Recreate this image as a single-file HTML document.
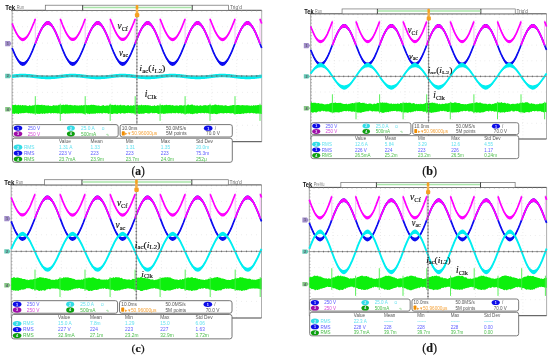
<!DOCTYPE html>
<html><head><meta charset="utf-8"><title>Oscilloscope waveforms</title><style>html,body{margin:0;padding:0;background:#fff;width:550px;height:356px;overflow:hidden}svg{display:block}</style></head><body>
<svg width="550" height="356" viewBox="0 0 550 356">
<defs><filter id="soft" x="0" y="0" width="1" height="1"><feGaussianBlur stdDeviation="0.35"/></filter></defs>
<rect width="550" height="356" fill="#fff"/>
<g filter="url(#soft)">
<rect width="550" height="356" fill="#fff"/>
<line x1="37.1" y1="10.3" x2="37.1" y2="141.7" stroke="#cfcfcf" stroke-width="0.6" stroke-dasharray="0.6 2.7"/>
<line x1="62" y1="10.3" x2="62" y2="141.7" stroke="#cfcfcf" stroke-width="0.6" stroke-dasharray="0.6 2.7"/>
<line x1="87" y1="10.3" x2="87" y2="141.7" stroke="#cfcfcf" stroke-width="0.6" stroke-dasharray="0.6 2.7"/>
<line x1="111.9" y1="10.3" x2="111.9" y2="141.7" stroke="#cfcfcf" stroke-width="0.6" stroke-dasharray="0.6 2.7"/>
<line x1="161.9" y1="10.3" x2="161.9" y2="141.7" stroke="#cfcfcf" stroke-width="0.6" stroke-dasharray="0.6 2.7"/>
<line x1="186.8" y1="10.3" x2="186.8" y2="141.7" stroke="#cfcfcf" stroke-width="0.6" stroke-dasharray="0.6 2.7"/>
<line x1="211.8" y1="10.3" x2="211.8" y2="141.7" stroke="#cfcfcf" stroke-width="0.6" stroke-dasharray="0.6 2.7"/>
<line x1="236.7" y1="10.3" x2="236.7" y2="141.7" stroke="#cfcfcf" stroke-width="0.6" stroke-dasharray="0.6 2.7"/>
<line x1="12.1" y1="26.7" x2="261.7" y2="26.7" stroke="#cfcfcf" stroke-width="0.6" stroke-dasharray="0.6 4.4"/>
<line x1="12.1" y1="43.1" x2="261.7" y2="43.1" stroke="#cfcfcf" stroke-width="0.6" stroke-dasharray="0.6 4.4"/>
<line x1="12.1" y1="59.6" x2="261.7" y2="59.6" stroke="#cfcfcf" stroke-width="0.6" stroke-dasharray="0.6 4.4"/>
<line x1="12.1" y1="92.4" x2="261.7" y2="92.4" stroke="#cfcfcf" stroke-width="0.6" stroke-dasharray="0.6 4.4"/>
<line x1="12.1" y1="108.8" x2="261.7" y2="108.8" stroke="#cfcfcf" stroke-width="0.6" stroke-dasharray="0.6 4.4"/>
<line x1="12.1" y1="125.3" x2="261.7" y2="125.3" stroke="#cfcfcf" stroke-width="0.6" stroke-dasharray="0.6 4.4"/>
<line x1="12.1" y1="10.3" x2="12.1" y2="141.7" stroke="#9a9a9a" stroke-width="0.9"/>
<path d="M12.1 13.6h1.3 M12.1 16.9h1.3 M12.1 20.2h1.3 M12.1 23.4h1.3 M12.1 26.7h1.3 M12.1 30h1.3 M12.1 33.3h1.3 M12.1 36.6h1.3 M12.1 39.9h1.3 M12.1 43.1h1.3 M12.1 46.4h1.3 M12.1 49.7h1.3 M12.1 53h1.3 M12.1 56.3h1.3 M12.1 59.6h1.3 M12.1 62.9h1.3 M12.1 66.1h1.3 M12.1 69.4h1.3 M12.1 72.7h1.3 M12.1 76h1.3 M12.1 79.3h1.3 M12.1 82.6h1.3 M12.1 85.9h1.3 M12.1 89.1h1.3 M12.1 92.4h1.3 M12.1 95.7h1.3 M12.1 99h1.3 M12.1 102.3h1.3 M12.1 105.6h1.3 M12.1 108.8h1.3 M12.1 112.1h1.3 M12.1 115.4h1.3 M12.1 118.7h1.3 M12.1 122h1.3 M12.1 125.3h1.3 M12.1 128.6h1.3 M12.1 131.8h1.3 M12.1 135.1h1.3 M12.1 138.4h1.3" stroke="#8a8a8a" stroke-width="0.6"/>
<line x1="261.7" y1="10.3" x2="261.7" y2="141.7" stroke="#999" stroke-width="0.8"/>
<line x1="12.1" y1="141.7" x2="261.7" y2="141.7" stroke="#444" stroke-width="1"/>
<line x1="11.1" y1="10.3" x2="261.7" y2="10.3" stroke="#333" stroke-width="0.9"/>
<path d="M12.1 10.3v1.3 M17.1 10.3v1.3 M22.1 10.3v1.3 M27.1 10.3v1.3 M32.1 10.3v1.3 M37.1 10.3v1.3 M42.1 10.3v1.3 M47 10.3v1.3 M52 10.3v1.3 M57 10.3v1.3 M62 10.3v1.3 M67 10.3v1.3 M72 10.3v1.3 M77 10.3v1.3 M82 10.3v1.3 M87 10.3v1.3 M92 10.3v1.3 M97 10.3v1.3 M102 10.3v1.3 M106.9 10.3v1.3 M111.9 10.3v1.3 M116.9 10.3v1.3 M121.9 10.3v1.3 M126.9 10.3v1.3 M131.9 10.3v1.3 M136.9 10.3v1.3 M141.9 10.3v1.3 M146.9 10.3v1.3 M151.9 10.3v1.3 M156.9 10.3v1.3 M161.9 10.3v1.3 M166.9 10.3v1.3 M171.8 10.3v1.3 M176.8 10.3v1.3 M181.8 10.3v1.3 M186.8 10.3v1.3 M191.8 10.3v1.3 M196.8 10.3v1.3 M201.8 10.3v1.3 M206.8 10.3v1.3 M211.8 10.3v1.3 M216.8 10.3v1.3 M221.8 10.3v1.3 M226.8 10.3v1.3 M231.7 10.3v1.3 M236.7 10.3v1.3 M241.7 10.3v1.3 M246.7 10.3v1.3 M251.7 10.3v1.3 M256.7 10.3v1.3 M261.7 10.3v1.3" stroke="#9a9a9a" stroke-width="0.6"/>
<path d="M12.1 47.3 13.1 49.8 14.2 52.1 15.2 54.3 16.3 56.2 17.3 57.9 18.3 59.3 19.4 60.4 20.4 61.3 21.5 61.8 22.5 62.1 23.5 62 24.6 61.7 25.6 61 26.7 60.1 27.7 58.8 28.7 57.3 29.8 55.5 30.8 53.5 31.9 51.3 32.9 48.9 33.9 46.4 35 43.7 36 41 37.1 38.3 38.1 35.7 39.1 33.1 40.2 30.6 41.2 28.4 42.3 26.4 43.3 24.6 44.3 23.2 45.4 22.1 46.4 21.4 47.5 21.1 48.5 21.1 49.5 21.6 50.6 22.5 51.6 23.7 52.7 25.2 53.7 27.1 54.7 29.2 55.8 31.5 56.8 34 57.9 36.6 58.9 39.3 59.9 42 61 44.7 62 47.3 63.1 49.8 64.1 52.1 65.1 54.3 66.2 56.2 67.2 57.9 68.3 59.3 69.3 60.4 70.3 61.3 71.4 61.8 72.4 62.1 73.5 62 74.5 61.7 75.5 61 76.6 60.1 77.6 58.8 78.7 57.3 79.7 55.5 80.7 53.5 81.8 51.3 82.8 48.9 83.9 46.4 84.9 43.7 85.9 41 87 38.3 88 35.7 89.1 33.1 90.1 30.6 91.1 28.4 92.2 26.4 93.2 24.6 94.3 23.2 95.3 22.1 96.3 21.4 97.4 21.1 98.4 21.1 99.5 21.6 100.5 22.5 101.5 23.7 102.6 25.2 103.6 27.1 104.7 29.2 105.7 31.5 106.7 34 107.8 36.6 108.8 39.3 109.9 42 110.9 44.7 111.9 47.3 113 49.8 114 52.1 115.1 54.3 116.1 56.2 117.1 57.9 118.2 59.3 119.2 60.4 120.3 61.3 121.3 61.8 122.3 62.1 123.4 62 124.4 61.7 125.5 61 126.5 60.1 127.5 58.8 128.6 57.3 129.6 55.5 130.7 53.5 131.7 51.3 132.7 48.9 133.8 46.4 134.8 43.7 135.9 41 136.9 38.3 137.9 35.7 139 33.1 140 30.6 141.1 28.4 142.1 26.4 143.1 24.6 144.2 23.2 145.2 22.1 146.3 21.4 147.3 21.1 148.3 21.1 149.4 21.6 150.4 22.5 151.5 23.7 152.5 25.2 153.5 27.1 154.6 29.2 155.6 31.5 156.7 34 157.7 36.6 158.7 39.3 159.8 42 160.8 44.7 161.9 47.3 162.9 49.8 163.9 52.1 165 54.3 166 56.2 167.1 57.9 168.1 59.3 169.1 60.4 170.2 61.3 171.2 61.8 172.3 62.1 173.3 62 174.3 61.7 175.4 61 176.4 60.1 177.5 58.8 178.5 57.3 179.5 55.5 180.6 53.5 181.6 51.3 182.7 48.9 183.7 46.4 184.7 43.7 185.8 41 186.8 38.3 187.9 35.7 188.9 33.1 189.9 30.6 191 28.4 192 26.4 193.1 24.6 194.1 23.2 195.1 22.1 196.2 21.4 197.2 21.1 198.3 21.1 199.3 21.6 200.3 22.5 201.4 23.7 202.4 25.2 203.5 27.1 204.5 29.2 205.5 31.5 206.6 34 207.6 36.6 208.7 39.3 209.7 42 210.7 44.7 211.8 47.3 212.8 49.8 213.9 52.1 214.9 54.3 215.9 56.2 217 57.9 218 59.3 219.1 60.4 220.1 61.3 221.1 61.8 222.2 62.1 223.2 62 224.3 61.7 225.3 61 226.3 60.1 227.4 58.8 228.4 57.3 229.5 55.5 230.5 53.5 231.5 51.3 232.6 48.9 233.6 46.4 234.7 43.7 235.7 41 236.7 38.3 237.8 35.7 238.8 33.1 239.9 30.6 240.9 28.4 241.9 26.4 243 24.6 244 23.2 245.1 22.1 246.1 21.4 247.1 21.1 248.2 21.1 249.2 21.6 250.3 22.5 251.3 23.7 252.3 25.2 253.4 27.1 254.4 29.2 255.5 31.5 256.5 34 257.5 36.6 258.6 39.3 259.6 42 260.7 44.7 261.7 47.3 261.7 48.6 260.7 45.9 259.6 43.2 258.6 40.6 257.5 38.1 256.5 35.7 255.5 33.5 254.4 31.4 253.4 29.7 252.3 28.2 251.3 26.9 250.3 25.9 249.2 25.3 248.2 24.9 247.1 24.9 246.1 25.1 245.1 25.7 244 26.5 243 27.7 241.9 29.1 240.9 30.8 239.9 32.7 238.8 34.8 237.8 37.2 236.7 39.7 235.7 42.3 234.7 44.9 233.6 47.6 232.6 50.3 231.5 53 230.5 55.5 229.5 57.8 228.4 59.9 227.4 61.7 226.3 63.3 225.3 64.5 224.3 65.4 223.2 65.8 222.2 65.9 221.1 65.6 220.1 64.9 219.1 63.8 218 62.3 217 60.6 215.9 58.6 214.9 56.3 213.9 53.9 212.8 51.3 211.8 48.6 210.7 45.9 209.7 43.2 208.7 40.6 207.6 38.1 206.6 35.7 205.5 33.5 204.5 31.4 203.5 29.7 202.4 28.2 201.4 26.9 200.3 25.9 199.3 25.3 198.3 24.9 197.2 24.9 196.2 25.1 195.1 25.7 194.1 26.5 193.1 27.7 192 29.1 191 30.8 189.9 32.7 188.9 34.8 187.9 37.2 186.8 39.7 185.8 42.3 184.7 44.9 183.7 47.6 182.7 50.3 181.6 53 180.6 55.5 179.5 57.8 178.5 59.9 177.5 61.7 176.4 63.3 175.4 64.5 174.3 65.4 173.3 65.8 172.3 65.9 171.2 65.6 170.2 64.9 169.1 63.8 168.1 62.3 167.1 60.6 166 58.6 165 56.3 163.9 53.9 162.9 51.3 161.9 48.6 160.8 45.9 159.8 43.2 158.7 40.6 157.7 38.1 156.7 35.7 155.6 33.5 154.6 31.4 153.5 29.7 152.5 28.2 151.5 26.9 150.4 25.9 149.4 25.3 148.3 24.9 147.3 24.9 146.3 25.1 145.2 25.7 144.2 26.5 143.1 27.7 142.1 29.1 141.1 30.8 140 32.7 139 34.8 137.9 37.2 136.9 39.7 135.9 42.3 134.8 44.9 133.8 47.6 132.7 50.3 131.7 53 130.7 55.5 129.6 57.8 128.6 59.9 127.5 61.7 126.5 63.3 125.5 64.5 124.4 65.4 123.4 65.8 122.3 65.9 121.3 65.6 120.3 64.9 119.2 63.8 118.2 62.3 117.1 60.6 116.1 58.6 115.1 56.3 114 53.9 113 51.3 111.9 48.6 110.9 45.9 109.9 43.2 108.8 40.6 107.8 38.1 106.7 35.7 105.7 33.5 104.7 31.4 103.6 29.7 102.6 28.2 101.5 26.9 100.5 25.9 99.5 25.3 98.4 24.9 97.4 24.9 96.3 25.1 95.3 25.7 94.3 26.5 93.2 27.7 92.2 29.1 91.1 30.8 90.1 32.7 89.1 34.8 88 37.2 87 39.7 85.9 42.3 84.9 44.9 83.9 47.6 82.8 50.3 81.8 53 80.7 55.5 79.7 57.8 78.7 59.9 77.6 61.7 76.6 63.3 75.5 64.5 74.5 65.4 73.5 65.8 72.4 65.9 71.4 65.6 70.3 64.9 69.3 63.8 68.3 62.3 67.2 60.6 66.2 58.6 65.1 56.3 64.1 53.9 63.1 51.3 62 48.6 61 45.9 59.9 43.2 58.9 40.6 57.9 38.1 56.8 35.7 55.8 33.5 54.7 31.4 53.7 29.7 52.7 28.2 51.6 26.9 50.6 25.9 49.5 25.3 48.5 24.9 47.5 24.9 46.4 25.1 45.4 25.7 44.3 26.5 43.3 27.7 42.3 29.1 41.2 30.8 40.2 32.7 39.1 34.8 38.1 37.2 37.1 39.7 36 42.3 35 44.9 33.9 47.6 32.9 50.3 31.9 53 30.8 55.5 29.8 57.8 28.7 59.9 27.7 61.7 26.7 63.3 25.6 64.5 24.6 65.4 23.5 65.8 22.5 65.9 21.5 65.6 20.4 64.9 19.4 63.8 18.3 62.3 17.3 60.6 16.3 58.6 15.2 56.3 14.2 53.9 13.1 51.3 12.1 48.6Z" fill="#0a0af0"/>
<path d="M12.1 48 13.7 51.8 15.2 55.3 16.8 58.3 18.3 60.8 19.9 62.6 21.5 63.7 23 64 24.6 63.5 26.1 62.3 27.7 60.3 29.3 57.7 30.8 54.5 32.4 50.9 33.9 47 35.5 43 37.1 39 38.6 35.2 40.2 31.7 41.7 28.6 43.3 26.1 44.9 24.3 46.4 23.3 48 23 49.5 23.4 51.1 24.7 52.7 26.7 54.2 29.3 55.8 32.5 57.3 36.1 58.9 39.9 60.5 44 62 48 63.6 51.8 65.1 55.3 66.7 58.3 68.3 60.8 69.8 62.6 71.4 63.7 72.9 64 74.5 63.5 76.1 62.3 77.6 60.3 79.2 57.7 80.7 54.5 82.3 50.9 83.9 47 85.4 43 87 39 88.5 35.2 90.1 31.7 91.7 28.6 93.2 26.1 94.8 24.3 96.3 23.3 97.9 23 99.5 23.4 101 24.7 102.6 26.7 104.1 29.3 105.7 32.5 107.3 36.1 108.8 39.9 110.4 44 111.9 48 113.5 51.8 115.1 55.3 116.6 58.3 118.2 60.8 119.7 62.6 121.3 63.7 122.9 64 124.4 63.5 126 62.3 127.5 60.3 129.1 57.7 130.7 54.5 132.2 50.9 133.8 47 135.3 43 136.9 39 138.5 35.2 140 31.7 141.6 28.6 143.1 26.1 144.7 24.3 146.3 23.3 147.8 23 149.4 23.4 150.9 24.7 152.5 26.7 154.1 29.3 155.6 32.5 157.2 36.1 158.7 39.9 160.3 44 161.9 48 163.4 51.8 165 55.3 166.5 58.3 168.1 60.8 169.7 62.6 171.2 63.7 172.8 64 174.3 63.5 175.9 62.3 177.5 60.3 179 57.7 180.6 54.5 182.1 50.9 183.7 47 185.3 43 186.8 39 188.4 35.2 189.9 31.7 191.5 28.6 193.1 26.1 194.6 24.3 196.2 23.3 197.7 23 199.3 23.4 200.9 24.7 202.4 26.7 204 29.3 205.5 32.5 207.1 36.1 208.7 39.9 210.2 44 211.8 48 213.3 51.8 214.9 55.3 216.5 58.3 218 60.8 219.6 62.6 221.1 63.7 222.7 64 224.3 63.5 225.8 62.3 227.4 60.3 228.9 57.7 230.5 54.5 232.1 50.9 233.6 47 235.2 43 236.7 39 238.3 35.2 239.9 31.7 241.4 28.6 243 26.1 244.5 24.3 246.1 23.3 247.7 23 249.2 23.4 250.8 24.7 252.3 26.7 253.9 29.3 255.5 32.5 257 36.1 258.6 39.9 260.1 44 261.7 48" fill="none" stroke="#0a0af0" stroke-width="1.7"/>
<path d="M35.3 17.8V44 M60.3 17.8V44 M85.2 17.8V44 M110.2 17.8V44 M135.2 17.8V44 M160.1 17.8V44 M185.1 17.8V44 M210 17.8V44 M235 17.8V44 M260 17.8V44" stroke="#f8a8f8" stroke-width="0.8"/>
<path d="M12.1 22.8 13.2 25.4 14.2 27.8 15.3 30 16.3 31.9 17.4 33.7 18.4 35.1 19.5 36.3 20.5 37.1 21.6 37.7 22.7 37.9 23.7 37.8 24.8 37.3 25.8 36.6 26.9 35.5 27.9 34.2 29 32.6 30 30.7 31.1 28.5 32.1 26.2 33.2 23.7 34.3 21.1 35.3 18.4 35.3 19.6 34.3 22.3 33.2 25.1 32.1 27.7 31.1 30.3 30 32.7 29 34.8 27.9 36.7 26.9 38.3 25.8 39.6 24.8 40.5 23.7 41 22.7 41.2 21.6 40.9 20.5 40.3 19.5 39.2 18.4 37.8 17.4 36.1 16.3 34.1 15.3 31.9 14.2 29.4 13.2 26.8 12.1 24.1Z M35.3 42.9 36.4 40.2 37.4 37.5 38.4 34.8 39.5 32.3 40.5 29.9 41.6 27.8 42.6 25.8 43.6 24.2 44.7 22.9 45.7 21.9 46.8 21.3 47.8 21.1 48.8 21.3 49.9 21.9 50.9 22.9 52 24.2 53 25.8 54 27.8 55.1 29.9 56.1 32.3 57.2 34.8 58.2 37.5 59.2 40.2 60.3 42.9 60.3 44.1 59.2 41.4 58.2 38.8 57.2 36.4 56.1 34.1 55.1 32 54 30.2 53 28.5 52 27.2 50.9 26.1 49.9 25.4 48.8 24.9 47.8 24.7 46.8 24.9 45.7 25.4 44.7 26.1 43.6 27.2 42.6 28.5 41.6 30.2 40.5 32 39.5 34.1 38.4 36.4 37.4 38.8 36.4 41.4 35.3 44.1Z M60.3 18.4 61.4 21.2 62.4 23.9 63.5 26.4 64.6 28.8 65.7 30.9 66.8 32.8 67.9 34.5 69 35.8 70 36.8 71.1 37.5 72.2 37.8 73.3 37.8 74.4 37.5 75.5 36.8 76.6 35.8 77.6 34.5 78.7 32.8 79.8 30.9 80.9 28.8 82 26.4 83.1 23.9 84.1 21.2 85.2 18.4 85.2 19.6 84.1 22.4 83.1 25.2 82 28 80.9 30.6 79.8 33 78.7 35.2 77.6 37.1 76.6 38.7 75.5 39.9 74.4 40.7 73.3 41.1 72.2 41.1 71.1 40.7 70 39.9 69 38.7 67.9 37.1 66.8 35.2 65.7 33 64.6 30.6 63.5 28 62.4 25.2 61.4 22.4 60.3 19.6Z M85.2 42.9 86.3 40.2 87.3 37.5 88.4 34.8 89.4 32.3 90.4 29.9 91.5 27.8 92.5 25.8 93.6 24.2 94.6 22.9 95.6 21.9 96.7 21.3 97.7 21.1 98.8 21.3 99.8 21.9 100.8 22.9 101.9 24.2 102.9 25.8 104 27.8 105 29.9 106 32.3 107.1 34.8 108.1 37.5 109.2 40.2 110.2 42.9 110.2 44.1 109.2 41.4 108.1 38.8 107.1 36.4 106 34.1 105 32 104 30.2 102.9 28.5 101.9 27.2 100.8 26.1 99.8 25.4 98.8 24.9 97.7 24.7 96.7 24.9 95.6 25.4 94.6 26.1 93.6 27.2 92.5 28.5 91.5 30.2 90.4 32 89.4 34.1 88.4 36.4 87.3 38.8 86.3 41.4 85.2 44.1Z M110.2 18.4 111.3 21.2 112.4 23.9 113.4 26.4 114.5 28.8 115.6 30.9 116.7 32.8 117.8 34.5 118.9 35.8 120 36.8 121 37.5 122.1 37.8 123.2 37.8 124.3 37.5 125.4 36.8 126.5 35.8 127.6 34.5 128.6 32.8 129.7 30.9 130.8 28.8 131.9 26.4 133 23.9 134.1 21.2 135.2 18.4 135.2 19.6 134.1 22.4 133 25.2 131.9 28 130.8 30.6 129.7 33 128.6 35.2 127.6 37.1 126.5 38.7 125.4 39.9 124.3 40.7 123.2 41.1 122.1 41.1 121 40.7 120 39.9 118.9 38.7 117.8 37.1 116.7 35.2 115.6 33 114.5 30.6 113.4 28 112.4 25.2 111.3 22.4 110.2 19.6Z M135.2 42.9 136.2 40.2 137.2 37.5 138.3 34.8 139.3 32.3 140.4 29.9 141.4 27.8 142.4 25.8 143.5 24.2 144.5 22.9 145.6 21.9 146.6 21.3 147.6 21.1 148.7 21.3 149.7 21.9 150.8 22.9 151.8 24.2 152.8 25.8 153.9 27.8 154.9 29.9 156 32.3 157 34.8 158 37.5 159.1 40.2 160.1 42.9 160.1 44.1 159.1 41.4 158 38.8 157 36.4 156 34.1 154.9 32 153.9 30.2 152.8 28.5 151.8 27.2 150.8 26.1 149.7 25.4 148.7 24.9 147.6 24.7 146.6 24.9 145.6 25.4 144.5 26.1 143.5 27.2 142.4 28.5 141.4 30.2 140.4 32 139.3 34.1 138.3 36.4 137.2 38.8 136.2 41.4 135.2 44.1Z M160.1 18.4 161.2 21.1 162.2 23.6 163.2 26.1 164.3 28.4 165.3 30.5 166.4 32.4 167.4 34 168.4 35.4 169.5 36.5 170.5 37.3 171.6 37.7 172.6 37.9 173.6 37.7 174.7 37.3 175.7 36.5 176.8 35.4 177.8 34 178.8 32.4 179.9 30.5 180.9 28.4 182 26.1 183 23.6 184 21.1 185.1 18.4 185.1 19.6 184 22.3 183 25 182 27.6 180.9 30.1 179.9 32.5 178.8 34.6 177.8 36.6 176.8 38.2 175.7 39.5 174.7 40.4 173.6 41 172.6 41.2 171.6 41 170.5 40.4 169.5 39.5 168.4 38.2 167.4 36.6 166.4 34.6 165.3 32.5 164.3 30.1 163.2 27.6 162.2 25 161.2 22.3 160.1 19.6Z M185.1 42.9 186.1 40.2 187.2 37.5 188.2 34.8 189.2 32.3 190.3 29.9 191.3 27.8 192.4 25.8 193.4 24.2 194.4 22.9 195.5 21.9 196.5 21.3 197.6 21.1 198.6 21.3 199.6 21.9 200.7 22.9 201.7 24.2 202.8 25.8 203.8 27.8 204.8 29.9 205.9 32.3 206.9 34.8 208 37.5 209 40.2 210 42.9 210 44.1 209 41.4 208 38.8 206.9 36.4 205.9 34.1 204.8 32 203.8 30.2 202.8 28.5 201.7 27.2 200.7 26.1 199.6 25.4 198.6 24.9 197.6 24.7 196.5 24.9 195.5 25.4 194.4 26.1 193.4 27.2 192.4 28.5 191.3 30.2 190.3 32 189.2 34.1 188.2 36.4 187.2 38.8 186.1 41.4 185.1 44.1Z M210 18.4 211.1 21.1 212.1 23.6 213.2 26.1 214.2 28.4 215.2 30.5 216.3 32.4 217.3 34 218.4 35.4 219.4 36.5 220.4 37.3 221.5 37.7 222.5 37.9 223.6 37.7 224.6 37.3 225.6 36.5 226.7 35.4 227.7 34 228.8 32.4 229.8 30.5 230.8 28.4 231.9 26.1 232.9 23.6 234 21.1 235 18.4 235 19.6 234 22.3 232.9 25 231.9 27.6 230.8 30.1 229.8 32.5 228.8 34.6 227.7 36.6 226.7 38.2 225.6 39.5 224.6 40.4 223.6 41 222.5 41.2 221.5 41 220.4 40.4 219.4 39.5 218.4 38.2 217.3 36.6 216.3 34.6 215.2 32.5 214.2 30.1 213.2 27.6 212.1 25 211.1 22.3 210 19.6Z M235 42.9 236 40.2 237.1 37.5 238.1 34.8 239.2 32.3 240.2 29.9 241.2 27.8 242.3 25.8 243.3 24.2 244.4 22.9 245.4 21.9 246.4 21.3 247.5 21.1 248.5 21.3 249.6 21.9 250.6 22.9 251.6 24.2 252.7 25.8 253.7 27.8 254.8 29.9 255.8 32.3 256.8 34.8 257.9 37.5 258.9 40.2 260 42.9 260 44.1 258.9 41.4 257.9 38.8 256.8 36.4 255.8 34.1 254.8 32 253.7 30.2 252.7 28.5 251.6 27.2 250.6 26.1 249.6 25.4 248.5 24.9 247.5 24.7 246.4 24.9 245.4 25.4 244.4 26.1 243.3 27.2 242.3 28.5 241.2 30.2 240.2 32 239.2 34.1 238.1 36.4 237.1 38.8 236 41.4 235 44.1Z M260 18.4 260.8 20.6 261.7 22.8 261.7 24.1 260.8 21.9 260 19.6Z" fill="#ff00ff"/>
<path d="M12.1 23.5 13.2 26.1 14.2 28.6 15.3 30.9 16.3 33 17.4 34.9 18.4 36.5 19.5 37.7 20.5 38.7 21.6 39.3 22.7 39.5 23.7 39.4 24.8 38.9 25.8 38.1 26.9 36.9 27.9 35.5 29 33.7 30 31.7 31.1 29.4 32.1 27 33.2 24.4 34.3 21.7 35.3 19 M35.3 43.5 36.4 40.8 37.4 38.2 38.4 35.6 39.5 33.2 40.5 31 41.6 29 42.6 27.2 43.6 25.7 44.7 24.5 45.7 23.6 46.8 23.1 47.8 22.9 48.8 23.1 49.9 23.6 50.9 24.5 52 25.7 53 27.2 54 29 55.1 31 56.1 33.2 57.2 35.6 58.2 38.2 59.2 40.8 60.3 43.5 M60.3 19 61.4 21.8 62.4 24.5 63.5 27.2 64.6 29.7 65.7 32 66.8 34 67.9 35.8 69 37.2 70 38.4 71.1 39.1 72.2 39.5 73.3 39.5 74.4 39.1 75.5 38.4 76.6 37.2 77.6 35.8 78.7 34 79.8 32 80.9 29.7 82 27.2 83.1 24.5 84.1 21.8 85.2 19 M85.2 43.5 86.3 40.8 87.3 38.2 88.4 35.6 89.4 33.2 90.4 31 91.5 29 92.5 27.2 93.6 25.7 94.6 24.5 95.6 23.6 96.7 23.1 97.7 22.9 98.8 23.1 99.8 23.6 100.8 24.5 101.9 25.7 102.9 27.2 104 29 105 31 106 33.2 107.1 35.6 108.1 38.2 109.2 40.8 110.2 43.5 M110.2 19 111.3 21.8 112.4 24.5 113.4 27.2 114.5 29.7 115.6 32 116.7 34 117.8 35.8 118.9 37.2 120 38.4 121 39.1 122.1 39.5 123.2 39.5 124.3 39.1 125.4 38.4 126.5 37.2 127.6 35.8 128.6 34 129.7 32 130.8 29.7 131.9 27.2 133 24.5 134.1 21.8 135.2 19 M135.2 43.5 136.2 40.8 137.2 38.2 138.3 35.6 139.3 33.2 140.4 31 141.4 29 142.4 27.2 143.5 25.7 144.5 24.5 145.6 23.6 146.6 23.1 147.6 22.9 148.7 23.1 149.7 23.6 150.8 24.5 151.8 25.7 152.8 27.2 153.9 29 154.9 31 156 33.2 157 35.6 158 38.2 159.1 40.8 160.1 43.5 M160.1 19 161.2 21.7 162.2 24.3 163.2 26.9 164.3 29.3 165.3 31.5 166.4 33.5 167.4 35.3 168.4 36.8 169.5 38 170.5 38.8 171.6 39.4 172.6 39.5 173.6 39.4 174.7 38.8 175.7 38 176.8 36.8 177.8 35.3 178.8 33.5 179.9 31.5 180.9 29.3 182 26.9 183 24.3 184 21.7 185.1 19 M185.1 43.5 186.1 40.8 187.2 38.2 188.2 35.6 189.2 33.2 190.3 31 191.3 29 192.4 27.2 193.4 25.7 194.4 24.5 195.5 23.6 196.5 23.1 197.6 22.9 198.6 23.1 199.6 23.6 200.7 24.5 201.7 25.7 202.8 27.2 203.8 29 204.8 31 205.9 33.2 206.9 35.6 208 38.2 209 40.8 210 43.5 M210 19 211.1 21.7 212.1 24.3 213.2 26.9 214.2 29.3 215.2 31.5 216.3 33.5 217.3 35.3 218.4 36.8 219.4 38 220.4 38.8 221.5 39.4 222.5 39.5 223.6 39.4 224.6 38.8 225.6 38 226.7 36.8 227.7 35.3 228.8 33.5 229.8 31.5 230.8 29.3 231.9 26.9 232.9 24.3 234 21.7 235 19 M235 43.5 236 40.8 237.1 38.2 238.1 35.6 239.2 33.2 240.2 31 241.2 29 242.3 27.2 243.3 25.7 244.4 24.5 245.4 23.6 246.4 23.1 247.5 22.9 248.5 23.1 249.6 23.6 250.6 24.5 251.6 25.7 252.7 27.2 253.7 29 254.8 31 255.8 33.2 256.8 35.6 257.9 38.2 258.9 40.8 260 43.5 M260 19 260.8 21.3 261.7 23.5" fill="none" stroke="#ff00ff" stroke-width="1.7"/>
<path d="M12.1 74.5 13.1 74.4 14.2 74.3 15.2 74.2 16.3 74.1 17.3 74 18.3 73.9 19.4 73.8 20.4 73.8 21.5 73.8 22.5 73.8 23.5 73.8 24.6 73.8 25.6 73.8 26.7 73.9 27.7 73.9 28.7 74 29.8 74.1 30.8 74.2 31.9 74.3 32.9 74.4 33.9 74.6 35 74.7 36 74.8 37.1 75 38.1 75.1 39.1 75.2 40.2 75.3 41.2 75.4 42.3 75.5 43.3 75.6 44.3 75.6 45.4 75.7 46.4 75.7 47.5 75.7 48.5 75.7 49.5 75.7 50.6 75.7 51.6 75.6 52.7 75.5 53.7 75.5 54.7 75.4 55.8 75.3 56.8 75.2 57.9 75 58.9 74.9 59.9 74.8 61 74.7 62 74.5 63.1 74.4 64.1 74.3 65.1 74.2 66.2 74.1 67.2 74 68.3 73.9 69.3 73.8 70.3 73.8 71.4 73.8 72.4 73.8 73.5 73.8 74.5 73.8 75.5 73.8 76.6 73.9 77.6 73.9 78.7 74 79.7 74.1 80.7 74.2 81.8 74.3 82.8 74.4 83.9 74.6 84.9 74.7 85.9 74.8 87 75 88 75.1 89.1 75.2 90.1 75.3 91.1 75.4 92.2 75.5 93.2 75.6 94.3 75.6 95.3 75.7 96.3 75.7 97.4 75.7 98.4 75.7 99.5 75.7 100.5 75.7 101.5 75.6 102.6 75.5 103.6 75.5 104.7 75.4 105.7 75.3 106.7 75.2 107.8 75 108.8 74.9 109.9 74.8 110.9 74.7 111.9 74.5 113 74.4 114 74.3 115.1 74.2 116.1 74.1 117.1 74 118.2 73.9 119.2 73.8 120.3 73.8 121.3 73.8 122.3 73.8 123.4 73.8 124.4 73.8 125.5 73.8 126.5 73.9 127.5 73.9 128.6 74 129.6 74.1 130.7 74.2 131.7 74.3 132.7 74.4 133.8 74.6 134.8 74.7 135.9 74.8 136.9 75 137.9 75.1 139 75.2 140 75.3 141.1 75.4 142.1 75.5 143.1 75.6 144.2 75.6 145.2 75.7 146.3 75.7 147.3 75.7 148.3 75.7 149.4 75.7 150.4 75.7 151.5 75.6 152.5 75.5 153.5 75.5 154.6 75.4 155.6 75.3 156.7 75.2 157.7 75 158.7 74.9 159.8 74.8 160.8 74.7 161.9 74.5 162.9 74.4 163.9 74.3 165 74.2 166 74.1 167.1 74 168.1 73.9 169.1 73.8 170.2 73.8 171.2 73.8 172.3 73.8 173.3 73.8 174.3 73.8 175.4 73.8 176.4 73.9 177.5 73.9 178.5 74 179.5 74.1 180.6 74.2 181.6 74.3 182.7 74.4 183.7 74.6 184.7 74.7 185.8 74.8 186.8 75 187.9 75.1 188.9 75.2 189.9 75.3 191 75.4 192 75.5 193.1 75.6 194.1 75.6 195.1 75.7 196.2 75.7 197.2 75.7 198.3 75.7 199.3 75.7 200.3 75.7 201.4 75.6 202.4 75.5 203.5 75.5 204.5 75.4 205.5 75.3 206.6 75.2 207.6 75 208.7 74.9 209.7 74.8 210.7 74.7 211.8 74.5 212.8 74.4 213.9 74.3 214.9 74.2 215.9 74.1 217 74 218 73.9 219.1 73.8 220.1 73.8 221.1 73.8 222.2 73.8 223.2 73.8 224.3 73.8 225.3 73.8 226.3 73.9 227.4 73.9 228.4 74 229.5 74.1 230.5 74.2 231.5 74.3 232.6 74.4 233.6 74.6 234.7 74.7 235.7 74.8 236.7 75 237.8 75.1 238.8 75.2 239.9 75.3 240.9 75.4 241.9 75.5 243 75.6 244 75.6 245.1 75.7 246.1 75.7 247.1 75.7 248.2 75.7 249.2 75.7 250.3 75.7 251.3 75.6 252.3 75.5 253.4 75.5 254.4 75.4 255.5 75.3 256.5 75.2 257.5 75 258.6 74.9 259.6 74.8 260.7 74.7 261.7 74.5 261.7 78 260.7 78.2 259.6 78.3 258.6 78.4 257.5 78.5 256.5 78.7 255.5 78.8 254.4 78.9 253.4 79 252.3 79 251.3 79.1 250.3 79.2 249.2 79.2 248.2 79.2 247.1 79.2 246.1 79.2 245.1 79.2 244 79.1 243 79.1 241.9 79 240.9 78.9 239.9 78.8 238.8 78.7 237.8 78.6 236.7 78.5 235.7 78.3 234.7 78.2 233.6 78.1 232.6 77.9 231.5 77.8 230.5 77.7 229.5 77.6 228.4 77.5 227.4 77.4 226.3 77.4 225.3 77.3 224.3 77.3 223.2 77.3 222.2 77.3 221.1 77.3 220.1 77.3 219.1 77.3 218 77.4 217 77.5 215.9 77.6 214.9 77.7 213.9 77.8 212.8 77.9 211.8 78 210.7 78.2 209.7 78.3 208.7 78.4 207.6 78.5 206.6 78.7 205.5 78.8 204.5 78.9 203.5 79 202.4 79 201.4 79.1 200.3 79.2 199.3 79.2 198.3 79.2 197.2 79.2 196.2 79.2 195.1 79.2 194.1 79.1 193.1 79.1 192 79 191 78.9 189.9 78.8 188.9 78.7 187.9 78.6 186.8 78.5 185.8 78.3 184.7 78.2 183.7 78.1 182.7 77.9 181.6 77.8 180.6 77.7 179.5 77.6 178.5 77.5 177.5 77.4 176.4 77.4 175.4 77.3 174.3 77.3 173.3 77.3 172.3 77.3 171.2 77.3 170.2 77.3 169.1 77.3 168.1 77.4 167.1 77.5 166 77.6 165 77.7 163.9 77.8 162.9 77.9 161.9 78 160.8 78.2 159.8 78.3 158.7 78.4 157.7 78.5 156.7 78.7 155.6 78.8 154.6 78.9 153.5 79 152.5 79 151.5 79.1 150.4 79.2 149.4 79.2 148.3 79.2 147.3 79.2 146.3 79.2 145.2 79.2 144.2 79.1 143.1 79.1 142.1 79 141.1 78.9 140 78.8 139 78.7 137.9 78.6 136.9 78.5 135.9 78.3 134.8 78.2 133.8 78.1 132.7 77.9 131.7 77.8 130.7 77.7 129.6 77.6 128.6 77.5 127.5 77.4 126.5 77.4 125.5 77.3 124.4 77.3 123.4 77.3 122.3 77.3 121.3 77.3 120.3 77.3 119.2 77.3 118.2 77.4 117.1 77.5 116.1 77.6 115.1 77.7 114 77.8 113 77.9 111.9 78 110.9 78.2 109.9 78.3 108.8 78.4 107.8 78.5 106.7 78.7 105.7 78.8 104.7 78.9 103.6 79 102.6 79 101.5 79.1 100.5 79.2 99.5 79.2 98.4 79.2 97.4 79.2 96.3 79.2 95.3 79.2 94.3 79.1 93.2 79.1 92.2 79 91.1 78.9 90.1 78.8 89.1 78.7 88 78.6 87 78.5 85.9 78.3 84.9 78.2 83.9 78.1 82.8 77.9 81.8 77.8 80.7 77.7 79.7 77.6 78.7 77.5 77.6 77.4 76.6 77.4 75.5 77.3 74.5 77.3 73.5 77.3 72.4 77.3 71.4 77.3 70.3 77.3 69.3 77.3 68.3 77.4 67.2 77.5 66.2 77.6 65.1 77.7 64.1 77.8 63.1 77.9 62 78 61 78.2 59.9 78.3 58.9 78.4 57.9 78.5 56.8 78.7 55.8 78.8 54.7 78.9 53.7 79 52.7 79 51.6 79.1 50.6 79.2 49.5 79.2 48.5 79.2 47.5 79.2 46.4 79.2 45.4 79.2 44.3 79.1 43.3 79.1 42.3 79 41.2 78.9 40.2 78.8 39.1 78.7 38.1 78.6 37.1 78.5 36 78.3 35 78.2 33.9 78.1 32.9 77.9 31.9 77.8 30.8 77.7 29.8 77.6 28.7 77.5 27.7 77.4 26.7 77.4 25.6 77.3 24.6 77.3 23.5 77.3 22.5 77.3 21.5 77.3 20.4 77.3 19.4 77.3 18.3 77.4 17.3 77.5 16.3 77.6 15.2 77.7 14.2 77.8 13.1 77.9 12.1 78Z" fill="#00eef0"/>
<path d="M12.1 76.3 13.7 76.1 15.2 75.9 16.8 75.8 18.3 75.7 19.9 75.6 21.5 75.5 23 75.5 24.6 75.5 26.1 75.6 27.7 75.7 29.3 75.8 30.8 76 32.4 76.1 33.9 76.3 35.5 76.5 37.1 76.7 38.6 76.9 40.2 77.1 41.7 77.2 43.3 77.3 44.9 77.4 46.4 77.5 48 77.5 49.5 77.5 51.1 77.4 52.7 77.3 54.2 77.2 55.8 77 57.3 76.8 58.9 76.7 60.5 76.5 62 76.3 63.6 76.1 65.1 75.9 66.7 75.8 68.3 75.7 69.8 75.6 71.4 75.5 72.9 75.5 74.5 75.5 76.1 75.6 77.6 75.7 79.2 75.8 80.7 76 82.3 76.1 83.9 76.3 85.4 76.5 87 76.7 88.5 76.9 90.1 77.1 91.7 77.2 93.2 77.3 94.8 77.4 96.3 77.5 97.9 77.5 99.5 77.5 101 77.4 102.6 77.3 104.1 77.2 105.7 77 107.3 76.8 108.8 76.7 110.4 76.5 111.9 76.3 113.5 76.1 115.1 75.9 116.6 75.8 118.2 75.7 119.7 75.6 121.3 75.5 122.9 75.5 124.4 75.5 126 75.6 127.5 75.7 129.1 75.8 130.7 76 132.2 76.1 133.8 76.3 135.3 76.5 136.9 76.7 138.5 76.9 140 77.1 141.6 77.2 143.1 77.3 144.7 77.4 146.3 77.5 147.8 77.5 149.4 77.5 150.9 77.4 152.5 77.3 154.1 77.2 155.6 77 157.2 76.8 158.7 76.7 160.3 76.5 161.9 76.3 163.4 76.1 165 75.9 166.5 75.8 168.1 75.7 169.7 75.6 171.2 75.5 172.8 75.5 174.3 75.5 175.9 75.6 177.5 75.7 179 75.8 180.6 76 182.1 76.1 183.7 76.3 185.3 76.5 186.8 76.7 188.4 76.9 189.9 77.1 191.5 77.2 193.1 77.3 194.6 77.4 196.2 77.5 197.7 77.5 199.3 77.5 200.9 77.4 202.4 77.3 204 77.2 205.5 77 207.1 76.8 208.7 76.7 210.2 76.5 211.8 76.3 213.3 76.1 214.9 75.9 216.5 75.8 218 75.7 219.6 75.6 221.1 75.5 222.7 75.5 224.3 75.5 225.8 75.6 227.4 75.7 228.9 75.8 230.5 76 232.1 76.1 233.6 76.3 235.2 76.5 236.7 76.7 238.3 76.9 239.9 77.1 241.4 77.2 243 77.3 244.5 77.4 246.1 77.5 247.7 77.5 249.2 77.5 250.8 77.4 252.3 77.3 253.9 77.2 255.5 77 257 76.8 258.6 76.7 260.1 76.5 261.7 76.3" fill="none" stroke="#00eef0" stroke-width="1.9"/>
<path d="M12.1 104.6 12.9 105.2 13.8 104.9 14.6 105.1 15.4 104.5 16.3 105.3 17.1 105.2 17.9 105 18.8 104.8 19.6 105.5 20.4 104.7 21.3 105.7 22.1 105.1 22.9 104.9 23.7 105.4 24.6 105.2 25.4 105.3 26.2 105.3 27.1 105.9 27.9 105.7 28.7 106 29.6 105.1 30.4 105.7 31.2 105.8 32.1 105.7 32.9 105.1 33.7 105.6 34.6 105.1 35.4 104.6 36.2 105.3 37.1 104.6 37.9 105.1 38.7 104.8 39.6 104.9 40.4 104.9 41.2 104.9 42.1 104.5 42.9 105.5 43.7 105 44.5 105.1 45.4 105.5 46.2 105.6 47 105.4 47.9 105.5 48.7 105.2 49.5 106 50.4 105.8 51.2 105.9 52 105.9 52.9 105.6 53.7 105.1 54.5 105.6 55.4 105.5 56.2 105.3 57 105.4 57.9 105.4 58.7 104.7 59.5 104.8 60.4 105.4 61.2 105.3 62 104.7 62.9 105.1 63.7 104.4 64.5 105.2 65.3 104.5 66.2 104.8 67 104.6 67.8 104.7 68.7 105.3 69.5 105 70.3 104.7 71.2 105.2 72 104.9 72.8 105.4 73.7 105.6 74.5 105 75.3 105.2 76.2 105.2 77 105.7 77.8 105.3 78.7 105.8 79.5 105.2 80.3 105.4 81.2 105.2 82 104.9 82.8 105.7 83.7 105 84.5 104.9 85.3 105.3 86.1 104.8 87 105.3 87.8 105.3 88.6 105 89.5 105.3 90.3 105.1 91.1 104.8 92 104.7 92.8 104.9 93.6 104.7 94.5 104.9 95.3 105 96.1 105.7 97 105 97.8 105.9 98.6 105.3 99.5 105.7 100.3 106 101.1 105.9 102 105.5 102.8 105.3 103.6 105.1 104.5 105.9 105.3 105.7 106.1 105.7 106.9 105.2 107.8 105.6 108.6 105.7 109.4 104.8 110.3 104.7 111.1 104.6 111.9 105.3 112.8 104.8 113.6 105.2 114.4 105 115.3 104.5 116.1 105.3 116.9 105.4 117.8 104.8 118.6 105.4 119.4 105.3 120.3 104.8 121.1 104.8 121.9 105.8 122.8 105 123.6 105.2 124.4 105.1 125.3 105.4 126.1 106 126.9 105.3 127.7 105.2 128.6 105.1 129.4 106 130.2 105.6 131.1 105.2 131.9 105.8 132.7 105.7 133.6 104.9 134.4 105.6 135.2 105.3 136.1 104.8 136.9 104.8 137.7 104.5 138.6 105.4 139.4 105.1 140.2 105.4 141.1 104.7 141.9 104.8 142.7 105.4 143.6 104.9 144.4 105.2 145.2 104.9 146.1 105 146.9 105.4 147.7 105 148.5 105.2 149.4 105.5 150.2 105.2 151 105.9 151.9 106 152.7 105.8 153.5 105.9 154.4 105.1 155.2 105.9 156 105.8 156.9 105.7 157.7 105.1 158.5 105.5 159.4 105.5 160.2 105.3 161 104.9 161.9 105.2 162.7 104.7 163.5 105.4 164.4 105 165.2 105.3 166 104.8 166.9 104.7 167.7 105.2 168.5 105.1 169.3 105 170.2 104.8 171 105.6 171.8 105.2 172.7 105.1 173.5 105.5 174.3 105.7 175.2 105.7 176 105.3 176.8 105.5 177.7 105.5 178.5 105.9 179.3 105.3 180.2 105 181 105.4 181.8 105 182.7 105.7 183.5 105.4 184.3 105 185.2 105.3 186 105.4 186.8 105.4 187.7 104.6 188.5 104.6 189.3 105.2 190.1 105.1 191 104.8 191.8 104.6 192.6 104.6 193.5 105.4 194.3 104.9 195.1 105.7 196 105.5 196.8 105.5 197.6 105.3 198.5 105.9 199.3 105.8 200.1 105.2 201 105.2 201.8 106 202.6 105.7 203.5 105.2 204.3 105.3 205.1 105 206 105.3 206.8 105.5 207.6 105.6 208.5 105 209.3 104.9 210.1 104.8 210.9 105.3 211.8 105.4 212.6 104.9 213.4 105.2 214.3 104.8 215.1 104.5 215.9 104.6 216.8 105 217.6 105.3 218.4 104.7 219.3 105.2 220.1 105.2 220.9 105.3 221.8 105.3 222.6 105.2 223.4 105.7 224.3 105.5 225.1 105.4 225.9 105.1 226.8 105.7 227.6 105.9 228.4 106 229.3 105.8 230.1 105.7 230.9 105.2 231.7 105.5 232.6 105.1 233.4 105.1 234.2 105 235.1 105.2 235.9 105.4 236.7 105 237.6 105.1 238.4 105 239.2 105 240.1 105.4 240.9 105.3 241.7 105.3 242.6 104.9 243.4 105.3 244.2 105.2 245.1 105.5 245.9 105.2 246.7 105.3 247.6 105.3 248.4 105.6 249.2 105.5 250.1 105.7 250.9 105.7 251.7 105.3 252.5 105.9 253.4 105.1 254.2 105.5 255 105.5 255.9 105.1 256.7 105.6 257.5 105 258.4 104.9 259.2 104.8 260 105.4 260.9 104.7 261.7 105.2 261.7 114.1 260.9 114.1 260 113.4 259.2 113.8 258.4 113.5 257.5 113.5 256.7 113.7 255.9 113.4 255 113.5 254.2 113.1 253.4 113.5 252.5 112.9 251.7 112.8 250.9 113.2 250.1 113.1 249.2 113.6 248.4 112.7 247.6 113.1 246.7 113.6 245.9 113 245.1 113.5 244.2 113.2 243.4 114 242.6 113.4 241.7 113.8 240.9 114 240.1 114.1 239.2 113.9 238.4 113.7 237.6 113.9 236.7 114 235.9 113.9 235.1 113.8 234.2 113.9 233.4 113.4 232.6 112.9 231.7 113.4 230.9 113 230.1 113.7 229.3 113.1 228.4 113.1 227.6 113.1 226.8 113.5 225.9 112.9 225.1 112.9 224.3 113.3 223.4 113.4 222.6 113.2 221.8 113.3 220.9 112.9 220.1 113.3 219.3 113.4 218.4 113.6 217.6 114.1 216.8 114.2 215.9 114 215.1 114.1 214.3 113.6 213.4 113.8 212.6 114.1 211.8 113.8 210.9 114 210.1 113.8 209.3 113.6 208.5 113.5 207.6 113.1 206.8 113.5 206 112.8 205.1 112.9 204.3 113.4 203.5 112.9 202.6 113 201.8 112.7 201 113.5 200.1 113 199.3 113.1 198.5 113.1 197.6 113.7 196.8 113.5 196 113.8 195.1 113.1 194.3 114 193.5 113.7 192.6 114.2 191.8 113.9 191 113.8 190.1 114 189.3 113.3 188.5 113.8 187.7 113.5 186.8 113.8 186 114.1 185.2 113.7 184.3 113.8 183.5 113.8 182.7 113.2 181.8 113.6 181 113.7 180.2 112.8 179.3 113.3 178.5 113.6 177.7 113.2 176.8 112.8 176 113.1 175.2 113.4 174.3 113.1 173.5 113.2 172.7 112.8 171.8 113.5 171 113.3 170.2 113.2 169.3 113.2 168.5 113.2 167.7 113.6 166.9 113.2 166 113.6 165.2 113.7 164.4 113.8 163.5 114.1 162.7 113.3 161.9 113.9 161 113.3 160.2 113.3 159.4 113.8 158.5 113.9 157.7 113.8 156.9 112.9 156 112.9 155.2 113 154.4 113.2 153.5 113 152.7 113.6 151.9 112.8 151 112.7 150.2 113.2 149.4 113.5 148.5 113.5 147.7 113.4 146.9 112.9 146.1 113 145.2 113 144.4 113.6 143.6 113.7 142.7 113.5 141.9 114.1 141.1 113.6 140.2 113.7 139.4 113.9 138.6 113.7 137.7 113.5 136.9 113.5 136.1 113.7 135.2 113.8 134.4 113.6 133.6 113.6 132.7 113 131.9 113.8 131.1 112.8 130.2 113.2 129.4 113 128.6 112.7 127.7 113.3 126.9 113.1 126.1 112.9 125.3 113.6 124.4 113.6 123.6 113.5 122.8 113 121.9 113.3 121.1 113.2 120.3 113.9 119.4 113.1 118.6 113.1 117.8 114 116.9 113.7 116.1 113.8 115.3 113.5 114.4 113.5 113.6 113.6 112.8 113.9 111.9 114 111.1 114 110.3 113.2 109.4 113.6 108.6 113.9 107.8 113.5 106.9 113.1 106.1 113.2 105.3 113.3 104.5 112.9 103.6 112.8 102.8 113.4 102 113.6 101.1 113.3 100.3 113 99.5 113.5 98.6 112.9 97.8 113.6 97 113.2 96.1 112.9 95.3 113.9 94.5 113.6 93.6 113.8 92.8 113.4 92 113.9 91.1 113.6 90.3 113.8 89.5 114.3 88.6 113.4 87.8 114.2 87 113.3 86.1 113.2 85.3 113.5 84.5 114 83.7 113.8 82.8 113.8 82 113.1 81.2 113.4 80.3 113.3 79.5 113.3 78.7 113.2 77.8 113.6 77 113.2 76.2 113.3 75.3 113.4 74.5 112.7 73.7 113.5 72.8 113 72 113.7 71.2 113.1 70.3 113.4 69.5 113.5 68.7 113.6 67.8 113.4 67 113.7 66.2 113.3 65.3 113.9 64.5 113.5 63.7 113.3 62.9 113.3 62 114.1 61.2 114 60.4 113.9 59.5 113.6 58.7 113.2 57.9 113.4 57 113.5 56.2 113.1 55.4 113.2 54.5 112.9 53.7 113.5 52.9 113.1 52 113.1 51.2 113.4 50.4 113.5 49.5 112.7 48.7 113.3 47.9 113.2 47 113.8 46.2 113.1 45.4 113.5 44.5 114 43.7 113.3 42.9 113.8 42.1 113.9 41.2 113.3 40.4 113.7 39.6 114.1 38.7 113.7 37.9 113.9 37.1 113.8 36.2 113.6 35.4 113.4 34.6 113.6 33.7 113.8 32.9 113.5 32.1 113.5 31.2 113.2 30.4 113.4 29.6 113 28.7 113.5 27.9 112.8 27.1 113.2 26.2 112.6 25.4 113.1 24.6 112.9 23.7 113.2 22.9 113 22.1 113.3 21.3 113.3 20.4 113.5 19.6 113.1 18.8 114.1 17.9 113.9 17.1 113.2 16.3 113.7 15.4 113.3 14.6 114.1 13.8 113.7 12.9 113.5 12.1 114.1Z" fill="#10f010"/>
<path d="M35.3 96.2V114.9 M60.3 103.7V120.9 M85.2 96.2V114.9 M110.2 103.7V120.9 M135.2 96.2V114.9 M160.1 103.7V120.9 M185.1 96.2V114.9 M210 103.7V120.9 M235 96.2V114.9 M260 103.7V120.9" stroke="#48ee48" stroke-width="0.9"/>
<line x1="136.9" y1="10.3" x2="136.9" y2="141.7" stroke="#8a8a8a" stroke-width="0.85"/>
<line x1="12.1" y1="76" x2="261.7" y2="76" stroke="#8a8a8a" stroke-width="0.85"/>
<path d="M17.1 75.2v1.6 M22.1 75.2v1.6 M27.1 75.2v1.6 M32.1 75.2v1.6 M37.1 75.2v1.6 M42.1 75.2v1.6 M47 75.2v1.6 M52 75.2v1.6 M57 75.2v1.6 M62 75.2v1.6 M67 75.2v1.6 M72 75.2v1.6 M77 75.2v1.6 M82 75.2v1.6 M87 75.2v1.6 M92 75.2v1.6 M97 75.2v1.6 M102 75.2v1.6 M106.9 75.2v1.6 M111.9 75.2v1.6 M116.9 75.2v1.6 M121.9 75.2v1.6 M126.9 75.2v1.6 M131.9 75.2v1.6 M136.9 75.2v1.6 M141.9 75.2v1.6 M146.9 75.2v1.6 M151.9 75.2v1.6 M156.9 75.2v1.6 M161.9 75.2v1.6 M166.9 75.2v1.6 M171.8 75.2v1.6 M176.8 75.2v1.6 M181.8 75.2v1.6 M186.8 75.2v1.6 M191.8 75.2v1.6 M196.8 75.2v1.6 M201.8 75.2v1.6 M206.8 75.2v1.6 M211.8 75.2v1.6 M216.8 75.2v1.6 M221.8 75.2v1.6 M226.8 75.2v1.6 M231.7 75.2v1.6 M236.7 75.2v1.6 M241.7 75.2v1.6 M246.7 75.2v1.6 M251.7 75.2v1.6 M256.7 75.2v1.6 M136.1 13.6h1.6 M136.1 16.9h1.6 M136.1 20.2h1.6 M136.1 23.4h1.6 M136.1 26.7h1.6 M136.1 30h1.6 M136.1 33.3h1.6 M136.1 36.6h1.6 M136.1 39.9h1.6 M136.1 43.1h1.6 M136.1 46.4h1.6 M136.1 49.7h1.6 M136.1 53h1.6 M136.1 56.3h1.6 M136.1 59.6h1.6 M136.1 62.9h1.6 M136.1 66.1h1.6 M136.1 69.4h1.6 M136.1 72.7h1.6 M136.1 76h1.6 M136.1 79.3h1.6 M136.1 82.6h1.6 M136.1 85.9h1.6 M136.1 89.1h1.6 M136.1 92.4h1.6 M136.1 95.7h1.6 M136.1 99h1.6 M136.1 102.3h1.6 M136.1 105.6h1.6 M136.1 108.8h1.6 M136.1 112.1h1.6 M136.1 115.4h1.6 M136.1 118.7h1.6 M136.1 122h1.6 M136.1 125.3h1.6 M136.1 128.6h1.6 M136.1 131.8h1.6 M136.1 135.1h1.6 M136.1 138.4h1.6" stroke="#555" stroke-width="0.7"/>
<path d="M5.2 41H9.8L11.5 43.6L9.8 46.2H5.2Z" fill="#a08cc8"/><text x="7.9" y="45" font-family="Liberation Sans, sans-serif" font-size="3.8" font-weight="bold" fill="#5a5a6a" text-anchor="middle">1</text>
<path d="M5.2 73.8H9.8L11.5 76L9.8 78.2H5.2Z" fill="#62c8b4"/><text x="7.9" y="77.4" font-family="Liberation Sans, sans-serif" font-size="3.8" font-weight="bold" fill="#5a5a6a" text-anchor="middle">2</text>
<path d="M5.2 107.1H9.8L11.5 109.3L9.8 111.5H5.2Z" fill="#84c484"/><text x="7.9" y="110.7" font-family="Liberation Sans, sans-serif" font-size="3.8" font-weight="bold" fill="#5a5a6a" text-anchor="middle">4</text>
<g transform="translate(12.1,10.3) scale(1.0000,1.0000)" font-family="Liberation Sans, sans-serif"><text x="-6.9" y="-0.2" font-size="6.6" font-weight="bold" fill="#111" textLength="10" lengthAdjust="spacingAndGlyphs">Tek</text>
<text x="4.6" y="-1.1" font-size="5.2" fill="#777" textLength="7.2" lengthAdjust="spacingAndGlyphs">Run</text>
<rect x="33.2" y="-5.1" width="183.3" height="5.1" fill="#fff" stroke="#6a6a6a" stroke-width="0.7"/>
<line x1="70.6" y1="-5.1" x2="70.6" y2="0" stroke="#222" stroke-width="0.9"/>
<line x1="180.1" y1="-5.1" x2="180.1" y2="0" stroke="#222" stroke-width="0.9"/>
<line x1="71" y1="-2.9" x2="179.7" y2="-2.9" stroke="#a8e4a8" stroke-width="1.5"/>
<text x="217.8" y="-1.0" font-size="5.6" fill="#666" textLength="12" lengthAdjust="spacingAndGlyphs">Trig'd</text>
<rect x="123.6" y="-5.4" width="2.6" height="4.8" rx="1" fill="#f5a020"/>
<rect x="122.8" y="2.6" width="4.4" height="4.4" rx="1.3" fill="#f5a020"/>
<rect x="123.6" y="-0.8" width="2.6" height="3.6" fill="#f7b24a"/>
<rect x="0.4" y="114.3" width="105.7" height="12.4" rx="2.2" fill="#fff" stroke="#707070" stroke-width="0.95"/>
<rect x="108.0" y="114.3" width="112.2" height="12.4" rx="2.2" fill="#fff" stroke="#707070" stroke-width="0.95"/>
<rect x="0.4" y="127.9" width="219.8" height="24.1" rx="2.2" fill="#fff" stroke="#707070" stroke-width="0.95"/>
<ellipse cx="5.9" cy="117.8" rx="4.3" ry="2.6" fill="#1010e8"/><text x="5.9" y="119.3" font-size="3.8" font-weight="bold" fill="#e8e8ff" text-anchor="middle">1</text>
<ellipse cx="5.9" cy="123.5" rx="4.3" ry="2.6" fill="#a010a8"/><text x="5.9" y="125" font-size="3.8" font-weight="bold" fill="#e8e8ff" text-anchor="middle">3</text>
<ellipse cx="58.8" cy="117.8" rx="4" ry="2.6" fill="#33dde6"/><text x="58.8" y="119.3" font-size="3.8" font-weight="bold" fill="#e8e8ff" text-anchor="middle">2</text>
<ellipse cx="58.8" cy="123.5" rx="4" ry="2.6" fill="#10a010"/><text x="58.8" y="125" font-size="3.8" font-weight="bold" fill="#e8e8ff" text-anchor="middle">4</text>
<text x="15.6" y="119.9" fill="#5c5cff" font-size="4.8" >250 V</text>
<text x="15.6" y="125.6" fill="#d84cd8" font-size="4.8" >250 V</text>
<text x="68.9" y="119.9" fill="#66e2f0" font-size="4.8" >25.0 A</text>
<text x="89.6" y="119.9" fill="#66e2f0" font-size="3.6" >Ω</text>
<text x="68.9" y="125.6" fill="#48bc48" font-size="4.8" >500mA</text>
<text x="94.2" y="125.6" fill="#48bc48" font-size="4.2" >∿</text>
<text x="109.7" y="119.6" fill="#555" font-size="4.8" >10.0ms</text>
<text x="153.8" y="119.6" fill="#555" font-size="4.8" >50.0MS/s</text>
<ellipse cx="196.1" cy="117.9" rx="4.3" ry="2.6" fill="#1010e8"/><text x="196.1" y="119.4" font-size="3.8" font-weight="bold" fill="#e8e8ff" text-anchor="middle">1</text>
<text x="202.6" y="119.6" fill="#555" font-size="4.8" >/</text>
<rect x="109.7" y="121.0" width="3.0" height="4.2" rx="0.6" fill="#f08c00"/>
<text x="113.4" y="125.2" fill="#f5a33a" font-size="4.9" >▸▾50.96000μs</text>
<text x="153.8" y="125.2" fill="#555" font-size="4.8" >5M points</text>
<text x="193.9" y="125.2" fill="#555" font-size="4.8" >70.0 V</text>
<text x="46.8" y="132.6" fill="#555" font-size="4.8" >Value</text>
<text x="78.5" y="132.6" fill="#555" font-size="4.8" >Mean</text>
<text x="113.6" y="132.6" fill="#555" font-size="4.8" >Min</text>
<text x="148.7" y="132.6" fill="#555" font-size="4.8" >Max</text>
<text x="183.8" y="132.6" fill="#555" font-size="4.8" >Std Dev</text>
<ellipse cx="5.9" cy="136.9" rx="4.3" ry="2.6" fill="#33dde6"/><text x="5.9" y="138.4" font-size="3.8" font-weight="bold" fill="#e8e8ff" text-anchor="middle">2</text>
<text x="11.8" y="138.8" fill="#66e2f0" font-size="4.8" >RMS</text>
<text x="46.8" y="138.8" fill="#66e2f0" font-size="4.8" >1.31 A</text>
<text x="78.5" y="138.8" fill="#66e2f0" font-size="4.8" >1.33</text>
<text x="113.6" y="138.8" fill="#66e2f0" font-size="4.8" >1.31</text>
<text x="148.7" y="138.8" fill="#66e2f0" font-size="4.8" >1.35</text>
<text x="183.8" y="138.8" fill="#66e2f0" font-size="4.8" >20.0m</text>
<ellipse cx="5.9" cy="142.8" rx="4.3" ry="2.6" fill="#1010e8"/><text x="5.9" y="144.3" font-size="3.8" font-weight="bold" fill="#e8e8ff" text-anchor="middle">1</text>
<text x="11.8" y="144.6" fill="#5c5cff" font-size="4.8" >RMS</text>
<text x="46.8" y="144.6" fill="#5c5cff" font-size="4.8" >223 V</text>
<text x="78.5" y="144.6" fill="#5c5cff" font-size="4.8" >223</text>
<text x="113.6" y="144.6" fill="#5c5cff" font-size="4.8" >223</text>
<text x="148.7" y="144.6" fill="#5c5cff" font-size="4.8" >223</text>
<text x="183.8" y="144.6" fill="#5c5cff" font-size="4.8" >75.3m</text>
<ellipse cx="5.9" cy="148.8" rx="4.3" ry="2.6" fill="#10a010"/><text x="5.9" y="150.3" font-size="3.8" font-weight="bold" fill="#e8e8ff" text-anchor="middle">4</text>
<text x="11.8" y="150.4" fill="#48bc48" font-size="4.8" >RMS</text>
<text x="46.8" y="150.4" fill="#48bc48" font-size="4.8" >23.7mA</text>
<text x="78.5" y="150.4" fill="#48bc48" font-size="4.8" >23.9m</text>
<text x="113.6" y="150.4" fill="#48bc48" font-size="4.8" >23.7m</text>
<text x="148.7" y="150.4" fill="#48bc48" font-size="4.8" >24.0m</text>
<text x="183.8" y="150.4" fill="#48bc48" font-size="4.8" >252μ</text></g>
<g font-family="Liberation Serif, serif" fill="#151515" stroke="#151515" stroke-width="0.18"><g transform="translate(117.48,29.41) scale(0.935,1.040)"><text font-size="10" font-style="italic">v<tspan font-size="6.8" font-style="normal" dy="1.6">Cf</tspan></text></g><g transform="translate(118.89,55.97) scale(0.889,0.944)"><text font-size="10" font-style="italic">v<tspan font-size="6.8" font-style="normal" dy="1.6">ac</tspan></text></g><g transform="translate(139.37,71.28) scale(1.010,0.811)"><text font-size="10" font-style="italic">i<tspan font-size="6.8" font-style="normal" dy="1.6">ac</tspan><tspan dy="-1.6" font-style="normal">(</tspan>i<tspan font-size="6.8" font-style="normal" dy="1.6">L2</tspan><tspan dy="-1.6" font-style="normal">)</tspan></text></g><g transform="translate(144.70,97.28) scale(0.958,0.994)"><text font-size="10" font-style="italic">i<tspan font-size="6.8" font-style="normal" dy="1.6">Clk</tspan></text></g><g transform="translate(131.52,175.36) scale(0.954,0.977)"><text font-size="12">(<tspan font-weight="bold">a</tspan>)</text></g></g>
<line x1="334.3" y1="13.8" x2="334.3" y2="139" stroke="#cfcfcf" stroke-width="0.6" stroke-dasharray="0.6 2.5"/>
<line x1="357.9" y1="13.8" x2="357.9" y2="139" stroke="#cfcfcf" stroke-width="0.6" stroke-dasharray="0.6 2.5"/>
<line x1="381.4" y1="13.8" x2="381.4" y2="139" stroke="#cfcfcf" stroke-width="0.6" stroke-dasharray="0.6 2.5"/>
<line x1="405" y1="13.8" x2="405" y2="139" stroke="#cfcfcf" stroke-width="0.6" stroke-dasharray="0.6 2.5"/>
<line x1="452.2" y1="13.8" x2="452.2" y2="139" stroke="#cfcfcf" stroke-width="0.6" stroke-dasharray="0.6 2.5"/>
<line x1="475.8" y1="13.8" x2="475.8" y2="139" stroke="#cfcfcf" stroke-width="0.6" stroke-dasharray="0.6 2.5"/>
<line x1="499.3" y1="13.8" x2="499.3" y2="139" stroke="#cfcfcf" stroke-width="0.6" stroke-dasharray="0.6 2.5"/>
<line x1="522.9" y1="13.8" x2="522.9" y2="139" stroke="#cfcfcf" stroke-width="0.6" stroke-dasharray="0.6 2.5"/>
<line x1="310.7" y1="29.5" x2="546.5" y2="29.5" stroke="#cfcfcf" stroke-width="0.6" stroke-dasharray="0.6 4.1"/>
<line x1="310.7" y1="45.1" x2="546.5" y2="45.1" stroke="#cfcfcf" stroke-width="0.6" stroke-dasharray="0.6 4.1"/>
<line x1="310.7" y1="60.8" x2="546.5" y2="60.8" stroke="#cfcfcf" stroke-width="0.6" stroke-dasharray="0.6 4.1"/>
<line x1="310.7" y1="92" x2="546.5" y2="92" stroke="#cfcfcf" stroke-width="0.6" stroke-dasharray="0.6 4.1"/>
<line x1="310.7" y1="107.7" x2="546.5" y2="107.7" stroke="#cfcfcf" stroke-width="0.6" stroke-dasharray="0.6 4.1"/>
<line x1="310.7" y1="123.3" x2="546.5" y2="123.3" stroke="#cfcfcf" stroke-width="0.6" stroke-dasharray="0.6 4.1"/>
<line x1="310.7" y1="13.8" x2="310.7" y2="139" stroke="#9a9a9a" stroke-width="0.9"/>
<path d="M310.7 16.9h1.3 M310.7 20.1h1.3 M310.7 23.2h1.3 M310.7 26.3h1.3 M310.7 29.5h1.3 M310.7 32.6h1.3 M310.7 35.7h1.3 M310.7 38.8h1.3 M310.7 42h1.3 M310.7 45.1h1.3 M310.7 48.2h1.3 M310.7 51.4h1.3 M310.7 54.5h1.3 M310.7 57.6h1.3 M310.7 60.8h1.3 M310.7 63.9h1.3 M310.7 67h1.3 M310.7 70.1h1.3 M310.7 73.3h1.3 M310.7 76.4h1.3 M310.7 79.5h1.3 M310.7 82.7h1.3 M310.7 85.8h1.3 M310.7 88.9h1.3 M310.7 92h1.3 M310.7 95.2h1.3 M310.7 98.3h1.3 M310.7 101.4h1.3 M310.7 104.6h1.3 M310.7 107.7h1.3 M310.7 110.8h1.3 M310.7 114h1.3 M310.7 117.1h1.3 M310.7 120.2h1.3 M310.7 123.3h1.3 M310.7 126.5h1.3 M310.7 129.6h1.3 M310.7 132.7h1.3 M310.7 135.9h1.3" stroke="#8a8a8a" stroke-width="0.6"/>
<line x1="546.5" y1="13.8" x2="546.5" y2="139" stroke="#999" stroke-width="0.8"/>
<line x1="310.7" y1="139" x2="546.5" y2="139" stroke="#444" stroke-width="1"/>
<line x1="309.7" y1="13.8" x2="546.5" y2="13.8" stroke="#333" stroke-width="0.9"/>
<path d="M310.7 13.8v1.3 M315.4 13.8v1.3 M320.1 13.8v1.3 M324.8 13.8v1.3 M329.6 13.8v1.3 M334.3 13.8v1.3 M339 13.8v1.3 M343.7 13.8v1.3 M348.4 13.8v1.3 M353.1 13.8v1.3 M357.9 13.8v1.3 M362.6 13.8v1.3 M367.3 13.8v1.3 M372 13.8v1.3 M376.7 13.8v1.3 M381.4 13.8v1.3 M386.2 13.8v1.3 M390.9 13.8v1.3 M395.6 13.8v1.3 M400.3 13.8v1.3 M405 13.8v1.3 M409.7 13.8v1.3 M414.5 13.8v1.3 M419.2 13.8v1.3 M423.9 13.8v1.3 M428.6 13.8v1.3 M433.3 13.8v1.3 M438 13.8v1.3 M442.7 13.8v1.3 M447.5 13.8v1.3 M452.2 13.8v1.3 M456.9 13.8v1.3 M461.6 13.8v1.3 M466.3 13.8v1.3 M471 13.8v1.3 M475.8 13.8v1.3 M480.5 13.8v1.3 M485.2 13.8v1.3 M489.9 13.8v1.3 M494.6 13.8v1.3 M499.3 13.8v1.3 M504.1 13.8v1.3 M508.8 13.8v1.3 M513.5 13.8v1.3 M518.2 13.8v1.3 M522.9 13.8v1.3 M527.6 13.8v1.3 M532.4 13.8v1.3 M537.1 13.8v1.3 M541.8 13.8v1.3 M546.5 13.8v1.3" stroke="#9a9a9a" stroke-width="0.6"/>
<path d="M310.7 49.2 311.7 51.5 312.7 53.7 313.6 55.6 314.6 57.4 315.6 58.9 316.6 60.2 317.6 61.2 318.6 61.9 319.5 62.4 320.5 62.5 321.5 62.4 322.5 62 323.5 61.3 324.5 60.4 325.4 59.1 326.4 57.6 327.4 55.9 328.4 54 329.4 51.9 330.3 49.6 331.3 47.2 332.3 44.7 333.3 42.2 334.3 39.6 335.3 37.1 336.2 34.7 337.2 32.4 338.2 30.3 339.2 28.5 340.2 26.9 341.2 25.6 342.1 24.7 343.1 24.1 344.1 23.9 345.1 24 346.1 24.6 347.1 25.4 348 26.7 349 28.2 350 30 351 32.1 352 34.3 352.9 36.7 353.9 39.2 354.9 41.8 355.9 44.3 356.9 46.8 357.9 49.2 358.8 51.5 359.8 53.7 360.8 55.6 361.8 57.4 362.8 58.9 363.8 60.2 364.7 61.2 365.7 61.9 366.7 62.4 367.7 62.5 368.7 62.4 369.6 62 370.6 61.3 371.6 60.4 372.6 59.1 373.6 57.6 374.6 55.9 375.5 54 376.5 51.9 377.5 49.6 378.5 47.2 379.5 44.7 380.5 42.2 381.4 39.6 382.4 37.1 383.4 34.7 384.4 32.4 385.4 30.3 386.4 28.5 387.3 26.9 388.3 25.6 389.3 24.7 390.3 24.1 391.3 23.9 392.2 24 393.2 24.6 394.2 25.4 395.2 26.7 396.2 28.2 397.2 30 398.1 32.1 399.1 34.3 400.1 36.7 401.1 39.2 402.1 41.8 403.1 44.3 404 46.8 405 49.2 406 51.5 407 53.7 408 55.6 408.9 57.4 409.9 58.9 410.9 60.2 411.9 61.2 412.9 61.9 413.9 62.4 414.8 62.5 415.8 62.4 416.8 62 417.8 61.3 418.8 60.4 419.8 59.1 420.7 57.6 421.7 55.9 422.7 54 423.7 51.9 424.7 49.6 425.7 47.2 426.6 44.7 427.6 42.2 428.6 39.6 429.6 37.1 430.6 34.7 431.5 32.4 432.5 30.3 433.5 28.5 434.5 26.9 435.5 25.6 436.5 24.7 437.4 24.1 438.4 23.9 439.4 24 440.4 24.6 441.4 25.4 442.4 26.7 443.3 28.2 444.3 30 445.3 32.1 446.3 34.3 447.3 36.7 448.2 39.2 449.2 41.8 450.2 44.3 451.2 46.8 452.2 49.2 453.2 51.5 454.1 53.7 455.1 55.6 456.1 57.4 457.1 58.9 458.1 60.2 459.1 61.2 460 61.9 461 62.4 462 62.5 463 62.4 464 62 465 61.3 465.9 60.4 466.9 59.1 467.9 57.6 468.9 55.9 469.9 54 470.8 51.9 471.8 49.6 472.8 47.2 473.8 44.7 474.8 42.2 475.8 39.6 476.7 37.1 477.7 34.7 478.7 32.4 479.7 30.3 480.7 28.5 481.7 26.9 482.6 25.6 483.6 24.7 484.6 24.1 485.6 23.9 486.6 24 487.6 24.6 488.5 25.4 489.5 26.7 490.5 28.2 491.5 30 492.5 32.1 493.4 34.3 494.4 36.7 495.4 39.2 496.4 41.8 497.4 44.3 498.4 46.8 499.3 49.2 500.3 51.5 501.3 53.7 502.3 55.6 503.3 57.4 504.3 58.9 505.2 60.2 506.2 61.2 507.2 61.9 508.2 62.4 509.2 62.5 510.1 62.4 511.1 62 512.1 61.3 513.1 60.4 514.1 59.1 515.1 57.6 516 55.9 517 54 518 51.9 519 49.6 520 47.2 521 44.7 521.9 42.2 522.9 39.6 523.9 37.1 524.9 34.7 525.9 32.4 526.9 30.3 527.8 28.5 528.8 26.9 529.8 25.6 530.8 24.7 531.8 24.1 532.7 23.9 533.7 24 534.7 24.6 535.7 25.4 536.7 26.7 537.7 28.2 538.6 30 539.6 32.1 540.6 34.3 541.6 36.7 542.6 39.2 543.6 41.8 544.5 44.3 545.5 46.8 546.5 49.2 546.5 50.6 545.5 48 544.5 45.5 543.6 43 542.6 40.6 541.6 38.3 540.6 36.2 539.6 34.3 538.6 32.6 537.7 31.1 536.7 29.8 535.7 28.9 534.7 28.2 533.7 27.8 532.7 27.7 531.8 27.8 530.8 28.3 529.8 29 528.8 30 527.8 31.3 526.9 32.8 525.9 34.6 524.9 36.5 523.9 38.7 522.9 41 521.9 43.4 521 45.9 520 48.4 519 51 518 53.5 517 55.9 516 58.1 515.1 60.2 514.1 62 513.1 63.5 512.1 64.8 511.1 65.6 510.1 66.2 509.2 66.3 508.2 66.1 507.2 65.5 506.2 64.6 505.2 63.3 504.3 61.7 503.3 59.9 502.3 57.8 501.3 55.5 500.3 53.1 499.3 50.6 498.4 48 497.4 45.5 496.4 43 495.4 40.6 494.4 38.3 493.4 36.2 492.5 34.3 491.5 32.6 490.5 31.1 489.5 29.8 488.5 28.9 487.6 28.2 486.6 27.8 485.6 27.7 484.6 27.8 483.6 28.3 482.6 29 481.7 30 480.7 31.3 479.7 32.8 478.7 34.6 477.7 36.5 476.7 38.7 475.8 41 474.8 43.4 473.8 45.9 472.8 48.4 471.8 51 470.8 53.5 469.9 55.9 468.9 58.1 467.9 60.2 466.9 62 465.9 63.5 465 64.8 464 65.6 463 66.2 462 66.3 461 66.1 460 65.5 459.1 64.6 458.1 63.3 457.1 61.7 456.1 59.9 455.1 57.8 454.1 55.5 453.2 53.1 452.2 50.6 451.2 48 450.2 45.5 449.2 43 448.2 40.6 447.3 38.3 446.3 36.2 445.3 34.3 444.3 32.6 443.3 31.1 442.4 29.8 441.4 28.9 440.4 28.2 439.4 27.8 438.4 27.7 437.4 27.8 436.5 28.3 435.5 29 434.5 30 433.5 31.3 432.5 32.8 431.5 34.6 430.6 36.5 429.6 38.7 428.6 41 427.6 43.4 426.6 45.9 425.7 48.4 424.7 51 423.7 53.5 422.7 55.9 421.7 58.1 420.7 60.2 419.8 62 418.8 63.5 417.8 64.8 416.8 65.6 415.8 66.2 414.8 66.3 413.9 66.1 412.9 65.5 411.9 64.6 410.9 63.3 409.9 61.7 408.9 59.9 408 57.8 407 55.5 406 53.1 405 50.6 404 48 403.1 45.5 402.1 43 401.1 40.6 400.1 38.3 399.1 36.2 398.1 34.3 397.2 32.6 396.2 31.1 395.2 29.8 394.2 28.9 393.2 28.2 392.2 27.8 391.3 27.7 390.3 27.8 389.3 28.3 388.3 29 387.3 30 386.4 31.3 385.4 32.8 384.4 34.6 383.4 36.5 382.4 38.7 381.4 41 380.5 43.4 379.5 45.9 378.5 48.4 377.5 51 376.5 53.5 375.5 55.9 374.6 58.1 373.6 60.2 372.6 62 371.6 63.5 370.6 64.8 369.6 65.6 368.7 66.2 367.7 66.3 366.7 66.1 365.7 65.5 364.7 64.6 363.8 63.3 362.8 61.7 361.8 59.9 360.8 57.8 359.8 55.5 358.8 53.1 357.9 50.6 356.9 48 355.9 45.5 354.9 43 353.9 40.6 352.9 38.3 352 36.2 351 34.3 350 32.6 349 31.1 348 29.8 347.1 28.9 346.1 28.2 345.1 27.8 344.1 27.7 343.1 27.8 342.1 28.3 341.2 29 340.2 30 339.2 31.3 338.2 32.8 337.2 34.6 336.2 36.5 335.3 38.7 334.3 41 333.3 43.4 332.3 45.9 331.3 48.4 330.3 51 329.4 53.5 328.4 55.9 327.4 58.1 326.4 60.2 325.4 62 324.5 63.5 323.5 64.8 322.5 65.6 321.5 66.2 320.5 66.3 319.5 66.1 318.6 65.5 317.6 64.6 316.6 63.3 315.6 61.7 314.6 59.9 313.6 57.8 312.7 55.5 311.7 53.1 310.7 50.6Z" fill="#0a0af0"/>
<path d="M310.7 49.9 312.2 53.5 313.6 56.7 315.1 59.5 316.6 61.7 318.1 63.3 319.5 64.2 321 64.4 322.5 63.8 324 62.5 325.4 60.6 326.9 58 328.4 54.9 329.9 51.5 331.3 47.8 332.8 44 334.3 40.3 335.8 36.7 337.2 33.5 338.7 30.7 340.2 28.5 341.6 26.9 343.1 26 344.6 25.8 346.1 26.4 347.5 27.7 349 29.6 350.5 32.2 352 35.3 353.4 38.7 354.9 42.4 356.4 46.2 357.9 49.9 359.3 53.5 360.8 56.7 362.3 59.5 363.8 61.7 365.2 63.3 366.7 64.2 368.2 64.4 369.6 63.8 371.1 62.5 372.6 60.6 374.1 58 375.5 54.9 377 51.5 378.5 47.8 380 44 381.4 40.3 382.9 36.7 384.4 33.5 385.9 30.7 387.3 28.5 388.8 26.9 390.3 26 391.8 25.8 393.2 26.4 394.7 27.7 396.2 29.6 397.7 32.2 399.1 35.3 400.6 38.7 402.1 42.4 403.5 46.2 405 49.9 406.5 53.5 408 56.7 409.4 59.5 410.9 61.7 412.4 63.3 413.9 64.2 415.3 64.4 416.8 63.8 418.3 62.5 419.8 60.6 421.2 58 422.7 54.9 424.2 51.5 425.7 47.8 427.1 44 428.6 40.3 430.1 36.7 431.5 33.5 433 30.7 434.5 28.5 436 26.9 437.4 26 438.9 25.8 440.4 26.4 441.9 27.7 443.3 29.6 444.8 32.2 446.3 35.3 447.8 38.7 449.2 42.4 450.7 46.2 452.2 49.9 453.7 53.5 455.1 56.7 456.6 59.5 458.1 61.7 459.5 63.3 461 64.2 462.5 64.4 464 63.8 465.4 62.5 466.9 60.6 468.4 58 469.9 54.9 471.3 51.5 472.8 47.8 474.3 44 475.8 40.3 477.2 36.7 478.7 33.5 480.2 30.7 481.7 28.5 483.1 26.9 484.6 26 486.1 25.8 487.6 26.4 489 27.7 490.5 29.6 492 32.2 493.4 35.3 494.9 38.7 496.4 42.4 497.9 46.2 499.3 49.9 500.8 53.5 502.3 56.7 503.8 59.5 505.2 61.7 506.7 63.3 508.2 64.2 509.7 64.4 511.1 63.8 512.6 62.5 514.1 60.6 515.6 58 517 54.9 518.5 51.5 520 47.8 521.4 44 522.9 40.3 524.4 36.7 525.9 33.5 527.3 30.7 528.8 28.5 530.3 26.9 531.8 26 533.2 25.8 534.7 26.4 536.2 27.7 537.7 29.6 539.1 32.2 540.6 35.3 542.1 38.7 543.6 42.4 545 46.2 546.5 49.9" fill="none" stroke="#0a0af0" stroke-width="1.7"/>
<path d="M332.4 20.3V45.6 M356 20.3V45.6 M379.6 20.3V45.6 M403.1 20.3V45.6 M426.7 20.3V45.6 M450.3 20.3V45.6 M473.9 20.3V45.6 M497.5 20.3V45.6 M521 20.3V45.6 M544.6 20.3V45.6" stroke="#f8a8f8" stroke-width="0.8"/>
<path d="M310.7 25.8 311.7 28.3 312.7 30.5 313.7 32.6 314.6 34.5 315.6 36.1 316.6 37.5 317.6 38.6 318.6 39.4 319.6 39.8 320.6 40 321.5 39.9 322.5 39.4 323.5 38.7 324.5 37.6 325.5 36.3 326.5 34.7 327.5 32.8 328.4 30.7 329.4 28.5 330.4 26 331.4 23.5 332.4 20.9 332.4 22.1 331.4 24.7 330.4 27.4 329.4 30 328.4 32.5 327.5 34.8 326.5 36.9 325.5 38.8 324.5 40.4 323.5 41.7 322.5 42.6 321.5 43.1 320.6 43.3 319.6 43.1 318.6 42.5 317.6 41.6 316.6 40.3 315.6 38.6 314.6 36.7 313.7 34.6 312.7 32.2 311.7 29.8 310.7 27.2Z M332.4 44.5 333.4 42 334.4 39.4 335.3 36.9 336.3 34.5 337.3 32.3 338.3 30.2 339.3 28.4 340.3 26.9 341.2 25.6 342.2 24.7 343.2 24.2 344.2 24 345.2 24.2 346.1 24.7 347.1 25.6 348.1 26.9 349.1 28.4 350.1 30.2 351.1 32.3 352 34.5 353 36.9 354 39.4 355 42 356 44.5 356 45.7 355 43.2 354 40.8 353 38.5 352 36.3 351.1 34.4 350.1 32.6 349.1 31.1 348.1 29.9 347.1 28.9 346.1 28.2 345.2 27.7 344.2 27.6 343.2 27.7 342.2 28.2 341.2 28.9 340.3 29.9 339.3 31.1 338.3 32.6 337.3 34.4 336.3 36.3 335.3 38.5 334.4 40.8 333.4 43.2 332.4 45.7Z M356 20.9 357 23.5 357.9 26 358.9 28.4 359.9 30.7 360.9 32.8 361.9 34.6 362.9 36.2 363.8 37.6 364.8 38.6 365.8 39.4 366.8 39.9 367.8 40 368.7 39.9 369.7 39.4 370.7 38.6 371.7 37.6 372.7 36.2 373.7 34.6 374.6 32.8 375.6 30.7 376.6 28.4 377.6 26 378.6 23.5 379.6 20.9 379.6 22.1 378.6 24.7 377.6 27.4 376.6 29.9 375.6 32.4 374.6 34.7 373.7 36.9 372.7 38.7 371.7 40.3 370.7 41.6 369.7 42.5 368.7 43.1 367.8 43.3 366.8 43.1 365.8 42.5 364.8 41.6 363.8 40.3 362.9 38.7 361.9 36.9 360.9 34.7 359.9 32.4 358.9 29.9 357.9 27.4 357 24.7 356 22.1Z M379.6 44.5 380.5 42 381.5 39.4 382.5 36.9 383.5 34.5 384.5 32.3 385.4 30.2 386.4 28.4 387.4 26.9 388.4 25.6 389.4 24.7 390.4 24.2 391.3 24 392.3 24.2 393.3 24.7 394.3 25.6 395.3 26.9 396.3 28.4 397.2 30.2 398.2 32.3 399.2 34.5 400.2 36.9 401.2 39.4 402.2 42 403.1 44.5 403.1 45.7 402.2 43.2 401.2 40.8 400.2 38.5 399.2 36.3 398.2 34.4 397.2 32.6 396.3 31.1 395.3 29.9 394.3 28.9 393.3 28.2 392.3 27.7 391.3 27.6 390.4 27.7 389.4 28.2 388.4 28.9 387.4 29.9 386.4 31.1 385.4 32.6 384.5 34.4 383.5 36.3 382.5 38.5 381.5 40.8 380.5 43.2 379.6 45.7Z M403.1 20.9 404.1 23.5 405.1 26 406.1 28.4 407.1 30.7 408 32.8 409 34.6 410 36.2 411 37.6 412 38.6 413 39.4 413.9 39.9 414.9 40 415.9 39.9 416.9 39.4 417.9 38.6 418.9 37.6 419.8 36.2 420.8 34.6 421.8 32.8 422.8 30.7 423.8 28.4 424.7 26 425.7 23.5 426.7 20.9 426.7 22.1 425.7 24.7 424.7 27.4 423.8 29.9 422.8 32.4 421.8 34.7 420.8 36.9 419.8 38.7 418.9 40.3 417.9 41.6 416.9 42.5 415.9 43.1 414.9 43.3 413.9 43.1 413 42.5 412 41.6 411 40.3 410 38.7 409 36.9 408 34.7 407.1 32.4 406.1 29.9 405.1 27.4 404.1 24.7 403.1 22.1Z M426.7 44.5 427.7 42 428.7 39.4 429.7 36.9 430.6 34.5 431.6 32.3 432.6 30.2 433.6 28.4 434.6 26.9 435.6 25.6 436.5 24.7 437.5 24.2 438.5 24 439.5 24.2 440.5 24.7 441.5 25.6 442.4 26.9 443.4 28.4 444.4 30.2 445.4 32.3 446.4 34.5 447.3 36.9 448.3 39.4 449.3 42 450.3 44.5 450.3 45.7 449.3 43.2 448.3 40.8 447.3 38.5 446.4 36.3 445.4 34.4 444.4 32.6 443.4 31.1 442.4 29.9 441.5 28.9 440.5 28.2 439.5 27.7 438.5 27.6 437.5 27.7 436.5 28.2 435.6 28.9 434.6 29.9 433.6 31.1 432.6 32.6 431.6 34.4 430.6 36.3 429.7 38.5 428.7 40.8 427.7 43.2 426.7 45.7Z M450.3 20.9 451.3 23.5 452.3 26 453.2 28.4 454.2 30.7 455.2 32.8 456.2 34.6 457.2 36.2 458.2 37.6 459.1 38.6 460.1 39.4 461.1 39.9 462.1 40 463.1 39.9 464 39.4 465 38.6 466 37.6 467 36.2 468 34.6 469 32.8 469.9 30.7 470.9 28.4 471.9 26 472.9 23.5 473.9 20.9 473.9 22.1 472.9 24.7 471.9 27.4 470.9 29.9 469.9 32.4 469 34.7 468 36.9 467 38.7 466 40.3 465 41.6 464 42.5 463.1 43.1 462.1 43.3 461.1 43.1 460.1 42.5 459.1 41.6 458.2 40.3 457.2 38.7 456.2 36.9 455.2 34.7 454.2 32.4 453.2 29.9 452.3 27.4 451.3 24.7 450.3 22.1Z M473.9 44.5 474.9 42 475.8 39.4 476.8 36.9 477.8 34.5 478.8 32.3 479.8 30.2 480.8 28.4 481.7 26.9 482.7 25.6 483.7 24.7 484.7 24.2 485.7 24 486.6 24.2 487.6 24.7 488.6 25.6 489.6 26.9 490.6 28.4 491.6 30.2 492.5 32.3 493.5 34.5 494.5 36.9 495.5 39.4 496.5 42 497.5 44.5 497.5 45.7 496.5 43.2 495.5 40.8 494.5 38.5 493.5 36.3 492.5 34.4 491.6 32.6 490.6 31.1 489.6 29.9 488.6 28.9 487.6 28.2 486.6 27.7 485.7 27.6 484.7 27.7 483.7 28.2 482.7 28.9 481.7 29.9 480.8 31.1 479.8 32.6 478.8 34.4 477.8 36.3 476.8 38.5 475.8 40.8 474.9 43.2 473.9 45.7Z M497.5 20.9 498.4 23.5 499.4 26 500.4 28.4 501.4 30.7 502.4 32.8 503.3 34.6 504.3 36.2 505.3 37.6 506.3 38.6 507.3 39.4 508.3 39.9 509.2 40 510.2 39.9 511.2 39.4 512.2 38.6 513.2 37.6 514.2 36.2 515.1 34.6 516.1 32.8 517.1 30.7 518.1 28.4 519.1 26 520.1 23.5 521 20.9 521 22.1 520.1 24.7 519.1 27.4 518.1 29.9 517.1 32.4 516.1 34.7 515.1 36.9 514.2 38.7 513.2 40.3 512.2 41.6 511.2 42.5 510.2 43.1 509.2 43.3 508.3 43.1 507.3 42.5 506.3 41.6 505.3 40.3 504.3 38.7 503.3 36.9 502.4 34.7 501.4 32.4 500.4 29.9 499.4 27.4 498.4 24.7 497.5 22.1Z M521 44.5 522 42 523 39.4 524 36.9 525 34.5 525.9 32.3 526.9 30.2 527.9 28.4 528.9 26.9 529.9 25.6 530.9 24.7 531.8 24.2 532.8 24 533.8 24.2 534.8 24.7 535.8 25.6 536.8 26.9 537.7 28.4 538.7 30.2 539.7 32.3 540.7 34.5 541.7 36.9 542.6 39.4 543.6 42 544.6 44.5 544.6 45.7 543.6 43.2 542.6 40.8 541.7 38.5 540.7 36.3 539.7 34.4 538.7 32.6 537.7 31.1 536.8 29.9 535.8 28.9 534.8 28.2 533.8 27.7 532.8 27.6 531.8 27.7 530.9 28.2 529.9 28.9 528.9 29.9 527.9 31.1 526.9 32.6 525.9 34.4 525 36.3 524 38.5 523 40.8 522 43.2 521 45.7Z M544.6 20.9 545.6 23.4 546.5 25.8 546.5 27.2 545.6 24.6 544.6 22.1Z" fill="#ff00ff"/>
<path d="M310.7 26.5 311.7 29 312.7 31.4 313.7 33.6 314.6 35.6 315.6 37.4 316.6 38.9 317.6 40.1 318.6 40.9 319.6 41.5 320.6 41.7 321.5 41.5 322.5 41 323.5 40.2 324.5 39 325.5 37.5 326.5 35.8 327.5 33.8 328.4 31.6 329.4 29.2 330.4 26.7 331.4 24.1 332.4 21.5 M332.4 45.1 333.4 42.6 334.4 40.1 335.3 37.7 336.3 35.4 337.3 33.3 338.3 31.4 339.3 29.8 340.3 28.4 341.2 27.2 342.2 26.4 343.2 25.9 344.2 25.8 345.2 25.9 346.1 26.4 347.1 27.2 348.1 28.4 349.1 29.8 350.1 31.4 351.1 33.3 352 35.4 353 37.7 354 40.1 355 42.6 356 45.1 M356 21.5 357 24.1 357.9 26.7 358.9 29.2 359.9 31.6 360.9 33.8 361.9 35.7 362.9 37.5 363.8 39 364.8 40.1 365.8 41 366.8 41.5 367.8 41.7 368.7 41.5 369.7 41 370.7 40.1 371.7 39 372.7 37.5 373.7 35.7 374.6 33.8 375.6 31.6 376.6 29.2 377.6 26.7 378.6 24.1 379.6 21.5 M379.6 45.1 380.5 42.6 381.5 40.1 382.5 37.7 383.5 35.4 384.5 33.3 385.4 31.4 386.4 29.8 387.4 28.4 388.4 27.2 389.4 26.4 390.4 25.9 391.3 25.8 392.3 25.9 393.3 26.4 394.3 27.2 395.3 28.4 396.3 29.8 397.2 31.4 398.2 33.3 399.2 35.4 400.2 37.7 401.2 40.1 402.2 42.6 403.1 45.1 M403.1 21.5 404.1 24.1 405.1 26.7 406.1 29.2 407.1 31.6 408 33.8 409 35.7 410 37.5 411 39 412 40.1 413 41 413.9 41.5 414.9 41.7 415.9 41.5 416.9 41 417.9 40.1 418.9 39 419.8 37.5 420.8 35.7 421.8 33.8 422.8 31.6 423.8 29.2 424.7 26.7 425.7 24.1 426.7 21.5 M426.7 45.1 427.7 42.6 428.7 40.1 429.7 37.7 430.6 35.4 431.6 33.3 432.6 31.4 433.6 29.8 434.6 28.4 435.6 27.2 436.5 26.4 437.5 25.9 438.5 25.8 439.5 25.9 440.5 26.4 441.5 27.2 442.4 28.4 443.4 29.8 444.4 31.4 445.4 33.3 446.4 35.4 447.3 37.7 448.3 40.1 449.3 42.6 450.3 45.1 M450.3 21.5 451.3 24.1 452.3 26.7 453.2 29.2 454.2 31.6 455.2 33.8 456.2 35.7 457.2 37.5 458.2 39 459.1 40.1 460.1 41 461.1 41.5 462.1 41.7 463.1 41.5 464 41 465 40.1 466 39 467 37.5 468 35.7 469 33.8 469.9 31.6 470.9 29.2 471.9 26.7 472.9 24.1 473.9 21.5 M473.9 45.1 474.9 42.6 475.8 40.1 476.8 37.7 477.8 35.4 478.8 33.3 479.8 31.4 480.8 29.8 481.7 28.4 482.7 27.2 483.7 26.4 484.7 25.9 485.7 25.8 486.6 25.9 487.6 26.4 488.6 27.2 489.6 28.4 490.6 29.8 491.6 31.4 492.5 33.3 493.5 35.4 494.5 37.7 495.5 40.1 496.5 42.6 497.5 45.1 M497.5 21.5 498.4 24.1 499.4 26.7 500.4 29.2 501.4 31.6 502.4 33.8 503.3 35.7 504.3 37.5 505.3 39 506.3 40.1 507.3 41 508.3 41.5 509.2 41.7 510.2 41.5 511.2 41 512.2 40.1 513.2 39 514.2 37.5 515.1 35.7 516.1 33.8 517.1 31.6 518.1 29.2 519.1 26.7 520.1 24.1 521 21.5 M521 45.1 522 42.6 523 40.1 524 37.7 525 35.4 525.9 33.3 526.9 31.4 527.9 29.8 528.9 28.4 529.9 27.2 530.9 26.4 531.8 25.9 532.8 25.8 533.8 25.9 534.8 26.4 535.8 27.2 536.8 28.4 537.7 29.8 538.7 31.4 539.7 33.3 540.7 35.4 541.7 37.7 542.6 40.1 543.6 42.6 544.6 45.1 M544.6 21.5 545.6 24 546.5 26.5" fill="none" stroke="#ff00ff" stroke-width="1.7"/>
<path d="M310.7 72.8 311.7 71.3 312.7 69.9 313.6 68.4 314.6 67.1 315.6 66 316.6 64.9 317.6 64.1 318.6 63.5 319.5 63.1 320.5 63 321.5 63.1 322.5 63.4 323.5 64 324.5 64.8 325.4 65.8 326.4 66.9 327.4 68.2 328.4 69.6 329.4 71.1 330.3 72.6 331.3 74.1 332.3 75.6 333.3 77 334.3 78.4 335.3 79.7 336.2 80.8 337.2 81.9 338.2 82.8 339.2 83.6 340.2 84.2 341.2 84.7 342.1 85.1 343.1 85.3 344.1 85.4 345.1 85.3 346.1 85.1 347.1 84.8 348 84.3 349 83.7 350 82.9 351 82 352 81 352.9 79.9 353.9 78.6 354.9 77.3 355.9 75.8 356.9 74.4 357.9 72.8 358.8 71.3 359.8 69.9 360.8 68.4 361.8 67.1 362.8 66 363.8 64.9 364.7 64.1 365.7 63.5 366.7 63.1 367.7 63 368.7 63.1 369.6 63.4 370.6 64 371.6 64.8 372.6 65.8 373.6 66.9 374.6 68.2 375.5 69.6 376.5 71.1 377.5 72.6 378.5 74.1 379.5 75.6 380.5 77 381.4 78.4 382.4 79.7 383.4 80.8 384.4 81.9 385.4 82.8 386.4 83.6 387.3 84.2 388.3 84.7 389.3 85.1 390.3 85.3 391.3 85.4 392.2 85.3 393.2 85.1 394.2 84.8 395.2 84.3 396.2 83.7 397.2 82.9 398.1 82 399.1 81 400.1 79.9 401.1 78.6 402.1 77.3 403.1 75.8 404 74.4 405 72.8 406 71.3 407 69.9 408 68.4 408.9 67.1 409.9 66 410.9 64.9 411.9 64.1 412.9 63.5 413.9 63.1 414.8 63 415.8 63.1 416.8 63.4 417.8 64 418.8 64.8 419.8 65.8 420.7 66.9 421.7 68.2 422.7 69.6 423.7 71.1 424.7 72.6 425.7 74.1 426.6 75.6 427.6 77 428.6 78.4 429.6 79.7 430.6 80.8 431.5 81.9 432.5 82.8 433.5 83.6 434.5 84.2 435.5 84.7 436.5 85.1 437.4 85.3 438.4 85.4 439.4 85.3 440.4 85.1 441.4 84.8 442.4 84.3 443.3 83.7 444.3 82.9 445.3 82 446.3 81 447.3 79.9 448.2 78.6 449.2 77.3 450.2 75.8 451.2 74.4 452.2 72.8 453.2 71.3 454.1 69.9 455.1 68.4 456.1 67.1 457.1 66 458.1 64.9 459.1 64.1 460 63.5 461 63.1 462 63 463 63.1 464 63.4 465 64 465.9 64.8 466.9 65.8 467.9 66.9 468.9 68.2 469.9 69.6 470.8 71.1 471.8 72.6 472.8 74.1 473.8 75.6 474.8 77 475.8 78.4 476.7 79.7 477.7 80.8 478.7 81.9 479.7 82.8 480.7 83.6 481.7 84.2 482.6 84.7 483.6 85.1 484.6 85.3 485.6 85.4 486.6 85.3 487.6 85.1 488.5 84.8 489.5 84.3 490.5 83.7 491.5 82.9 492.5 82 493.4 81 494.4 79.9 495.4 78.6 496.4 77.3 497.4 75.8 498.4 74.4 499.3 72.8 500.3 71.3 501.3 69.9 502.3 68.4 503.3 67.1 504.3 66 505.2 64.9 506.2 64.1 507.2 63.5 508.2 63.1 509.2 63 510.1 63.1 511.1 63.4 512.1 64 513.1 64.8 514.1 65.8 515.1 66.9 516 68.2 517 69.6 518 71.1 519 72.6 520 74.1 521 75.6 521.9 77 522.9 78.4 523.9 79.7 524.9 80.8 525.9 81.9 526.9 82.8 527.8 83.6 528.8 84.2 529.8 84.7 530.8 85.1 531.8 85.3 532.7 85.4 533.7 85.3 534.7 85.1 535.7 84.8 536.7 84.3 537.7 83.7 538.6 82.9 539.6 82 540.6 81 541.6 79.9 542.6 78.6 543.6 77.3 544.5 75.8 545.5 74.4 546.5 72.8 546.5 74.2 545.5 75.6 544.5 77 543.6 78.5 542.6 80 541.6 81.6 540.6 83 539.6 84.4 538.6 85.7 537.7 86.9 536.7 87.8 535.7 88.6 534.7 89.2 533.7 89.6 532.7 89.7 531.8 89.5 530.8 89.1 529.8 88.5 528.8 87.7 527.8 86.7 526.9 85.5 525.9 84.2 524.9 82.8 523.9 81.3 522.9 79.8 521.9 78.3 521 76.8 520 75.4 519 74 518 72.8 517 71.6 516 70.6 515.1 69.7 514.1 69 513.1 68.3 512.1 67.9 511.1 67.5 510.1 67.3 509.2 67.3 508.2 67.4 507.2 67.6 506.2 67.9 505.2 68.4 504.3 69.1 503.3 69.9 502.3 70.8 501.3 71.8 500.3 73 499.3 74.2 498.4 75.6 497.4 77 496.4 78.5 495.4 80 494.4 81.6 493.4 83 492.5 84.4 491.5 85.7 490.5 86.9 489.5 87.8 488.5 88.6 487.6 89.2 486.6 89.6 485.6 89.7 484.6 89.5 483.6 89.1 482.6 88.5 481.7 87.7 480.7 86.7 479.7 85.5 478.7 84.2 477.7 82.8 476.7 81.3 475.8 79.8 474.8 78.3 473.8 76.8 472.8 75.4 471.8 74 470.8 72.8 469.9 71.6 468.9 70.6 467.9 69.7 466.9 69 465.9 68.3 465 67.9 464 67.5 463 67.3 462 67.3 461 67.4 460 67.6 459.1 67.9 458.1 68.4 457.1 69.1 456.1 69.9 455.1 70.8 454.1 71.8 453.2 73 452.2 74.2 451.2 75.6 450.2 77 449.2 78.5 448.2 80 447.3 81.6 446.3 83 445.3 84.4 444.3 85.7 443.3 86.9 442.4 87.8 441.4 88.6 440.4 89.2 439.4 89.6 438.4 89.7 437.4 89.5 436.5 89.1 435.5 88.5 434.5 87.7 433.5 86.7 432.5 85.5 431.5 84.2 430.6 82.8 429.6 81.3 428.6 79.8 427.6 78.3 426.6 76.8 425.7 75.4 424.7 74 423.7 72.8 422.7 71.6 421.7 70.6 420.7 69.7 419.8 69 418.8 68.3 417.8 67.9 416.8 67.5 415.8 67.3 414.8 67.3 413.9 67.4 412.9 67.6 411.9 67.9 410.9 68.4 409.9 69.1 408.9 69.9 408 70.8 407 71.8 406 73 405 74.2 404 75.6 403.1 77 402.1 78.5 401.1 80 400.1 81.6 399.1 83 398.1 84.4 397.2 85.7 396.2 86.9 395.2 87.8 394.2 88.6 393.2 89.2 392.2 89.6 391.3 89.7 390.3 89.5 389.3 89.1 388.3 88.5 387.3 87.7 386.4 86.7 385.4 85.5 384.4 84.2 383.4 82.8 382.4 81.3 381.4 79.8 380.5 78.3 379.5 76.8 378.5 75.4 377.5 74 376.5 72.8 375.5 71.6 374.6 70.6 373.6 69.7 372.6 69 371.6 68.3 370.6 67.9 369.6 67.5 368.7 67.3 367.7 67.3 366.7 67.4 365.7 67.6 364.7 67.9 363.8 68.4 362.8 69.1 361.8 69.9 360.8 70.8 359.8 71.8 358.8 73 357.9 74.2 356.9 75.6 355.9 77 354.9 78.5 353.9 80 352.9 81.6 352 83 351 84.4 350 85.7 349 86.9 348 87.8 347.1 88.6 346.1 89.2 345.1 89.6 344.1 89.7 343.1 89.5 342.1 89.1 341.2 88.5 340.2 87.7 339.2 86.7 338.2 85.5 337.2 84.2 336.2 82.8 335.3 81.3 334.3 79.8 333.3 78.3 332.3 76.8 331.3 75.4 330.3 74 329.4 72.8 328.4 71.6 327.4 70.6 326.4 69.7 325.4 69 324.5 68.3 323.5 67.9 322.5 67.5 321.5 67.3 320.5 67.3 319.5 67.4 318.6 67.6 317.6 67.9 316.6 68.4 315.6 69.1 314.6 69.9 313.6 70.8 312.7 71.8 311.7 73 310.7 74.2Z" fill="#00eef0"/>
<path d="M310.7 73.5 312.2 71.5 313.6 69.6 315.1 68 316.6 66.7 318.1 65.8 319.5 65.2 321 65.1 322.5 65.5 324 66.2 325.4 67.4 326.9 68.9 328.4 70.6 329.9 72.6 331.3 74.7 332.8 76.9 334.3 79.1 335.8 81.2 337.2 83 338.7 84.7 340.2 86 341.6 86.9 343.1 87.4 344.6 87.5 346.1 87.2 347.5 86.4 349 85.3 350.5 83.8 352 82 353.4 80 354.9 77.9 356.4 75.7 357.9 73.5 359.3 71.5 360.8 69.6 362.3 68 363.8 66.7 365.2 65.8 366.7 65.2 368.2 65.1 369.6 65.5 371.1 66.2 372.6 67.4 374.1 68.9 375.5 70.6 377 72.6 378.5 74.7 380 76.9 381.4 79.1 382.9 81.2 384.4 83 385.9 84.7 387.3 86 388.8 86.9 390.3 87.4 391.8 87.5 393.2 87.2 394.7 86.4 396.2 85.3 397.7 83.8 399.1 82 400.6 80 402.1 77.9 403.5 75.7 405 73.5 406.5 71.5 408 69.6 409.4 68 410.9 66.7 412.4 65.8 413.9 65.2 415.3 65.1 416.8 65.5 418.3 66.2 419.8 67.4 421.2 68.9 422.7 70.6 424.2 72.6 425.7 74.7 427.1 76.9 428.6 79.1 430.1 81.2 431.5 83 433 84.7 434.5 86 436 86.9 437.4 87.4 438.9 87.5 440.4 87.2 441.9 86.4 443.3 85.3 444.8 83.8 446.3 82 447.8 80 449.2 77.9 450.7 75.7 452.2 73.5 453.7 71.5 455.1 69.6 456.6 68 458.1 66.7 459.5 65.8 461 65.2 462.5 65.1 464 65.5 465.4 66.2 466.9 67.4 468.4 68.9 469.9 70.6 471.3 72.6 472.8 74.7 474.3 76.9 475.8 79.1 477.2 81.2 478.7 83 480.2 84.7 481.7 86 483.1 86.9 484.6 87.4 486.1 87.5 487.6 87.2 489 86.4 490.5 85.3 492 83.8 493.4 82 494.9 80 496.4 77.9 497.9 75.7 499.3 73.5 500.8 71.5 502.3 69.6 503.8 68 505.2 66.7 506.7 65.8 508.2 65.2 509.7 65.1 511.1 65.5 512.6 66.2 514.1 67.4 515.6 68.9 517 70.6 518.5 72.6 520 74.7 521.4 76.9 522.9 79.1 524.4 81.2 525.9 83 527.3 84.7 528.8 86 530.3 86.9 531.8 87.4 533.2 87.5 534.7 87.2 536.2 86.4 537.7 85.3 539.1 83.8 540.6 82 542.1 80 543.6 77.9 545 75.7 546.5 73.5" fill="none" stroke="#00eef0" stroke-width="1.9"/>
<path d="M310.7 103.1 311.5 102.1 312.3 102.9 313.1 102.7 313.8 102.7 314.6 102.7 315.4 102.7 316.2 103.1 317 103.5 317.8 103.1 318.6 102.9 319.3 103.5 320.1 103.5 320.9 103.8 321.7 103.6 322.5 103.8 323.3 104.1 324.1 104.3 324.8 104.5 325.6 104.3 326.4 104.3 327.2 103.7 328 104.2 328.8 103.9 329.6 103.4 330.3 103.3 331.1 103.1 331.9 102.8 332.7 103.2 333.5 102.8 334.3 102.9 335.1 102.3 335.9 102.7 336.6 102.9 337.4 103 338.2 103.1 339 102.8 339.8 103 340.6 102.8 341.4 103.2 342.1 103.5 342.9 103.8 343.7 104.1 344.5 104 345.3 104.1 346.1 103.7 346.9 103.7 347.6 104.5 348.4 103.8 349.2 104 350 103.5 350.8 103.6 351.6 103.3 352.4 103.1 353.1 103 353.9 103.6 354.7 102.8 355.5 102.9 356.3 103.3 357.1 102.3 357.9 102.7 358.6 102.2 359.4 102.1 360.2 102.8 361 103 361.8 103 362.6 102.7 363.4 103 364.1 102.6 364.9 103.5 365.7 103.4 366.5 103.5 367.3 104.1 368.1 103.9 368.9 103.4 369.6 103.6 370.4 103.6 371.2 103.7 372 104.1 372.8 104.5 373.6 103.7 374.4 103.6 375.2 103.9 375.9 103.8 376.7 103.4 377.5 102.8 378.3 103 379.1 103.2 379.9 102.4 380.7 102.5 381.4 102.7 382.2 102.4 383 102.3 383.8 103 384.6 102.5 385.4 102.7 386.2 102.7 386.9 102.6 387.7 103.3 388.5 103.2 389.3 103.4 390.1 104 390.9 103.2 391.7 103.4 392.4 104.3 393.2 103.5 394 104 394.8 103.8 395.6 103.7 396.4 103.9 397.2 103.6 397.9 103.6 398.7 103.7 399.5 103.9 400.3 103.1 401.1 102.9 401.9 103.3 402.7 103.2 403.4 103 404.2 102.9 405 102.5 405.8 102.9 406.6 102.6 407.4 103 408.2 103 408.9 102.4 409.7 102.7 410.5 102.8 411.3 103.4 412.1 103.5 412.9 103.2 413.7 103.1 414.5 103.2 415.2 104.2 416 104.1 416.8 103.8 417.6 104.2 418.4 104 419.2 103.7 420 104.5 420.7 103.6 421.5 104.1 422.3 104.2 423.1 103.8 423.9 104 424.7 103.4 425.5 103.1 426.2 103.1 427 102.5 427.8 102.7 428.6 102.8 429.4 102.8 430.2 103 431 102.8 431.7 102.8 432.5 102.4 433.3 102.7 434.1 103.3 434.9 102.5 435.7 103.4 436.5 103.5 437.2 103 438 103.9 438.8 104.2 439.6 103.5 440.4 104.3 441.2 104.3 442 103.8 442.7 103.7 443.5 104 444.3 104.1 445.1 103.6 445.9 103.3 446.7 103.6 447.5 103.6 448.2 103.3 449 103 449.8 103 450.6 102.4 451.4 102.4 452.2 102.9 453 102.7 453.8 102.9 454.5 102.2 455.3 102.5 456.1 102.2 456.9 103.2 457.7 102.9 458.5 103 459.3 103 460 103.3 460.8 103.9 461.6 104 462.4 103.9 463.2 104.1 464 104.3 464.8 104.2 465.5 104.1 466.3 104.4 467.1 103.9 467.9 103.9 468.7 103.7 469.5 103.4 470.3 103.5 471 103.3 471.8 103.3 472.6 103.1 473.4 103.4 474.2 102.8 475 103.2 475.8 102.2 476.5 102.3 477.3 102.4 478.1 102.8 478.9 102.9 479.7 102.5 480.5 102.6 481.3 103.3 482 103.2 482.8 103.4 483.6 103.7 484.4 103.8 485.2 103.4 486 104 486.8 103.8 487.6 104.5 488.3 104 489.1 103.8 489.9 103.7 490.7 103.9 491.5 104.4 492.3 104.1 493.1 103.8 493.8 104 494.6 103.2 495.4 103 496.2 103.6 497 102.6 497.8 102.6 498.6 102.5 499.3 102.4 500.1 102.7 500.9 102.4 501.7 102.1 502.5 102.9 503.3 102.9 504.1 102.8 504.8 102.7 505.6 103.1 506.4 103.7 507.2 103.3 508 103.3 508.8 103.7 509.6 103.8 510.3 104.4 511.1 104 511.9 104.1 512.7 103.7 513.5 103.7 514.3 104.2 515.1 103.6 515.8 104.2 516.6 103.4 517.4 103.3 518.2 103.6 519 103.8 519.8 102.7 520.6 102.7 521.3 102.9 522.1 102.7 522.9 102.3 523.7 102.9 524.5 102.7 525.3 102.2 526.1 102.2 526.9 102.3 527.6 102.3 528.4 102.8 529.2 103.4 530 103.4 530.8 103.8 531.6 103.1 532.4 103.8 533.1 103.7 533.9 103.8 534.7 103.9 535.5 104.4 536.3 104.1 537.1 104.4 537.9 103.8 538.6 104.2 539.4 103.4 540.2 103.5 541 103.7 541.8 103.6 542.6 103.5 543.4 102.7 544.1 103.3 544.9 102.9 545.7 102.4 546.5 102.8 546.5 112.5 545.7 112 544.9 111.8 544.1 112.4 543.4 112.2 542.6 111.8 541.8 111.9 541 111.6 540.2 111 539.4 111.3 538.6 111.3 537.9 111.2 537.1 111.5 536.3 110.8 535.5 111.1 534.7 111.4 533.9 111.1 533.1 111.1 532.4 111.1 531.6 111.9 530.8 111.4 530 111.9 529.2 112.5 528.4 112.3 527.6 112.1 526.9 112.2 526.1 112.1 525.3 112.5 524.5 112.9 523.7 112.5 522.9 112.9 522.1 111.9 521.3 111.9 520.6 112.1 519.8 112.3 519 111.9 518.2 111.2 517.4 111.1 516.6 111.2 515.8 110.7 515.1 110.9 514.3 111.4 513.5 111.4 512.7 111.5 511.9 110.6 511.1 111 510.3 111.5 509.6 111.8 508.8 111.5 508 111.9 507.2 111.9 506.4 111.8 505.6 112 504.8 112.5 504.1 112.7 503.3 112.1 502.5 112.4 501.7 112.2 500.9 112.8 500.1 112.4 499.3 112.2 498.6 112.2 497.8 112.2 497 111.8 496.2 111.5 495.4 111.6 494.6 111.8 493.8 111.4 493.1 111.1 492.3 111.1 491.5 111.5 490.7 110.9 489.9 110.5 489.1 111.4 488.3 111.4 487.6 110.9 486.8 110.9 486 111.2 485.2 111.6 484.4 112.1 483.6 112.2 482.8 112.2 482 112.5 481.3 112.2 480.5 112.7 479.7 112.8 478.9 112.6 478.1 112.3 477.3 112.4 476.5 112.7 475.8 112.2 475 112.2 474.2 112.4 473.4 112.5 472.6 111.7 471.8 111.5 471 111.2 470.3 111.3 469.5 111.6 468.7 111.7 467.9 110.8 467.1 110.8 466.3 111.1 465.5 111.3 464.8 110.9 464 110.7 463.2 111.1 462.4 111.6 461.6 111.2 460.8 111.2 460 111.8 459.3 112.1 458.5 112.4 457.7 112.1 456.9 112.2 456.1 112.5 455.3 112.3 454.5 112.4 453.8 112.2 453 112.8 452.2 112.4 451.4 112.6 450.6 112.5 449.8 111.6 449 111.7 448.2 112 447.5 111.9 446.7 111.8 445.9 110.8 445.1 111.7 444.3 111.1 443.5 110.8 442.7 111.1 442 111.3 441.2 111.1 440.4 110.8 439.6 111.5 438.8 111.7 438 111.5 437.2 112 436.5 112.1 435.7 112.3 434.9 112 434.1 112.4 433.3 112.5 432.5 112.6 431.7 112.9 431 112.7 430.2 112.4 429.4 112.5 428.6 112.9 427.8 112.3 427 112.3 426.2 112.5 425.5 111.5 424.7 111.4 423.9 111.9 423.1 111.4 422.3 111.3 421.5 111 420.7 111.1 420 111.3 419.2 111 418.4 111 417.6 111.2 416.8 110.8 416 110.8 415.2 111.8 414.5 111 413.7 111.5 412.9 112.3 412.1 111.5 411.3 112.2 410.5 112.4 409.7 112.1 408.9 112.2 408.2 112.8 407.4 112.8 406.6 112.5 405.8 112.3 405 112.4 404.2 112.4 403.4 112.5 402.7 111.6 401.9 112.4 401.1 112.1 400.3 111.2 399.5 111.4 398.7 111.3 397.9 111.3 397.2 111.4 396.4 111.5 395.6 110.8 394.8 111.1 394 111 393.2 111 392.4 111.3 391.7 111.1 390.9 111.6 390.1 111.5 389.3 111.5 388.5 112.3 387.7 111.9 386.9 111.8 386.2 112.4 385.4 112 384.6 112.5 383.8 112.8 383 113 382.2 112.7 381.4 112.4 380.7 112.1 379.9 111.9 379.1 111.8 378.3 111.6 377.5 111.3 376.7 111.6 375.9 111.2 375.2 111.6 374.4 111.3 373.6 111 372.8 111.5 372 111.5 371.2 111.1 370.4 110.7 369.6 110.6 368.9 111.2 368.1 111.2 367.3 111.2 366.5 111.2 365.7 111.6 364.9 111.5 364.1 112 363.4 112 362.6 112.1 361.8 112.6 361 112.8 360.2 112.8 359.4 112.5 358.6 112.4 357.9 112.7 357.1 112.2 356.3 111.9 355.5 111.6 354.7 112.1 353.9 111.4 353.1 111.4 352.4 111.7 351.6 111.8 350.8 111.4 350 111 349.2 111.2 348.4 111.4 347.6 110.7 346.9 111 346.1 111.5 345.3 110.9 344.5 110.9 343.7 111.1 342.9 111.8 342.1 111.3 341.4 112.3 340.6 111.8 339.8 112.3 339 112.4 338.2 112.6 337.4 112.3 336.6 112.3 335.9 112.2 335.1 112.3 334.3 112.4 333.5 112.8 332.7 112.2 331.9 112.5 331.1 112.3 330.3 112.2 329.6 111.7 328.8 111.7 328 111 327.2 111.7 326.4 111.4 325.6 111.4 324.8 111.3 324.1 110.7 323.3 111.5 322.5 110.7 321.7 110.7 320.9 111.4 320.1 111.8 319.3 111.4 318.6 111.3 317.8 111.7 317 112.1 316.2 112.7 315.4 112.2 314.6 112.1 313.8 112.6 313.1 112.4 312.3 112.8 311.5 112.1 310.7 112.9Z" fill="#10f010"/>
<path d="M332.4 94.3V113.3 M356 101.8V119.3 M379.6 94.3V113.3 M403.1 101.8V119.3 M426.7 94.3V113.3 M450.3 101.8V119.3 M473.9 94.3V113.3 M497.5 101.8V119.3 M521 94.3V113.3 M544.6 101.8V119.3" stroke="#48ee48" stroke-width="0.9"/>
<line x1="428.6" y1="13.8" x2="428.6" y2="139" stroke="#8a8a8a" stroke-width="0.85"/>
<line x1="310.7" y1="76.4" x2="546.5" y2="76.4" stroke="#8a8a8a" stroke-width="0.85"/>
<path d="M315.4 75.6v1.6 M320.1 75.6v1.6 M324.8 75.6v1.6 M329.6 75.6v1.6 M334.3 75.6v1.6 M339 75.6v1.6 M343.7 75.6v1.6 M348.4 75.6v1.6 M353.1 75.6v1.6 M357.9 75.6v1.6 M362.6 75.6v1.6 M367.3 75.6v1.6 M372 75.6v1.6 M376.7 75.6v1.6 M381.4 75.6v1.6 M386.2 75.6v1.6 M390.9 75.6v1.6 M395.6 75.6v1.6 M400.3 75.6v1.6 M405 75.6v1.6 M409.7 75.6v1.6 M414.5 75.6v1.6 M419.2 75.6v1.6 M423.9 75.6v1.6 M428.6 75.6v1.6 M433.3 75.6v1.6 M438 75.6v1.6 M442.7 75.6v1.6 M447.5 75.6v1.6 M452.2 75.6v1.6 M456.9 75.6v1.6 M461.6 75.6v1.6 M466.3 75.6v1.6 M471 75.6v1.6 M475.8 75.6v1.6 M480.5 75.6v1.6 M485.2 75.6v1.6 M489.9 75.6v1.6 M494.6 75.6v1.6 M499.3 75.6v1.6 M504.1 75.6v1.6 M508.8 75.6v1.6 M513.5 75.6v1.6 M518.2 75.6v1.6 M522.9 75.6v1.6 M527.6 75.6v1.6 M532.4 75.6v1.6 M537.1 75.6v1.6 M541.8 75.6v1.6 M427.8 16.9h1.6 M427.8 20.1h1.6 M427.8 23.2h1.6 M427.8 26.3h1.6 M427.8 29.5h1.6 M427.8 32.6h1.6 M427.8 35.7h1.6 M427.8 38.8h1.6 M427.8 42h1.6 M427.8 45.1h1.6 M427.8 48.2h1.6 M427.8 51.4h1.6 M427.8 54.5h1.6 M427.8 57.6h1.6 M427.8 60.8h1.6 M427.8 63.9h1.6 M427.8 67h1.6 M427.8 70.1h1.6 M427.8 73.3h1.6 M427.8 76.4h1.6 M427.8 79.5h1.6 M427.8 82.7h1.6 M427.8 85.8h1.6 M427.8 88.9h1.6 M427.8 92h1.6 M427.8 95.2h1.6 M427.8 98.3h1.6 M427.8 101.4h1.6 M427.8 104.6h1.6 M427.8 107.7h1.6 M427.8 110.8h1.6 M427.8 114h1.6 M427.8 117.1h1.6 M427.8 120.2h1.6 M427.8 123.3h1.6 M427.8 126.5h1.6 M427.8 129.6h1.6 M427.8 132.7h1.6 M427.8 135.9h1.6" stroke="#555" stroke-width="0.7"/>
<path d="M303.8 43H308.4L310.1 45.6L308.4 48.2H303.8Z" fill="#a08cc8"/><text x="306.5" y="47" font-family="Liberation Sans, sans-serif" font-size="3.8" font-weight="bold" fill="#5a5a6a" text-anchor="middle">1</text>
<path d="M303.8 74.2H308.4L310.1 76.4L308.4 78.6H303.8Z" fill="#62c8b4"/><text x="306.5" y="77.8" font-family="Liberation Sans, sans-serif" font-size="3.8" font-weight="bold" fill="#5a5a6a" text-anchor="middle">2</text>
<path d="M303.8 106H308.4L310.1 108.2L308.4 110.4H303.8Z" fill="#84c484"/><text x="306.5" y="109.6" font-family="Liberation Sans, sans-serif" font-size="3.8" font-weight="bold" fill="#5a5a6a" text-anchor="middle">4</text>
<g transform="translate(310.7,13.8) scale(0.9447,0.9528)" font-family="Liberation Sans, sans-serif"><text x="-6.9" y="-0.2" font-size="6.6" font-weight="bold" fill="#111" textLength="10" lengthAdjust="spacingAndGlyphs">Tek</text>
<text x="4.6" y="-1.1" font-size="5.2" fill="#777" textLength="7.2" lengthAdjust="spacingAndGlyphs">Run</text>
<rect x="33.2" y="-5.1" width="183.3" height="5.1" fill="#fff" stroke="#6a6a6a" stroke-width="0.7"/>
<line x1="70.6" y1="-5.1" x2="70.6" y2="0" stroke="#222" stroke-width="0.9"/>
<line x1="180.1" y1="-5.1" x2="180.1" y2="0" stroke="#222" stroke-width="0.9"/>
<line x1="71" y1="-2.9" x2="179.7" y2="-2.9" stroke="#a8e4a8" stroke-width="1.5"/>
<text x="217.8" y="-1.0" font-size="5.6" fill="#666" textLength="12" lengthAdjust="spacingAndGlyphs">Trig'd</text>
<rect x="123.6" y="-5.4" width="2.6" height="4.8" rx="1" fill="#f5a020"/>
<rect x="122.8" y="2.6" width="4.4" height="4.4" rx="1.3" fill="#f5a020"/>
<rect x="123.6" y="-0.8" width="2.6" height="3.6" fill="#f7b24a"/>
<rect x="0.4" y="114.3" width="105.7" height="12.4" rx="2.2" fill="#fff" stroke="#707070" stroke-width="0.95"/>
<rect x="108.0" y="114.3" width="112.2" height="12.4" rx="2.2" fill="#fff" stroke="#707070" stroke-width="0.95"/>
<rect x="0.4" y="127.9" width="219.8" height="24.1" rx="2.2" fill="#fff" stroke="#707070" stroke-width="0.95"/>
<ellipse cx="5.9" cy="117.8" rx="4.3" ry="2.6" fill="#1010e8"/><text x="5.9" y="119.3" font-size="3.8" font-weight="bold" fill="#e8e8ff" text-anchor="middle">1</text>
<ellipse cx="5.9" cy="123.5" rx="4.3" ry="2.6" fill="#a010a8"/><text x="5.9" y="125" font-size="3.8" font-weight="bold" fill="#e8e8ff" text-anchor="middle">3</text>
<ellipse cx="58.8" cy="117.8" rx="4" ry="2.6" fill="#33dde6"/><text x="58.8" y="119.3" font-size="3.8" font-weight="bold" fill="#e8e8ff" text-anchor="middle">2</text>
<ellipse cx="58.8" cy="123.5" rx="4" ry="2.6" fill="#10a010"/><text x="58.8" y="125" font-size="3.8" font-weight="bold" fill="#e8e8ff" text-anchor="middle">4</text>
<text x="15.6" y="119.9" fill="#5c5cff" font-size="4.8" >250 V</text>
<text x="15.6" y="125.6" fill="#d84cd8" font-size="4.8" >250 V</text>
<text x="68.9" y="119.9" fill="#66e2f0" font-size="4.8" >25.0 A</text>
<text x="89.6" y="119.9" fill="#66e2f0" font-size="3.6" >Ω</text>
<text x="68.9" y="125.6" fill="#48bc48" font-size="4.8" >500mA</text>
<text x="94.2" y="125.6" fill="#48bc48" font-size="4.2" >∿</text>
<text x="109.7" y="119.6" fill="#555" font-size="4.8" >10.0ms</text>
<text x="153.8" y="119.6" fill="#555" font-size="4.8" >50.0MS/s</text>
<ellipse cx="196.1" cy="117.9" rx="4.3" ry="2.6" fill="#1010e8"/><text x="196.1" y="119.4" font-size="3.8" font-weight="bold" fill="#e8e8ff" text-anchor="middle">1</text>
<text x="202.6" y="119.6" fill="#555" font-size="4.8" >/</text>
<rect x="109.7" y="121.0" width="3.0" height="4.2" rx="0.6" fill="#f08c00"/>
<text x="113.4" y="125.2" fill="#f5a33a" font-size="4.9" >▸▾50.96000μs</text>
<text x="153.8" y="125.2" fill="#555" font-size="4.8" >5M points</text>
<text x="193.9" y="125.2" fill="#555" font-size="4.8" >70.0 V</text>
<text x="46.8" y="132.6" fill="#555" font-size="4.8" >Value</text>
<text x="78.5" y="132.6" fill="#555" font-size="4.8" >Mean</text>
<text x="113.6" y="132.6" fill="#555" font-size="4.8" >Min</text>
<text x="148.7" y="132.6" fill="#555" font-size="4.8" >Max</text>
<text x="183.8" y="132.6" fill="#555" font-size="4.8" >Std Dev</text>
<ellipse cx="5.9" cy="136.9" rx="4.3" ry="2.6" fill="#33dde6"/><text x="5.9" y="138.4" font-size="3.8" font-weight="bold" fill="#e8e8ff" text-anchor="middle">2</text>
<text x="11.8" y="138.8" fill="#66e2f0" font-size="4.8" >RMS</text>
<text x="46.8" y="138.8" fill="#66e2f0" font-size="4.8" >12.6 A</text>
<text x="78.5" y="138.8" fill="#66e2f0" font-size="4.8" >5.84</text>
<text x="113.6" y="138.8" fill="#66e2f0" font-size="4.8" >3.29</text>
<text x="148.7" y="138.8" fill="#66e2f0" font-size="4.8" >12.6</text>
<text x="183.8" y="138.8" fill="#66e2f0" font-size="4.8" >4.55</text>
<ellipse cx="5.9" cy="142.8" rx="4.3" ry="2.6" fill="#1010e8"/><text x="5.9" y="144.3" font-size="3.8" font-weight="bold" fill="#e8e8ff" text-anchor="middle">1</text>
<text x="11.8" y="144.6" fill="#5c5cff" font-size="4.8" >RMS</text>
<text x="46.8" y="144.6" fill="#5c5cff" font-size="4.8" >226 V</text>
<text x="78.5" y="144.6" fill="#5c5cff" font-size="4.8" >224</text>
<text x="113.6" y="144.6" fill="#5c5cff" font-size="4.8" >223</text>
<text x="148.7" y="144.6" fill="#5c5cff" font-size="4.8" >226</text>
<text x="183.8" y="144.6" fill="#5c5cff" font-size="4.8" >1.17</text>
<ellipse cx="5.9" cy="148.8" rx="4.3" ry="2.6" fill="#10a010"/><text x="5.9" y="150.3" font-size="3.8" font-weight="bold" fill="#e8e8ff" text-anchor="middle">4</text>
<text x="11.8" y="150.4" fill="#48bc48" font-size="4.8" >RMS</text>
<text x="46.8" y="150.4" fill="#48bc48" font-size="4.8" >26.5mA</text>
<text x="78.5" y="150.4" fill="#48bc48" font-size="4.8" >25.2m</text>
<text x="113.6" y="150.4" fill="#48bc48" font-size="4.8" >23.2m</text>
<text x="148.7" y="150.4" fill="#48bc48" font-size="4.8" >26.5m</text>
<text x="183.8" y="150.4" fill="#48bc48" font-size="4.8" >0.24m</text></g>
<g font-family="Liberation Serif, serif" fill="#151515" stroke="#151515" stroke-width="0.18"><g transform="translate(407.79,33.37) scale(0.854,0.944)"><text font-size="10" font-style="italic">v<tspan font-size="6.8" font-style="normal" dy="1.6">Cf</tspan></text></g><g transform="translate(408.89,58.70) scale(0.859,0.864)"><text font-size="10" font-style="italic">v<tspan font-size="6.8" font-style="normal" dy="1.6">ac</tspan></text></g><g transform="translate(427.70,73.07) scale(0.958,0.722)"><text font-size="10" font-style="italic">i<tspan font-size="6.8" font-style="normal" dy="1.6">ac</tspan><tspan dy="-1.6" font-style="normal">(</tspan>i<tspan font-size="6.8" font-style="normal" dy="1.6">L2</tspan><tspan dy="-1.6" font-style="normal">)</tspan></text></g><g transform="translate(433.33,98.24) scale(0.917,0.958)"><text font-size="10" font-style="italic">i<tspan font-size="6.8" font-style="normal" dy="1.6">Clk</tspan></text></g><g transform="translate(422.19,175.27) scale(1.013,1.014)"><text font-size="12">(<tspan font-weight="bold">b</tspan>)</text></g></g>
<line x1="36.2" y1="184.9" x2="36.2" y2="318" stroke="#cfcfcf" stroke-width="0.6" stroke-dasharray="0.6 2.7"/>
<line x1="61.3" y1="184.9" x2="61.3" y2="318" stroke="#cfcfcf" stroke-width="0.6" stroke-dasharray="0.6 2.7"/>
<line x1="86.3" y1="184.9" x2="86.3" y2="318" stroke="#cfcfcf" stroke-width="0.6" stroke-dasharray="0.6 2.7"/>
<line x1="111.3" y1="184.9" x2="111.3" y2="318" stroke="#cfcfcf" stroke-width="0.6" stroke-dasharray="0.6 2.7"/>
<line x1="161.4" y1="184.9" x2="161.4" y2="318" stroke="#cfcfcf" stroke-width="0.6" stroke-dasharray="0.6 2.7"/>
<line x1="186.4" y1="184.9" x2="186.4" y2="318" stroke="#cfcfcf" stroke-width="0.6" stroke-dasharray="0.6 2.7"/>
<line x1="211.4" y1="184.9" x2="211.4" y2="318" stroke="#cfcfcf" stroke-width="0.6" stroke-dasharray="0.6 2.7"/>
<line x1="236.5" y1="184.9" x2="236.5" y2="318" stroke="#cfcfcf" stroke-width="0.6" stroke-dasharray="0.6 2.7"/>
<line x1="11.2" y1="201.5" x2="261.5" y2="201.5" stroke="#cfcfcf" stroke-width="0.6" stroke-dasharray="0.6 4.4"/>
<line x1="11.2" y1="218.2" x2="261.5" y2="218.2" stroke="#cfcfcf" stroke-width="0.6" stroke-dasharray="0.6 4.4"/>
<line x1="11.2" y1="234.8" x2="261.5" y2="234.8" stroke="#cfcfcf" stroke-width="0.6" stroke-dasharray="0.6 4.4"/>
<line x1="11.2" y1="268.1" x2="261.5" y2="268.1" stroke="#cfcfcf" stroke-width="0.6" stroke-dasharray="0.6 4.4"/>
<line x1="11.2" y1="284.7" x2="261.5" y2="284.7" stroke="#cfcfcf" stroke-width="0.6" stroke-dasharray="0.6 4.4"/>
<line x1="11.2" y1="301.4" x2="261.5" y2="301.4" stroke="#cfcfcf" stroke-width="0.6" stroke-dasharray="0.6 4.4"/>
<line x1="11.2" y1="184.9" x2="11.2" y2="318" stroke="#9a9a9a" stroke-width="0.9"/>
<path d="M11.2 188.2h1.3 M11.2 191.6h1.3 M11.2 194.9h1.3 M11.2 198.2h1.3 M11.2 201.5h1.3 M11.2 204.9h1.3 M11.2 208.2h1.3 M11.2 211.5h1.3 M11.2 214.8h1.3 M11.2 218.2h1.3 M11.2 221.5h1.3 M11.2 224.8h1.3 M11.2 228.2h1.3 M11.2 231.5h1.3 M11.2 234.8h1.3 M11.2 238.1h1.3 M11.2 241.5h1.3 M11.2 244.8h1.3 M11.2 248.1h1.3 M11.2 251.4h1.3 M11.2 254.8h1.3 M11.2 258.1h1.3 M11.2 261.4h1.3 M11.2 264.8h1.3 M11.2 268.1h1.3 M11.2 271.4h1.3 M11.2 274.7h1.3 M11.2 278.1h1.3 M11.2 281.4h1.3 M11.2 284.7h1.3 M11.2 288.1h1.3 M11.2 291.4h1.3 M11.2 294.7h1.3 M11.2 298h1.3 M11.2 301.4h1.3 M11.2 304.7h1.3 M11.2 308h1.3 M11.2 311.3h1.3 M11.2 314.7h1.3" stroke="#8a8a8a" stroke-width="0.6"/>
<line x1="261.5" y1="184.9" x2="261.5" y2="318" stroke="#999" stroke-width="0.8"/>
<line x1="11.2" y1="318" x2="261.5" y2="318" stroke="#444" stroke-width="1"/>
<line x1="10.2" y1="184.9" x2="261.5" y2="184.9" stroke="#333" stroke-width="0.9"/>
<path d="M11.2 184.9v1.3 M16.2 184.9v1.3 M21.2 184.9v1.3 M26.2 184.9v1.3 M31.2 184.9v1.3 M36.2 184.9v1.3 M41.2 184.9v1.3 M46.2 184.9v1.3 M51.2 184.9v1.3 M56.3 184.9v1.3 M61.3 184.9v1.3 M66.3 184.9v1.3 M71.3 184.9v1.3 M76.3 184.9v1.3 M81.3 184.9v1.3 M86.3 184.9v1.3 M91.3 184.9v1.3 M96.3 184.9v1.3 M101.3 184.9v1.3 M106.3 184.9v1.3 M111.3 184.9v1.3 M116.3 184.9v1.3 M121.3 184.9v1.3 M126.3 184.9v1.3 M131.3 184.9v1.3 M136.3 184.9v1.3 M141.4 184.9v1.3 M146.4 184.9v1.3 M151.4 184.9v1.3 M156.4 184.9v1.3 M161.4 184.9v1.3 M166.4 184.9v1.3 M171.4 184.9v1.3 M176.4 184.9v1.3 M181.4 184.9v1.3 M186.4 184.9v1.3 M191.4 184.9v1.3 M196.4 184.9v1.3 M201.4 184.9v1.3 M206.4 184.9v1.3 M211.4 184.9v1.3 M216.4 184.9v1.3 M221.5 184.9v1.3 M226.5 184.9v1.3 M231.5 184.9v1.3 M236.5 184.9v1.3 M241.5 184.9v1.3 M246.5 184.9v1.3 M251.5 184.9v1.3 M256.5 184.9v1.3 M261.5 184.9v1.3" stroke="#9a9a9a" stroke-width="0.6"/>
<path d="M11.2 220.8 12.2 223.4 13.3 225.8 14.3 228.1 15.4 230.1 16.4 232 17.5 233.5 18.5 234.8 19.5 235.9 20.6 236.6 21.6 237 22.7 237.1 23.7 236.8 24.8 236.3 25.8 235.5 26.8 234.4 27.9 233 28.9 231.3 30 229.3 31 227.2 32.1 224.9 33.1 222.4 34.1 219.7 35.2 217 36.2 214.3 37.3 211.6 38.3 208.9 39.4 206.4 40.4 204 41.4 201.8 42.5 199.9 43.5 198.3 44.6 197 45.6 196.1 46.7 195.6 47.7 195.5 48.7 195.8 49.8 196.4 50.8 197.5 51.9 198.9 52.9 200.6 54 202.6 55 204.9 56 207.4 57.1 210 58.1 212.6 59.2 215.4 60.2 218.1 61.3 220.8 62.3 223.4 63.3 225.8 64.4 228.1 65.4 230.1 66.5 232 67.5 233.5 68.6 234.8 69.6 235.9 70.6 236.6 71.7 237 72.7 237.1 73.8 236.8 74.8 236.3 75.9 235.5 76.9 234.4 77.9 233 79 231.3 80 229.3 81.1 227.2 82.1 224.9 83.2 222.4 84.2 219.7 85.2 217 86.3 214.3 87.3 211.6 88.4 208.9 89.4 206.4 90.5 204 91.5 201.8 92.5 199.9 93.6 198.3 94.6 197 95.7 196.1 96.7 195.6 97.8 195.5 98.8 195.8 99.8 196.4 100.9 197.5 101.9 198.9 103 200.6 104 202.6 105.1 204.9 106.1 207.4 107.1 210 108.2 212.6 109.2 215.4 110.3 218.1 111.3 220.8 112.4 223.4 113.4 225.8 114.4 228.1 115.5 230.1 116.5 232 117.6 233.5 118.6 234.8 119.7 235.9 120.7 236.6 121.7 237 122.8 237.1 123.8 236.8 124.9 236.3 125.9 235.5 127 234.4 128 233 129 231.3 130.1 229.3 131.1 227.2 132.2 224.9 133.2 222.4 134.3 219.7 135.3 217 136.3 214.3 137.4 211.6 138.4 208.9 139.5 206.4 140.5 204 141.6 201.8 142.6 199.9 143.7 198.3 144.7 197 145.7 196.1 146.8 195.6 147.8 195.5 148.9 195.8 149.9 196.4 151 197.5 152 198.9 153 200.6 154.1 202.6 155.1 204.9 156.2 207.4 157.2 210 158.3 212.6 159.3 215.4 160.3 218.1 161.4 220.8 162.4 223.4 163.5 225.8 164.5 228.1 165.6 230.1 166.6 232 167.6 233.5 168.7 234.8 169.7 235.9 170.8 236.6 171.8 237 172.9 237.1 173.9 236.8 174.9 236.3 176 235.5 177 234.4 178.1 233 179.1 231.3 180.2 229.3 181.2 227.2 182.2 224.9 183.3 222.4 184.3 219.7 185.4 217 186.4 214.3 187.5 211.6 188.5 208.9 189.5 206.4 190.6 204 191.6 201.8 192.7 199.9 193.7 198.3 194.8 197 195.8 196.1 196.8 195.6 197.9 195.5 198.9 195.8 200 196.4 201 197.5 202.1 198.9 203.1 200.6 204.1 202.6 205.2 204.9 206.2 207.4 207.3 210 208.3 212.6 209.4 215.4 210.4 218.1 211.4 220.8 212.5 223.4 213.5 225.8 214.6 228.1 215.6 230.1 216.7 232 217.7 233.5 218.7 234.8 219.8 235.9 220.8 236.6 221.9 237 222.9 237.1 224 236.8 225 236.3 226 235.5 227.1 234.4 228.1 233 229.2 231.3 230.2 229.3 231.3 227.2 232.3 224.9 233.3 222.4 234.4 219.7 235.4 217 236.5 214.3 237.5 211.6 238.6 208.9 239.6 206.4 240.6 204 241.7 201.8 242.7 199.9 243.8 198.3 244.8 197 245.9 196.1 246.9 195.6 247.9 195.5 249 195.8 250 196.4 251.1 197.5 252.1 198.9 253.2 200.6 254.2 202.6 255.2 204.9 256.3 207.4 257.3 210 258.4 212.6 259.4 215.4 260.5 218.1 261.5 220.8 261.5 222.1 260.5 219.3 259.4 216.6 258.4 214 257.3 211.5 256.3 209.1 255.2 207 254.2 205.1 253.2 203.4 252.1 202 251.1 200.9 250 200 249 199.5 247.9 199.3 246.9 199.4 245.9 199.8 244.8 200.5 243.8 201.5 242.7 202.8 241.7 204.4 240.6 206.2 239.6 208.3 238.6 210.5 237.5 213 236.5 215.6 235.4 218.2 234.4 221 233.3 223.7 232.3 226.4 231.3 229 230.2 231.4 229.2 233.7 228.1 235.7 227.1 237.5 226 238.9 225 239.9 224 240.6 222.9 240.9 221.9 240.7 220.8 240.2 219.8 239.3 218.7 238.1 217.7 236.5 216.7 234.5 215.6 232.4 214.6 230 213.5 227.4 212.5 224.8 211.4 222.1 210.4 219.3 209.4 216.6 208.3 214 207.3 211.5 206.2 209.1 205.2 207 204.1 205.1 203.1 203.4 202.1 202 201 200.9 200 200 198.9 199.5 197.9 199.3 196.8 199.4 195.8 199.8 194.8 200.5 193.7 201.5 192.7 202.8 191.6 204.4 190.6 206.2 189.5 208.3 188.5 210.5 187.5 213 186.4 215.6 185.4 218.2 184.3 221 183.3 223.7 182.2 226.4 181.2 229 180.2 231.4 179.1 233.7 178.1 235.7 177 237.5 176 238.9 174.9 239.9 173.9 240.6 172.9 240.9 171.8 240.7 170.8 240.2 169.7 239.3 168.7 238.1 167.6 236.5 166.6 234.5 165.6 232.4 164.5 230 163.5 227.4 162.4 224.8 161.4 222.1 160.3 219.3 159.3 216.6 158.3 214 157.2 211.5 156.2 209.1 155.1 207 154.1 205.1 153 203.4 152 202 151 200.9 149.9 200 148.9 199.5 147.8 199.3 146.8 199.4 145.7 199.8 144.7 200.5 143.7 201.5 142.6 202.8 141.6 204.4 140.5 206.2 139.5 208.3 138.4 210.5 137.4 213 136.3 215.6 135.3 218.2 134.3 221 133.2 223.7 132.2 226.4 131.1 229 130.1 231.4 129 233.7 128 235.7 127 237.5 125.9 238.9 124.9 239.9 123.8 240.6 122.8 240.9 121.7 240.7 120.7 240.2 119.7 239.3 118.6 238.1 117.6 236.5 116.5 234.5 115.5 232.4 114.4 230 113.4 227.4 112.4 224.8 111.3 222.1 110.3 219.3 109.2 216.6 108.2 214 107.1 211.5 106.1 209.1 105.1 207 104 205.1 103 203.4 101.9 202 100.9 200.9 99.8 200 98.8 199.5 97.8 199.3 96.7 199.4 95.7 199.8 94.6 200.5 93.6 201.5 92.5 202.8 91.5 204.4 90.5 206.2 89.4 208.3 88.4 210.5 87.3 213 86.3 215.6 85.2 218.2 84.2 221 83.2 223.7 82.1 226.4 81.1 229 80 231.4 79 233.7 77.9 235.7 76.9 237.5 75.9 238.9 74.8 239.9 73.8 240.6 72.7 240.9 71.7 240.7 70.6 240.2 69.6 239.3 68.6 238.1 67.5 236.5 66.5 234.5 65.4 232.4 64.4 230 63.3 227.4 62.3 224.8 61.3 222.1 60.2 219.3 59.2 216.6 58.1 214 57.1 211.5 56 209.1 55 207 54 205.1 52.9 203.4 51.9 202 50.8 200.9 49.8 200 48.7 199.5 47.7 199.3 46.7 199.4 45.6 199.8 44.6 200.5 43.5 201.5 42.5 202.8 41.4 204.4 40.4 206.2 39.4 208.3 38.3 210.5 37.3 213 36.2 215.6 35.2 218.2 34.1 221 33.1 223.7 32.1 226.4 31 229 30 231.4 28.9 233.7 27.9 235.7 26.8 237.5 25.8 238.9 24.8 239.9 23.7 240.6 22.7 240.9 21.6 240.7 20.6 240.2 19.5 239.3 18.5 238.1 17.5 236.5 16.4 234.5 15.4 232.4 14.3 230 13.3 227.4 12.2 224.8 11.2 222.1Z" fill="#0a0af0"/>
<path d="M11.2 221.4 12.8 225.4 14.3 229 15.9 232.3 17.5 235 19 237.1 20.6 238.4 22.2 239 23.7 238.7 25.3 237.7 26.8 235.9 28.4 233.4 30 230.4 31.5 226.9 33.1 223 34.7 219 36.2 214.9 37.8 211 39.4 207.3 40.9 204.1 42.5 201.3 44.1 199.3 45.6 198 47.2 197.4 48.7 197.6 50.3 198.7 51.9 200.4 53.4 202.9 55 206 56.6 209.5 58.1 213.3 59.7 217.4 61.3 221.4 62.8 225.4 64.4 229 66 232.3 67.5 235 69.1 237.1 70.6 238.4 72.2 239 73.8 238.7 75.3 237.7 76.9 235.9 78.5 233.4 80 230.4 81.6 226.9 83.2 223 84.7 219 86.3 214.9 87.9 211 89.4 207.3 91 204.1 92.5 201.3 94.1 199.3 95.7 198 97.2 197.4 98.8 197.6 100.4 198.7 101.9 200.4 103.5 202.9 105.1 206 106.6 209.5 108.2 213.3 109.8 217.4 111.3 221.4 112.9 225.4 114.4 229 116 232.3 117.6 235 119.1 237.1 120.7 238.4 122.3 239 123.8 238.7 125.4 237.7 127 235.9 128.5 233.4 130.1 230.4 131.7 226.9 133.2 223 134.8 219 136.3 214.9 137.9 211 139.5 207.3 141 204.1 142.6 201.3 144.2 199.3 145.7 198 147.3 197.4 148.9 197.6 150.4 198.7 152 200.4 153.6 202.9 155.1 206 156.7 209.5 158.3 213.3 159.8 217.4 161.4 221.4 162.9 225.4 164.5 229 166.1 232.3 167.6 235 169.2 237.1 170.8 238.4 172.3 239 173.9 238.7 175.5 237.7 177 235.9 178.6 233.4 180.2 230.4 181.7 226.9 183.3 223 184.8 219 186.4 214.9 188 211 189.5 207.3 191.1 204.1 192.7 201.3 194.2 199.3 195.8 198 197.4 197.4 198.9 197.6 200.5 198.7 202.1 200.4 203.6 202.9 205.2 206 206.7 209.5 208.3 213.3 209.9 217.4 211.4 221.4 213 225.4 214.6 229 216.1 232.3 217.7 235 219.3 237.1 220.8 238.4 222.4 239 224 238.7 225.5 237.7 227.1 235.9 228.6 233.4 230.2 230.4 231.8 226.9 233.3 223 234.9 219 236.5 214.9 238 211 239.6 207.3 241.2 204.1 242.7 201.3 244.3 199.3 245.9 198 247.4 197.4 249 197.6 250.5 198.7 252.1 200.4 253.7 202.9 255.2 206 256.8 209.5 258.4 213.3 259.9 217.4 261.5 221.4" fill="none" stroke="#0a0af0" stroke-width="1.7"/>
<path d="M35 193V218.7 M60 193V218.7 M85 193V218.7 M110.1 193V218.7 M135.1 193V218.7 M160.1 193V218.7 M185.2 193V218.7 M210.2 193V218.7 M235.2 193V218.7 M260.2 193V218.7" stroke="#f8a8f8" stroke-width="0.8"/>
<path d="M11.2 196.8 12.3 199.5 13.4 202.1 14.4 204.4 15.5 206.6 16.6 208.5 17.7 210.1 18.8 211.4 19.8 212.4 20.9 213 22 213.3 23.1 213.3 24.2 212.9 25.3 212.2 26.3 211.2 27.4 209.8 28.5 208.2 29.6 206.3 30.7 204.1 31.7 201.7 32.8 199.1 33.9 196.4 35 193.6 35 194.8 33.9 197.6 32.8 200.5 31.7 203.2 30.7 205.8 29.6 208.3 28.5 210.5 27.4 212.4 26.3 214 25.3 215.3 24.2 216.1 23.1 216.6 22 216.6 20.9 216.2 19.8 215.4 18.8 214.3 17.7 212.7 16.6 210.8 15.5 208.6 14.4 206.2 13.4 203.6 12.3 200.9 11.2 198.1Z M35 217.6 36 214.8 37.1 212.1 38.1 209.4 39.2 206.9 40.2 204.5 41.2 202.3 42.3 200.3 43.3 198.7 44.4 197.3 45.4 196.4 46.5 195.8 47.5 195.6 48.5 195.8 49.6 196.4 50.6 197.3 51.7 198.7 52.7 200.3 53.8 202.3 54.8 204.5 55.8 206.9 56.9 209.4 57.9 212.1 59 214.8 60 217.6 60 218.8 59 216.1 57.9 213.5 56.9 211 55.8 208.7 54.8 206.6 53.8 204.7 52.7 203 51.7 201.7 50.6 200.6 49.6 199.8 48.5 199.3 47.5 199.2 46.5 199.3 45.4 199.8 44.4 200.6 43.3 201.7 42.3 203 41.2 204.7 40.2 206.6 39.2 208.7 38.1 211 37.1 213.5 36 216.1 35 218.8Z M60 193.6 61.1 196.3 62.1 198.9 63.1 201.4 64.2 203.8 65.2 205.9 66.3 207.8 67.3 209.5 68.4 210.8 69.4 211.9 70.4 212.7 71.5 213.2 72.5 213.4 73.6 213.2 74.6 212.7 75.7 211.9 76.7 210.8 77.7 209.5 78.8 207.8 79.8 205.9 80.9 203.8 81.9 201.4 83 198.9 84 196.3 85 193.6 85 194.8 84 197.5 83 200.3 81.9 202.9 80.9 205.5 79.8 207.9 78.8 210 77.7 212 76.7 213.6 75.7 214.9 74.6 215.9 73.6 216.5 72.5 216.7 71.5 216.5 70.4 215.9 69.4 214.9 68.4 213.6 67.3 212 66.3 210 65.2 207.9 64.2 205.5 63.1 202.9 62.1 200.3 61.1 197.5 60 194.8Z M85 217.6 86.1 214.8 87.1 212.1 88.2 209.4 89.2 206.9 90.3 204.5 91.3 202.3 92.3 200.3 93.4 198.7 94.4 197.3 95.5 196.4 96.5 195.8 97.6 195.6 98.6 195.8 99.6 196.4 100.7 197.3 101.7 198.7 102.8 200.3 103.8 202.3 104.9 204.5 105.9 206.9 106.9 209.4 108 212.1 109 214.8 110.1 217.6 110.1 218.8 109 216.1 108 213.5 106.9 211 105.9 208.7 104.9 206.6 103.8 204.7 102.8 203 101.7 201.7 100.7 200.6 99.6 199.8 98.6 199.3 97.6 199.2 96.5 199.3 95.5 199.8 94.4 200.6 93.4 201.7 92.3 203 91.3 204.7 90.3 206.6 89.2 208.7 88.2 211 87.1 213.5 86.1 216.1 85 218.8Z M110.1 193.6 111.1 196.3 112.2 198.9 113.2 201.4 114.2 203.8 115.3 205.9 116.3 207.8 117.4 209.5 118.4 210.8 119.5 211.9 120.5 212.7 121.5 213.2 122.6 213.4 123.6 213.2 124.7 212.7 125.7 211.9 126.8 210.8 127.8 209.5 128.8 207.8 129.9 205.9 130.9 203.8 132 201.4 133 198.9 134.1 196.3 135.1 193.6 135.1 194.8 134.1 197.5 133 200.3 132 202.9 130.9 205.5 129.9 207.9 128.8 210 127.8 212 126.8 213.6 125.7 214.9 124.7 215.9 123.6 216.5 122.6 216.7 121.5 216.5 120.5 215.9 119.5 214.9 118.4 213.6 117.4 212 116.3 210 115.3 207.9 114.2 205.5 113.2 202.9 112.2 200.3 111.1 197.5 110.1 194.8Z M135.1 217.6 136.1 214.8 137.2 212.1 138.2 209.4 139.3 206.9 140.3 204.5 141.4 202.3 142.4 200.3 143.4 198.7 144.5 197.3 145.5 196.4 146.6 195.8 147.6 195.6 148.7 195.8 149.7 196.4 150.7 197.3 151.8 198.7 152.8 200.3 153.9 202.3 154.9 204.5 156 206.9 157 209.4 158 212.1 159.1 214.8 160.1 217.6 160.1 218.8 159.1 216.1 158 213.5 157 211 156 208.7 154.9 206.6 153.9 204.7 152.8 203 151.8 201.7 150.7 200.6 149.7 199.8 148.7 199.3 147.6 199.2 146.6 199.3 145.5 199.8 144.5 200.6 143.4 201.7 142.4 203 141.4 204.7 140.3 206.6 139.3 208.7 138.2 211 137.2 213.5 136.1 216.1 135.1 218.8Z M160.1 193.6 161.2 196.3 162.2 198.9 163.3 201.4 164.3 203.8 165.3 205.9 166.4 207.8 167.4 209.5 168.5 210.8 169.5 211.9 170.6 212.7 171.6 213.2 172.6 213.4 173.7 213.2 174.7 212.7 175.8 211.9 176.8 210.8 177.9 209.5 178.9 207.8 179.9 205.9 181 203.8 182 201.4 183.1 198.9 184.1 196.3 185.2 193.6 185.2 194.8 184.1 197.5 183.1 200.3 182 202.9 181 205.5 179.9 207.9 178.9 210 177.9 212 176.8 213.6 175.8 214.9 174.7 215.9 173.7 216.5 172.6 216.7 171.6 216.5 170.6 215.9 169.5 214.9 168.5 213.6 167.4 212 166.4 210 165.3 207.9 164.3 205.5 163.3 202.9 162.2 200.3 161.2 197.5 160.1 194.8Z M185.2 217.6 186.2 214.8 187.2 212.1 188.3 209.4 189.3 206.9 190.4 204.5 191.4 202.3 192.5 200.3 193.5 198.7 194.5 197.3 195.6 196.4 196.6 195.8 197.7 195.6 198.7 195.8 199.8 196.4 200.8 197.3 201.8 198.7 202.9 200.3 203.9 202.3 205 204.5 206 206.9 207.1 209.4 208.1 212.1 209.1 214.8 210.2 217.6 210.2 218.8 209.1 216.1 208.1 213.5 207.1 211 206 208.7 205 206.6 203.9 204.7 202.9 203 201.8 201.7 200.8 200.6 199.8 199.8 198.7 199.3 197.7 199.2 196.6 199.3 195.6 199.8 194.5 200.6 193.5 201.7 192.5 203 191.4 204.7 190.4 206.6 189.3 208.7 188.3 211 187.2 213.5 186.2 216.1 185.2 218.8Z M210.2 193.6 211.3 196.4 212.4 199.2 213.5 201.7 214.5 204.1 215.6 206.3 216.7 208.3 217.8 209.9 218.9 211.3 220 212.3 221.1 213 222.2 213.3 223.2 213.3 224.3 213 225.4 212.3 226.5 211.3 227.6 209.9 228.7 208.3 229.8 206.3 230.9 204.1 232 201.7 233 199.2 234.1 196.4 235.2 193.6 235.2 194.8 234.1 197.7 233 200.5 232 203.3 230.9 205.9 229.8 208.4 228.7 210.6 227.6 212.5 226.5 214.1 225.4 215.3 224.3 216.2 223.2 216.6 222.2 216.6 221.1 216.2 220 215.3 218.9 214.1 217.8 212.5 216.7 210.6 215.6 208.4 214.5 205.9 213.5 203.3 212.4 200.5 211.3 197.7 210.2 194.8Z M235.2 217.6 236.3 214.8 237.3 212.1 238.3 209.4 239.4 206.9 240.4 204.5 241.5 202.3 242.5 200.3 243.6 198.7 244.6 197.3 245.6 196.4 246.7 195.8 247.7 195.6 248.8 195.8 249.8 196.4 250.9 197.3 251.9 198.7 252.9 200.3 254 202.3 255 204.5 256.1 206.9 257.1 209.4 258.2 212.1 259.2 214.8 260.2 217.6 260.2 218.8 259.2 216.1 258.2 213.5 257.1 211 256.1 208.7 255 206.6 254 204.7 252.9 203 251.9 201.7 250.9 200.6 249.8 199.8 248.8 199.3 247.7 199.2 246.7 199.3 245.6 199.8 244.6 200.6 243.6 201.7 242.5 203 241.5 204.7 240.4 206.6 239.4 208.7 238.3 211 237.3 213.5 236.3 216.1 235.2 218.8Z M260.2 193.6 260.9 195.2 261.5 196.8 261.5 198.1 260.9 196.5 260.2 194.8Z" fill="#ff00ff"/>
<path d="M11.2 197.5 12.3 200.2 13.4 202.9 14.4 205.3 15.5 207.6 16.6 209.6 17.7 211.4 18.8 212.8 19.8 213.9 20.9 214.6 22 215 23.1 214.9 24.2 214.5 25.3 213.8 26.3 212.6 27.4 211.1 28.5 209.3 29.6 207.3 30.7 205 31.7 202.4 32.8 199.8 33.9 197 35 194.2 M35 218.2 36 215.5 37.1 212.8 38.1 210.2 39.2 207.8 40.2 205.5 41.2 203.5 42.3 201.7 43.3 200.2 44.4 199 45.4 198.1 46.5 197.6 47.5 197.4 48.5 197.6 49.6 198.1 50.6 199 51.7 200.2 52.7 201.7 53.8 203.5 54.8 205.5 55.8 207.8 56.9 210.2 57.9 212.8 59 215.5 60 218.2 M60 194.2 61.1 196.9 62.1 199.6 63.1 202.2 64.2 204.6 65.2 206.9 66.3 208.9 67.3 210.7 68.4 212.2 69.4 213.4 70.4 214.3 71.5 214.8 72.5 215 73.6 214.8 74.6 214.3 75.7 213.4 76.7 212.2 77.7 210.7 78.8 208.9 79.8 206.9 80.9 204.6 81.9 202.2 83 199.6 84 196.9 85 194.2 M85 218.2 86.1 215.5 87.1 212.8 88.2 210.2 89.2 207.8 90.3 205.5 91.3 203.5 92.3 201.7 93.4 200.2 94.4 199 95.5 198.1 96.5 197.6 97.6 197.4 98.6 197.6 99.6 198.1 100.7 199 101.7 200.2 102.8 201.7 103.8 203.5 104.9 205.5 105.9 207.8 106.9 210.2 108 212.8 109 215.5 110.1 218.2 M110.1 194.2 111.1 196.9 112.2 199.6 113.2 202.2 114.2 204.6 115.3 206.9 116.3 208.9 117.4 210.7 118.4 212.2 119.5 213.4 120.5 214.3 121.5 214.8 122.6 215 123.6 214.8 124.7 214.3 125.7 213.4 126.8 212.2 127.8 210.7 128.8 208.9 129.9 206.9 130.9 204.6 132 202.2 133 199.6 134.1 196.9 135.1 194.2 M135.1 218.2 136.1 215.5 137.2 212.8 138.2 210.2 139.3 207.8 140.3 205.5 141.4 203.5 142.4 201.7 143.4 200.2 144.5 199 145.5 198.1 146.6 197.6 147.6 197.4 148.7 197.6 149.7 198.1 150.7 199 151.8 200.2 152.8 201.7 153.9 203.5 154.9 205.5 156 207.8 157 210.2 158 212.8 159.1 215.5 160.1 218.2 M160.1 194.2 161.2 196.9 162.2 199.6 163.3 202.2 164.3 204.6 165.3 206.9 166.4 208.9 167.4 210.7 168.5 212.2 169.5 213.4 170.6 214.3 171.6 214.8 172.6 215 173.7 214.8 174.7 214.3 175.8 213.4 176.8 212.2 177.9 210.7 178.9 208.9 179.9 206.9 181 204.6 182 202.2 183.1 199.6 184.1 196.9 185.2 194.2 M185.2 218.2 186.2 215.5 187.2 212.8 188.3 210.2 189.3 207.8 190.4 205.5 191.4 203.5 192.5 201.7 193.5 200.2 194.5 199 195.6 198.1 196.6 197.6 197.7 197.4 198.7 197.6 199.8 198.1 200.8 199 201.8 200.2 202.9 201.7 203.9 203.5 205 205.5 206 207.8 207.1 210.2 208.1 212.8 209.1 215.5 210.2 218.2 M210.2 194.2 211.3 197 212.4 199.8 213.5 202.5 214.5 205 215.6 207.3 216.7 209.4 217.8 211.2 218.9 212.7 220 213.8 221.1 214.6 222.2 215 223.2 215 224.3 214.6 225.4 213.8 226.5 212.7 227.6 211.2 228.7 209.4 229.8 207.3 230.9 205 232 202.5 233 199.8 234.1 197 235.2 194.2 M235.2 218.2 236.3 215.5 237.3 212.8 238.3 210.2 239.4 207.8 240.4 205.5 241.5 203.5 242.5 201.7 243.6 200.2 244.6 199 245.6 198.1 246.7 197.6 247.7 197.4 248.8 197.6 249.8 198.1 250.9 199 251.9 200.2 252.9 201.7 254 203.5 255 205.5 256.1 207.8 257.1 210.2 258.2 212.8 259.2 215.5 260.2 218.2 M260.2 194.2 260.9 195.8 261.5 197.5" fill="none" stroke="#ff00ff" stroke-width="1.7"/>
<path d="M11.2 248.3 12.2 246 13.3 243.6 14.3 241.4 15.4 239.3 16.4 237.4 17.5 235.7 18.5 234.3 19.5 233.2 20.6 232.4 21.6 231.9 22.7 231.8 23.7 232.1 24.8 232.7 25.8 233.6 26.8 234.8 27.9 236.4 28.9 238.2 30 240.1 31 242.3 32.1 244.6 33.1 246.9 34.1 249.3 35.2 251.7 36.2 254 37.3 256.2 38.3 258.3 39.4 260.2 40.4 261.9 41.4 263.5 42.5 264.8 43.5 265.9 44.6 266.7 45.6 267.3 46.7 267.7 47.7 267.7 48.7 267.6 49.8 267.1 50.8 266.4 51.9 265.5 52.9 264.3 54 262.9 55 261.3 56 259.4 57.1 257.4 58.1 255.3 59.2 253 60.2 250.7 61.3 248.3 62.3 246 63.3 243.6 64.4 241.4 65.4 239.3 66.5 237.4 67.5 235.7 68.6 234.3 69.6 233.2 70.6 232.4 71.7 231.9 72.7 231.8 73.8 232.1 74.8 232.7 75.9 233.6 76.9 234.8 77.9 236.4 79 238.2 80 240.1 81.1 242.3 82.1 244.6 83.2 246.9 84.2 249.3 85.2 251.7 86.3 254 87.3 256.2 88.4 258.3 89.4 260.2 90.5 261.9 91.5 263.5 92.5 264.8 93.6 265.9 94.6 266.7 95.7 267.3 96.7 267.7 97.8 267.7 98.8 267.6 99.8 267.1 100.9 266.4 101.9 265.5 103 264.3 104 262.9 105.1 261.3 106.1 259.4 107.1 257.4 108.2 255.3 109.2 253 110.3 250.7 111.3 248.3 112.4 246 113.4 243.6 114.4 241.4 115.5 239.3 116.5 237.4 117.6 235.7 118.6 234.3 119.7 233.2 120.7 232.4 121.7 231.9 122.8 231.8 123.8 232.1 124.9 232.7 125.9 233.6 127 234.8 128 236.4 129 238.2 130.1 240.1 131.1 242.3 132.2 244.6 133.2 246.9 134.3 249.3 135.3 251.7 136.3 254 137.4 256.2 138.4 258.3 139.5 260.2 140.5 261.9 141.6 263.5 142.6 264.8 143.7 265.9 144.7 266.7 145.7 267.3 146.8 267.7 147.8 267.7 148.9 267.6 149.9 267.1 151 266.4 152 265.5 153 264.3 154.1 262.9 155.1 261.3 156.2 259.4 157.2 257.4 158.3 255.3 159.3 253 160.3 250.7 161.4 248.3 162.4 246 163.5 243.6 164.5 241.4 165.6 239.3 166.6 237.4 167.6 235.7 168.7 234.3 169.7 233.2 170.8 232.4 171.8 231.9 172.9 231.8 173.9 232.1 174.9 232.7 176 233.6 177 234.8 178.1 236.4 179.1 238.2 180.2 240.1 181.2 242.3 182.2 244.6 183.3 246.9 184.3 249.3 185.4 251.7 186.4 254 187.5 256.2 188.5 258.3 189.5 260.2 190.6 261.9 191.6 263.5 192.7 264.8 193.7 265.9 194.8 266.7 195.8 267.3 196.8 267.7 197.9 267.7 198.9 267.6 200 267.1 201 266.4 202.1 265.5 203.1 264.3 204.1 262.9 205.2 261.3 206.2 259.4 207.3 257.4 208.3 255.3 209.4 253 210.4 250.7 211.4 248.3 212.5 246 213.5 243.6 214.6 241.4 215.6 239.3 216.7 237.4 217.7 235.7 218.7 234.3 219.8 233.2 220.8 232.4 221.9 231.9 222.9 231.8 224 232.1 225 232.7 226 233.6 227.1 234.8 228.1 236.4 229.2 238.2 230.2 240.1 231.3 242.3 232.3 244.6 233.3 246.9 234.4 249.3 235.4 251.7 236.5 254 237.5 256.2 238.6 258.3 239.6 260.2 240.6 261.9 241.7 263.5 242.7 264.8 243.8 265.9 244.8 266.7 245.9 267.3 246.9 267.7 247.9 267.7 249 267.6 250 267.1 251.1 266.4 252.1 265.5 253.2 264.3 254.2 262.9 255.2 261.3 256.3 259.4 257.3 257.4 258.4 255.3 259.4 253 260.5 250.7 261.5 248.3 261.5 249.6 260.5 251.9 259.4 254.3 258.4 256.7 257.3 259 256.3 261.3 255.2 263.4 254.2 265.4 253.2 267.2 252.1 268.7 251.1 270 250 270.9 249 271.5 247.9 271.7 246.9 271.6 245.9 271.2 244.8 270.4 243.8 269.3 242.7 267.8 241.7 266.2 240.6 264.2 239.6 262.2 238.6 259.9 237.5 257.6 236.5 255.2 235.4 252.9 234.4 250.5 233.3 248.3 232.3 246.1 231.3 244.1 230.2 242.3 229.2 240.7 228.1 239.3 227.1 238.1 226 237.1 225 236.4 224 236 222.9 235.8 221.9 235.9 220.8 236.2 219.8 236.8 218.7 237.7 217.7 238.8 216.7 240.1 215.6 241.6 214.6 243.4 213.5 245.3 212.5 247.4 211.4 249.6 210.4 251.9 209.4 254.3 208.3 256.7 207.3 259 206.2 261.3 205.2 263.4 204.1 265.4 203.1 267.2 202.1 268.7 201 270 200 270.9 198.9 271.5 197.9 271.7 196.8 271.6 195.8 271.2 194.8 270.4 193.7 269.3 192.7 267.8 191.6 266.2 190.6 264.2 189.5 262.2 188.5 259.9 187.5 257.6 186.4 255.2 185.4 252.9 184.3 250.5 183.3 248.3 182.2 246.1 181.2 244.1 180.2 242.3 179.1 240.7 178.1 239.3 177 238.1 176 237.1 174.9 236.4 173.9 236 172.9 235.8 171.8 235.9 170.8 236.2 169.7 236.8 168.7 237.7 167.6 238.8 166.6 240.1 165.6 241.6 164.5 243.4 163.5 245.3 162.4 247.4 161.4 249.6 160.3 251.9 159.3 254.3 158.3 256.7 157.2 259 156.2 261.3 155.1 263.4 154.1 265.4 153 267.2 152 268.7 151 270 149.9 270.9 148.9 271.5 147.8 271.7 146.8 271.6 145.7 271.2 144.7 270.4 143.7 269.3 142.6 267.8 141.6 266.2 140.5 264.2 139.5 262.2 138.4 259.9 137.4 257.6 136.3 255.2 135.3 252.9 134.3 250.5 133.2 248.3 132.2 246.1 131.1 244.1 130.1 242.3 129 240.7 128 239.3 127 238.1 125.9 237.1 124.9 236.4 123.8 236 122.8 235.8 121.7 235.9 120.7 236.2 119.7 236.8 118.6 237.7 117.6 238.8 116.5 240.1 115.5 241.6 114.4 243.4 113.4 245.3 112.4 247.4 111.3 249.6 110.3 251.9 109.2 254.3 108.2 256.7 107.1 259 106.1 261.3 105.1 263.4 104 265.4 103 267.2 101.9 268.7 100.9 270 99.8 270.9 98.8 271.5 97.8 271.7 96.7 271.6 95.7 271.2 94.6 270.4 93.6 269.3 92.5 267.8 91.5 266.2 90.5 264.2 89.4 262.2 88.4 259.9 87.3 257.6 86.3 255.2 85.2 252.9 84.2 250.5 83.2 248.3 82.1 246.1 81.1 244.1 80 242.3 79 240.7 77.9 239.3 76.9 238.1 75.9 237.1 74.8 236.4 73.8 236 72.7 235.8 71.7 235.9 70.6 236.2 69.6 236.8 68.6 237.7 67.5 238.8 66.5 240.1 65.4 241.6 64.4 243.4 63.3 245.3 62.3 247.4 61.3 249.6 60.2 251.9 59.2 254.3 58.1 256.7 57.1 259 56 261.3 55 263.4 54 265.4 52.9 267.2 51.9 268.7 50.8 270 49.8 270.9 48.7 271.5 47.7 271.7 46.7 271.6 45.6 271.2 44.6 270.4 43.5 269.3 42.5 267.8 41.4 266.2 40.4 264.2 39.4 262.2 38.3 259.9 37.3 257.6 36.2 255.2 35.2 252.9 34.1 250.5 33.1 248.3 32.1 246.1 31 244.1 30 242.3 28.9 240.7 27.9 239.3 26.8 238.1 25.8 237.1 24.8 236.4 23.7 236 22.7 235.8 21.6 235.9 20.6 236.2 19.5 236.8 18.5 237.7 17.5 238.8 16.4 240.1 15.4 241.6 14.3 243.4 13.3 245.3 12.2 247.4 11.2 249.6Z" fill="#00eef0"/>
<path d="M11.2 249 12.8 245.6 14.3 242.4 15.9 239.6 17.5 237.2 19 235.5 20.6 234.3 22.2 233.8 23.7 234 25.3 234.9 26.8 236.5 28.4 238.6 30 241.2 31.5 244.3 33.1 247.6 34.7 251.1 36.2 254.6 37.8 258 39.4 261.2 40.9 264 42.5 266.3 44.1 268.1 45.6 269.3 47.2 269.7 48.7 269.5 50.3 268.6 51.9 267.1 53.4 265 55 262.3 56.6 259.3 58.1 256 59.7 252.5 61.3 249 62.8 245.6 64.4 242.4 66 239.6 67.5 237.2 69.1 235.5 70.6 234.3 72.2 233.8 73.8 234 75.3 234.9 76.9 236.5 78.5 238.6 80 241.2 81.6 244.3 83.2 247.6 84.7 251.1 86.3 254.6 87.9 258 89.4 261.2 91 264 92.5 266.3 94.1 268.1 95.7 269.3 97.2 269.7 98.8 269.5 100.4 268.6 101.9 267.1 103.5 265 105.1 262.3 106.6 259.3 108.2 256 109.8 252.5 111.3 249 112.9 245.6 114.4 242.4 116 239.6 117.6 237.2 119.1 235.5 120.7 234.3 122.3 233.8 123.8 234 125.4 234.9 127 236.5 128.5 238.6 130.1 241.2 131.7 244.3 133.2 247.6 134.8 251.1 136.3 254.6 137.9 258 139.5 261.2 141 264 142.6 266.3 144.2 268.1 145.7 269.3 147.3 269.7 148.9 269.5 150.4 268.6 152 267.1 153.6 265 155.1 262.3 156.7 259.3 158.3 256 159.8 252.5 161.4 249 162.9 245.6 164.5 242.4 166.1 239.6 167.6 237.2 169.2 235.5 170.8 234.3 172.3 233.8 173.9 234 175.5 234.9 177 236.5 178.6 238.6 180.2 241.2 181.7 244.3 183.3 247.6 184.8 251.1 186.4 254.6 188 258 189.5 261.2 191.1 264 192.7 266.3 194.2 268.1 195.8 269.3 197.4 269.7 198.9 269.5 200.5 268.6 202.1 267.1 203.6 265 205.2 262.3 206.7 259.3 208.3 256 209.9 252.5 211.4 249 213 245.6 214.6 242.4 216.1 239.6 217.7 237.2 219.3 235.5 220.8 234.3 222.4 233.8 224 234 225.5 234.9 227.1 236.5 228.6 238.6 230.2 241.2 231.8 244.3 233.3 247.6 234.9 251.1 236.5 254.6 238 258 239.6 261.2 241.2 264 242.7 266.3 244.3 268.1 245.9 269.3 247.4 269.7 249 269.5 250.5 268.6 252.1 267.1 253.7 265 255.2 262.3 256.8 259.3 258.4 256 259.9 252.5 261.5 249" fill="none" stroke="#00eef0" stroke-width="1.9"/>
<path d="M11.2 277.9 12 277.9 12.9 277.9 13.7 277.1 14.5 277.3 15.4 277.9 16.2 277.7 17 277.6 17.9 277.6 18.7 277.7 19.5 278 20.4 278.2 21.2 278 22 278.8 22.9 278.9 23.7 279.1 24.5 279 25.4 279.3 26.2 279.9 27.1 279.3 27.9 280.2 28.7 279.9 29.6 279.7 30.4 279.5 31.2 279.6 32.1 279.5 32.9 279.5 33.7 279.1 34.6 279.1 35.4 278.9 36.2 278.4 37.1 278.3 37.9 277.6 38.7 278 39.6 277.1 40.4 277.3 41.2 277.2 42.1 277.8 42.9 277.6 43.7 277.8 44.6 278.2 45.4 278 46.2 278 47.1 278.5 47.9 278.4 48.7 279 49.6 278.7 50.4 279.2 51.2 279.9 52.1 279.6 52.9 279.9 53.8 279.8 54.6 280.1 55.4 279.6 56.3 279.2 57.1 279.8 57.9 279.2 58.8 278.8 59.6 278.2 60.4 278.6 61.3 278.3 62.1 278.2 62.9 278 63.8 277.1 64.6 277.7 65.4 277.2 66.3 277.5 67.1 277.3 67.9 277.4 68.8 277.4 69.6 278.1 70.4 278.1 71.3 278 72.1 278.8 72.9 278.4 73.8 279.1 74.6 279 75.4 279.7 76.3 279.9 77.1 279.5 77.9 280.1 78.8 279.5 79.6 279.7 80.4 279.9 81.3 279.2 82.1 279.7 83 279.5 83.8 278.6 84.6 279 85.5 278.3 86.3 278.1 87.1 278.4 88 277.3 88.8 278 89.6 277.4 90.5 277.9 91.3 277.7 92.1 277.6 93 277.3 93.8 277.4 94.6 277.9 95.5 278.3 96.3 278.6 97.1 278.9 98 279.1 98.8 278.4 99.6 278.8 100.5 279.5 101.3 279.4 102.1 279.7 103 279.5 103.8 279.7 104.6 279.6 105.5 279.7 106.3 279.2 107.1 279.8 108 279.5 108.8 279.1 109.7 278.2 110.5 278.2 111.3 278.1 112.2 278.3 113 277.3 113.8 277.3 114.7 278 115.5 277 116.3 277.2 117.2 277.3 118 277.6 118.8 277.3 119.7 277.4 120.5 278.2 121.3 277.8 122.2 278.3 123 279 123.8 279.2 124.7 279.1 125.5 279.3 126.3 279.4 127.2 279.6 128 279.7 128.8 279.3 129.7 279.6 130.5 280.1 131.3 279.9 132.2 279.1 133 278.8 133.8 279.1 134.7 279 135.5 278.7 136.3 277.8 137.2 277.5 138 278.1 138.9 277.2 139.7 277.9 140.5 277 141.4 277 142.2 277.6 143 278 143.9 277.9 144.7 278.1 145.5 278.2 146.4 278.5 147.2 278 148 278.8 148.9 278.7 149.7 278.9 150.5 279.6 151.4 279.4 152.2 279.5 153 279.3 153.9 280.2 154.7 280 155.5 279.8 156.4 279.7 157.2 279.3 158 279.5 158.9 278.5 159.7 279.1 160.5 278.4 161.4 277.9 162.2 277.7 163 277.6 163.9 277.8 164.7 277.3 165.6 277.3 166.4 277.5 167.2 277.1 168.1 277.5 168.9 277.3 169.7 277.6 170.6 277.6 171.4 278.2 172.2 278.4 173.1 279 173.9 278.9 174.7 279.5 175.6 279.6 176.4 279.5 177.2 279.4 178.1 279.9 178.9 280.1 179.7 279.4 180.6 279.3 181.4 279.9 182.2 279.1 183.1 279 183.9 279.2 184.7 278.3 185.6 278.2 186.4 278.3 187.2 277.5 188.1 277.7 188.9 277.3 189.7 278 190.6 277.5 191.4 277.2 192.3 277 193.1 277.9 193.9 278.1 194.8 278.1 195.6 277.8 196.4 278.4 197.3 278.2 198.1 279.2 198.9 279 199.8 279.1 200.6 279.6 201.4 279.6 202.3 279.8 203.1 279.4 203.9 279.9 204.8 280.1 205.6 279.5 206.4 279.6 207.3 279.5 208.1 279 208.9 278.5 209.8 278.9 210.6 278.7 211.4 278 212.3 278.4 213.1 277.8 213.9 277.9 214.8 277.3 215.6 277.5 216.4 277.3 217.3 277 218.1 277.1 218.9 277.9 219.8 277.5 220.6 277.9 221.5 278.5 222.3 278.5 223.1 278.6 224 279 224.8 278.9 225.6 279.6 226.5 279.8 227.3 280.1 228.1 279.8 229 279.9 229.8 279.9 230.6 280 231.5 279.6 232.3 278.9 233.1 279.3 234 279 234.8 278.4 235.6 278 236.5 278.4 237.3 278.1 238.1 278.2 239 277.9 239.8 277.1 240.6 277.2 241.5 277.4 242.3 277.3 243.1 277.7 244 278 244.8 278.2 245.6 278.2 246.5 278.5 247.3 278.8 248.2 278.9 249 278.5 249.8 278.7 250.7 279 251.5 279.7 252.3 279.6 253.2 279.5 254 280 254.8 279.4 255.7 279.9 256.5 279.4 257.3 279.4 258.2 278.7 259 279.2 259.8 278.7 260.7 278.2 261.5 278.1 261.5 289.6 260.7 289.3 259.8 289.1 259 288.8 258.2 288.7 257.3 288.5 256.5 288.6 255.7 288.4 254.8 288.8 254 288.3 253.2 288.4 252.3 288.6 251.5 288.6 250.7 288.8 249.8 288.7 249 288.7 248.2 289.4 247.3 289.6 246.5 290.3 245.6 290 244.8 290.5 244 290.6 243.1 290.2 242.3 291.1 241.5 291.1 240.6 290.3 239.8 290.5 239 290.6 238.1 290 237.3 290.6 236.5 289.9 235.6 289.7 234.8 289.5 234 289.2 233.1 289 232.3 289 231.5 288.8 230.6 288.5 229.8 288.2 229 288.9 228.1 288.5 227.3 288.4 226.5 289 225.6 288.3 224.8 288.7 224 289.3 223.1 289.1 222.3 289.3 221.5 290.2 220.6 290.4 219.8 290 218.9 290.7 218.1 290.2 217.3 290.5 216.4 291.1 215.6 291 214.8 290.5 213.9 290.3 213.1 290.1 212.3 289.7 211.4 289.8 210.6 289.5 209.8 289.5 208.9 289.4 208.1 288.6 207.3 288.7 206.4 288.7 205.6 288.7 204.8 288.1 203.9 288 203.1 288.8 202.3 288.6 201.4 288.3 200.6 288.9 199.8 288.8 198.9 288.8 198.1 289.6 197.3 289.9 196.4 290.2 195.6 290.3 194.8 290.6 193.9 290.4 193.1 290.2 192.3 291.1 191.4 290.9 190.6 290.3 189.7 290.5 188.9 290.6 188.1 290.3 187.2 290 186.4 290.1 185.6 289.5 184.7 289.8 183.9 288.8 183.1 288.9 182.2 289.1 181.4 289 180.6 288.7 179.7 288.2 178.9 288.1 178.1 288.9 177.2 288.7 176.4 288.3 175.6 289.2 174.7 288.9 173.9 289.4 173.1 289.5 172.2 290 171.4 290 170.6 290.6 169.7 290.6 168.9 290.4 168.1 290.5 167.2 290.2 166.4 290.5 165.6 291 164.7 290.8 163.9 290.9 163 290.1 162.2 290.2 161.4 289.7 160.5 289.9 159.7 289.4 158.9 289.4 158 288.6 157.2 288.9 156.4 288.6 155.5 288.7 154.7 288.1 153.9 288.3 153 288.4 152.2 288.4 151.4 288.5 150.5 288.7 149.7 289.1 148.9 288.9 148 289.8 147.2 289.5 146.4 290.3 145.5 289.7 144.7 290.3 143.9 290 143 290.7 142.2 291 141.4 291.1 140.5 291 139.7 290.3 138.9 290.1 138 289.9 137.2 289.8 136.3 290 135.5 289.7 134.7 289.6 133.8 289.6 133 289.3 132.2 288.7 131.3 288.9 130.5 288.4 129.7 288.8 128.8 288.3 128 288.6 127.2 288.2 126.3 288.8 125.5 289 124.7 288.8 123.8 289.3 123 289.3 122.2 289.8 121.3 289.6 120.5 290 119.7 290.4 118.8 290.3 118 290.5 117.2 290.8 116.3 290.5 115.5 290.7 114.7 291 113.8 290.1 113 290 112.2 289.6 111.3 289.9 110.5 289.7 109.7 289.2 108.8 289.6 108 288.5 107.1 289.1 106.3 288.9 105.5 288.8 104.6 288.1 103.8 288.7 103 288.8 102.1 288.3 101.3 289 100.5 288.8 99.6 288.8 98.8 289.4 98 289.5 97.1 290.1 96.3 290.1 95.5 289.7 94.6 290.1 93.8 290.1 93 290.5 92.1 290.7 91.3 291.1 90.5 290.4 89.6 291.1 88.8 291 88 290.8 87.1 289.8 86.3 289.8 85.5 289.6 84.6 289.2 83.8 289 83 288.8 82.1 288.9 81.3 288.4 80.4 288.8 79.6 288.1 78.8 288 77.9 288.4 77.1 288.6 76.3 288.3 75.4 288.7 74.6 288.8 73.8 288.8 72.9 289.4 72.1 289.4 71.3 289.6 70.4 290.4 69.6 289.9 68.8 290.4 67.9 290.7 67.1 290.5 66.3 290.5 65.4 290.6 64.6 291.1 63.8 290.1 62.9 290.6 62.1 290 61.3 289.9 60.4 289.2 59.6 289.5 58.8 289.3 57.9 288.5 57.1 288.8 56.3 288.4 55.4 288.7 54.6 288.4 53.8 288.5 52.9 288.5 52.1 288.5 51.2 288.5 50.4 289.2 49.6 289.3 48.7 288.8 47.9 289.3 47.1 289.2 46.2 289.5 45.4 290.6 44.6 290.8 43.7 290.3 42.9 290.2 42.1 290.2 41.2 291 40.4 290.3 39.6 290.9 38.7 291 37.9 289.9 37.1 290.2 36.2 289.6 35.4 289.7 34.6 289.9 33.7 288.9 32.9 289.5 32.1 289.2 31.2 289 30.4 288.6 29.6 288.3 28.7 288.2 27.9 288.3 27.1 288.2 26.2 288.2 25.4 289.2 24.5 289.3 23.7 289.6 22.9 289.8 22 289.6 21.2 289.4 20.4 290.2 19.5 289.9 18.7 290.7 17.9 291 17 290.3 16.2 290.7 15.4 290.7 14.5 290.3 13.7 290.8 12.9 289.9 12 290.2 11.2 290Z" fill="#10f010"/>
<path d="M35 269.6V291 M60 277.1V297 M85 269.6V291 M110.1 277.1V297 M135.1 269.6V291 M160.1 277.1V297 M185.2 269.6V291 M210.2 277.1V297 M235.2 269.6V291 M260.2 277.1V297" stroke="#48ee48" stroke-width="0.9"/>
<line x1="136.3" y1="184.9" x2="136.3" y2="318" stroke="#8a8a8a" stroke-width="0.85"/>
<line x1="11.2" y1="251.4" x2="261.5" y2="251.4" stroke="#8a8a8a" stroke-width="0.85"/>
<path d="M16.2 250.6v1.6 M21.2 250.6v1.6 M26.2 250.6v1.6 M31.2 250.6v1.6 M36.2 250.6v1.6 M41.2 250.6v1.6 M46.2 250.6v1.6 M51.2 250.6v1.6 M56.3 250.6v1.6 M61.3 250.6v1.6 M66.3 250.6v1.6 M71.3 250.6v1.6 M76.3 250.6v1.6 M81.3 250.6v1.6 M86.3 250.6v1.6 M91.3 250.6v1.6 M96.3 250.6v1.6 M101.3 250.6v1.6 M106.3 250.6v1.6 M111.3 250.6v1.6 M116.3 250.6v1.6 M121.3 250.6v1.6 M126.3 250.6v1.6 M131.3 250.6v1.6 M136.3 250.6v1.6 M141.4 250.6v1.6 M146.4 250.6v1.6 M151.4 250.6v1.6 M156.4 250.6v1.6 M161.4 250.6v1.6 M166.4 250.6v1.6 M171.4 250.6v1.6 M176.4 250.6v1.6 M181.4 250.6v1.6 M186.4 250.6v1.6 M191.4 250.6v1.6 M196.4 250.6v1.6 M201.4 250.6v1.6 M206.4 250.6v1.6 M211.4 250.6v1.6 M216.4 250.6v1.6 M221.5 250.6v1.6 M226.5 250.6v1.6 M231.5 250.6v1.6 M236.5 250.6v1.6 M241.5 250.6v1.6 M246.5 250.6v1.6 M251.5 250.6v1.6 M256.5 250.6v1.6 M135.5 188.2h1.6 M135.5 191.6h1.6 M135.5 194.9h1.6 M135.5 198.2h1.6 M135.5 201.5h1.6 M135.5 204.9h1.6 M135.5 208.2h1.6 M135.5 211.5h1.6 M135.5 214.8h1.6 M135.5 218.2h1.6 M135.5 221.5h1.6 M135.5 224.8h1.6 M135.5 228.2h1.6 M135.5 231.5h1.6 M135.5 234.8h1.6 M135.5 238.1h1.6 M135.5 241.5h1.6 M135.5 244.8h1.6 M135.5 248.1h1.6 M135.5 251.4h1.6 M135.5 254.8h1.6 M135.5 258.1h1.6 M135.5 261.4h1.6 M135.5 264.8h1.6 M135.5 268.1h1.6 M135.5 271.4h1.6 M135.5 274.7h1.6 M135.5 278.1h1.6 M135.5 281.4h1.6 M135.5 284.7h1.6 M135.5 288.1h1.6 M135.5 291.4h1.6 M135.5 294.7h1.6 M135.5 298h1.6 M135.5 301.4h1.6 M135.5 304.7h1.6 M135.5 308h1.6 M135.5 311.3h1.6 M135.5 314.7h1.6" stroke="#555" stroke-width="0.7"/>
<path d="M4.3 216.1H8.9L10.6 218.7L8.9 221.3H4.3Z" fill="#a08cc8"/><text x="7" y="220.1" font-family="Liberation Sans, sans-serif" font-size="3.8" font-weight="bold" fill="#5a5a6a" text-anchor="middle">1</text>
<path d="M4.3 249.2H8.9L10.6 251.4L8.9 253.6H4.3Z" fill="#62c8b4"/><text x="7" y="252.8" font-family="Liberation Sans, sans-serif" font-size="3.8" font-weight="bold" fill="#5a5a6a" text-anchor="middle">2</text>
<path d="M4.3 283H8.9L10.6 285.2L8.9 287.4H4.3Z" fill="#84c484"/><text x="7" y="286.6" font-family="Liberation Sans, sans-serif" font-size="3.8" font-weight="bold" fill="#5a5a6a" text-anchor="middle">4</text>
<g transform="translate(11.2,184.9) scale(1.0028,1.0129)" font-family="Liberation Sans, sans-serif"><text x="-6.9" y="-0.2" font-size="6.6" font-weight="bold" fill="#111" textLength="10" lengthAdjust="spacingAndGlyphs">Tek</text>
<text x="4.6" y="-1.1" font-size="5.2" fill="#777" textLength="7.2" lengthAdjust="spacingAndGlyphs">Run</text>
<rect x="33.2" y="-5.1" width="183.3" height="5.1" fill="#fff" stroke="#6a6a6a" stroke-width="0.7"/>
<line x1="70.6" y1="-5.1" x2="70.6" y2="0" stroke="#222" stroke-width="0.9"/>
<line x1="180.1" y1="-5.1" x2="180.1" y2="0" stroke="#222" stroke-width="0.9"/>
<line x1="71" y1="-2.9" x2="179.7" y2="-2.9" stroke="#a8e4a8" stroke-width="1.5"/>
<text x="217.8" y="-1.0" font-size="5.6" fill="#666" textLength="12" lengthAdjust="spacingAndGlyphs">Trig'd</text>
<rect x="123.6" y="-5.4" width="2.6" height="4.8" rx="1" fill="#f5a020"/>
<rect x="122.8" y="2.6" width="4.4" height="4.4" rx="1.3" fill="#f5a020"/>
<rect x="123.6" y="-0.8" width="2.6" height="3.6" fill="#f7b24a"/>
<rect x="0.4" y="114.3" width="105.7" height="12.4" rx="2.2" fill="#fff" stroke="#707070" stroke-width="0.95"/>
<rect x="108.0" y="114.3" width="112.2" height="12.4" rx="2.2" fill="#fff" stroke="#707070" stroke-width="0.95"/>
<rect x="0.4" y="127.9" width="219.8" height="24.1" rx="2.2" fill="#fff" stroke="#707070" stroke-width="0.95"/>
<ellipse cx="5.9" cy="117.8" rx="4.3" ry="2.6" fill="#1010e8"/><text x="5.9" y="119.3" font-size="3.8" font-weight="bold" fill="#e8e8ff" text-anchor="middle">1</text>
<ellipse cx="5.9" cy="123.5" rx="4.3" ry="2.6" fill="#a010a8"/><text x="5.9" y="125" font-size="3.8" font-weight="bold" fill="#e8e8ff" text-anchor="middle">3</text>
<ellipse cx="58.8" cy="117.8" rx="4" ry="2.6" fill="#33dde6"/><text x="58.8" y="119.3" font-size="3.8" font-weight="bold" fill="#e8e8ff" text-anchor="middle">2</text>
<ellipse cx="58.8" cy="123.5" rx="4" ry="2.6" fill="#10a010"/><text x="58.8" y="125" font-size="3.8" font-weight="bold" fill="#e8e8ff" text-anchor="middle">4</text>
<text x="15.6" y="119.9" fill="#5c5cff" font-size="4.8" >250 V</text>
<text x="15.6" y="125.6" fill="#d84cd8" font-size="4.8" >250 V</text>
<text x="68.9" y="119.9" fill="#66e2f0" font-size="4.8" >25.0 A</text>
<text x="89.6" y="119.9" fill="#66e2f0" font-size="3.6" >Ω</text>
<text x="68.9" y="125.6" fill="#48bc48" font-size="4.8" >500mA</text>
<text x="94.2" y="125.6" fill="#48bc48" font-size="4.2" >∿</text>
<text x="109.7" y="119.6" fill="#555" font-size="4.8" >10.0ms</text>
<text x="153.8" y="119.6" fill="#555" font-size="4.8" >50.0MS/s</text>
<ellipse cx="196.1" cy="117.9" rx="4.3" ry="2.6" fill="#1010e8"/><text x="196.1" y="119.4" font-size="3.8" font-weight="bold" fill="#e8e8ff" text-anchor="middle">1</text>
<text x="202.6" y="119.6" fill="#555" font-size="4.8" >/</text>
<rect x="109.7" y="121.0" width="3.0" height="4.2" rx="0.6" fill="#f08c00"/>
<text x="113.4" y="125.2" fill="#f5a33a" font-size="4.9" >▸▾50.96000μs</text>
<text x="153.8" y="125.2" fill="#555" font-size="4.8" >5M points</text>
<text x="193.9" y="125.2" fill="#555" font-size="4.8" >70.0 V</text>
<text x="46.8" y="132.6" fill="#555" font-size="4.8" >Value</text>
<text x="78.5" y="132.6" fill="#555" font-size="4.8" >Mean</text>
<text x="113.6" y="132.6" fill="#555" font-size="4.8" >Min</text>
<text x="148.7" y="132.6" fill="#555" font-size="4.8" >Max</text>
<text x="183.8" y="132.6" fill="#555" font-size="4.8" >Std Dev</text>
<ellipse cx="5.9" cy="136.9" rx="4.3" ry="2.6" fill="#33dde6"/><text x="5.9" y="138.4" font-size="3.8" font-weight="bold" fill="#e8e8ff" text-anchor="middle">2</text>
<text x="11.8" y="138.8" fill="#66e2f0" font-size="4.8" >RMS</text>
<text x="46.8" y="138.8" fill="#66e2f0" font-size="4.8" >15.0 A</text>
<text x="78.5" y="138.8" fill="#66e2f0" font-size="4.8" >7.8m</text>
<text x="113.6" y="138.8" fill="#66e2f0" font-size="4.8" >1.29</text>
<text x="148.7" y="138.8" fill="#66e2f0" font-size="4.8" >15.0</text>
<text x="183.8" y="138.8" fill="#66e2f0" font-size="4.8" >6.06</text>
<ellipse cx="5.9" cy="142.8" rx="4.3" ry="2.6" fill="#1010e8"/><text x="5.9" y="144.3" font-size="3.8" font-weight="bold" fill="#e8e8ff" text-anchor="middle">1</text>
<text x="11.8" y="144.6" fill="#5c5cff" font-size="4.8" >RMS</text>
<text x="46.8" y="144.6" fill="#5c5cff" font-size="4.8" >227 V</text>
<text x="78.5" y="144.6" fill="#5c5cff" font-size="4.8" >224</text>
<text x="113.6" y="144.6" fill="#5c5cff" font-size="4.8" >223</text>
<text x="148.7" y="144.6" fill="#5c5cff" font-size="4.8" >227</text>
<text x="183.8" y="144.6" fill="#5c5cff" font-size="4.8" >1.63</text>
<ellipse cx="5.9" cy="148.8" rx="4.3" ry="2.6" fill="#10a010"/><text x="5.9" y="150.3" font-size="3.8" font-weight="bold" fill="#e8e8ff" text-anchor="middle">4</text>
<text x="11.8" y="150.4" fill="#48bc48" font-size="4.8" >RMS</text>
<text x="46.8" y="150.4" fill="#48bc48" font-size="4.8" >32.9mA</text>
<text x="78.5" y="150.4" fill="#48bc48" font-size="4.8" >27.1m</text>
<text x="113.6" y="150.4" fill="#48bc48" font-size="4.8" >23.2m</text>
<text x="148.7" y="150.4" fill="#48bc48" font-size="4.8" >32.9m</text>
<text x="183.8" y="150.4" fill="#48bc48" font-size="4.8" >3.72m</text></g>
<g font-family="Liberation Serif, serif" fill="#151515" stroke="#151515" stroke-width="0.18"><g transform="translate(116.88,206.49) scale(0.935,0.992)"><text font-size="10" font-style="italic">v<tspan font-size="6.8" font-style="normal" dy="1.6">Cf</tspan></text></g><g transform="translate(115.48,228.27) scale(0.938,0.944)"><text font-size="10" font-style="italic">v<tspan font-size="6.8" font-style="normal" dy="1.6">ac</tspan></text></g><g transform="translate(134.78,247.98) scale(0.990,0.856)"><text font-size="10" font-style="italic">i<tspan font-size="6.8" font-style="normal" dy="1.6">ac</tspan><tspan dy="-1.6" font-style="normal">(</tspan>i<tspan font-size="6.8" font-style="normal" dy="1.6">L2</tspan><tspan dy="-1.6" font-style="normal">)</tspan></text></g><g transform="translate(141.33,277.04) scale(0.917,0.776)"><text font-size="10" font-style="italic">i<tspan font-size="6.8" font-style="normal" dy="1.6">Clk</tspan></text></g><g transform="translate(131.51,351.53) scale(0.980,0.949)"><text font-size="12">(<tspan font-weight="bold">c</tspan>)</text></g></g>
<line x1="333" y1="187.4" x2="333" y2="315.7" stroke="#cfcfcf" stroke-width="0.6" stroke-dasharray="0.6 2.6"/>
<line x1="356.8" y1="187.4" x2="356.8" y2="315.7" stroke="#cfcfcf" stroke-width="0.6" stroke-dasharray="0.6 2.6"/>
<line x1="380.5" y1="187.4" x2="380.5" y2="315.7" stroke="#cfcfcf" stroke-width="0.6" stroke-dasharray="0.6 2.6"/>
<line x1="404.2" y1="187.4" x2="404.2" y2="315.7" stroke="#cfcfcf" stroke-width="0.6" stroke-dasharray="0.6 2.6"/>
<line x1="451.7" y1="187.4" x2="451.7" y2="315.7" stroke="#cfcfcf" stroke-width="0.6" stroke-dasharray="0.6 2.6"/>
<line x1="475.4" y1="187.4" x2="475.4" y2="315.7" stroke="#cfcfcf" stroke-width="0.6" stroke-dasharray="0.6 2.6"/>
<line x1="499.1" y1="187.4" x2="499.1" y2="315.7" stroke="#cfcfcf" stroke-width="0.6" stroke-dasharray="0.6 2.6"/>
<line x1="522.9" y1="187.4" x2="522.9" y2="315.7" stroke="#cfcfcf" stroke-width="0.6" stroke-dasharray="0.6 2.6"/>
<line x1="309.3" y1="203.4" x2="546.6" y2="203.4" stroke="#cfcfcf" stroke-width="0.6" stroke-dasharray="0.6 4.1"/>
<line x1="309.3" y1="219.5" x2="546.6" y2="219.5" stroke="#cfcfcf" stroke-width="0.6" stroke-dasharray="0.6 4.1"/>
<line x1="309.3" y1="235.5" x2="546.6" y2="235.5" stroke="#cfcfcf" stroke-width="0.6" stroke-dasharray="0.6 4.1"/>
<line x1="309.3" y1="267.6" x2="546.6" y2="267.6" stroke="#cfcfcf" stroke-width="0.6" stroke-dasharray="0.6 4.1"/>
<line x1="309.3" y1="283.6" x2="546.6" y2="283.6" stroke="#cfcfcf" stroke-width="0.6" stroke-dasharray="0.6 4.1"/>
<line x1="309.3" y1="299.7" x2="546.6" y2="299.7" stroke="#cfcfcf" stroke-width="0.6" stroke-dasharray="0.6 4.1"/>
<line x1="309.3" y1="187.4" x2="309.3" y2="315.7" stroke="#9a9a9a" stroke-width="0.9"/>
<path d="M309.3 190.6h1.3 M309.3 193.8h1.3 M309.3 197h1.3 M309.3 200.2h1.3 M309.3 203.4h1.3 M309.3 206.6h1.3 M309.3 209.9h1.3 M309.3 213.1h1.3 M309.3 216.3h1.3 M309.3 219.5h1.3 M309.3 222.7h1.3 M309.3 225.9h1.3 M309.3 229.1h1.3 M309.3 232.3h1.3 M309.3 235.5h1.3 M309.3 238.7h1.3 M309.3 241.9h1.3 M309.3 245.1h1.3 M309.3 248.3h1.3 M309.3 251.6h1.3 M309.3 254.8h1.3 M309.3 258h1.3 M309.3 261.2h1.3 M309.3 264.4h1.3 M309.3 267.6h1.3 M309.3 270.8h1.3 M309.3 274h1.3 M309.3 277.2h1.3 M309.3 280.4h1.3 M309.3 283.6h1.3 M309.3 286.8h1.3 M309.3 290h1.3 M309.3 293.2h1.3 M309.3 296.5h1.3 M309.3 299.7h1.3 M309.3 302.9h1.3 M309.3 306.1h1.3 M309.3 309.3h1.3 M309.3 312.5h1.3" stroke="#8a8a8a" stroke-width="0.6"/>
<line x1="546.6" y1="187.4" x2="546.6" y2="315.7" stroke="#999" stroke-width="0.8"/>
<line x1="309.3" y1="315.7" x2="546.6" y2="315.7" stroke="#444" stroke-width="1"/>
<line x1="308.3" y1="187.4" x2="546.6" y2="187.4" stroke="#333" stroke-width="0.9"/>
<path d="M309.3 187.4v1.3 M314 187.4v1.3 M318.8 187.4v1.3 M323.5 187.4v1.3 M328.3 187.4v1.3 M333 187.4v1.3 M337.8 187.4v1.3 M342.5 187.4v1.3 M347.3 187.4v1.3 M352 187.4v1.3 M356.8 187.4v1.3 M361.5 187.4v1.3 M366.3 187.4v1.3 M371 187.4v1.3 M375.7 187.4v1.3 M380.5 187.4v1.3 M385.2 187.4v1.3 M390 187.4v1.3 M394.7 187.4v1.3 M399.5 187.4v1.3 M404.2 187.4v1.3 M409 187.4v1.3 M413.7 187.4v1.3 M418.5 187.4v1.3 M423.2 187.4v1.3 M428 187.4v1.3 M432.7 187.4v1.3 M437.4 187.4v1.3 M442.2 187.4v1.3 M446.9 187.4v1.3 M451.7 187.4v1.3 M456.4 187.4v1.3 M461.2 187.4v1.3 M465.9 187.4v1.3 M470.7 187.4v1.3 M475.4 187.4v1.3 M480.2 187.4v1.3 M484.9 187.4v1.3 M489.6 187.4v1.3 M494.4 187.4v1.3 M499.1 187.4v1.3 M503.9 187.4v1.3 M508.6 187.4v1.3 M513.4 187.4v1.3 M518.1 187.4v1.3 M522.9 187.4v1.3 M527.6 187.4v1.3 M532.4 187.4v1.3 M537.1 187.4v1.3 M541.9 187.4v1.3 M546.6 187.4v1.3" stroke="#9a9a9a" stroke-width="0.6"/>
<path d="M309.3 222.3 310.3 224.8 311.3 227.1 312.3 229.2 313.3 231.1 314.2 232.8 315.2 234.3 316.2 235.5 317.2 236.5 318.2 237.1 319.2 237.5 320.2 237.6 321.2 237.4 322.2 236.9 323.1 236.1 324.1 235.1 325.1 233.8 326.1 232.2 327.1 230.4 328.1 228.4 329.1 226.1 330.1 223.8 331.1 221.3 332 218.8 333 216.2 334 213.6 335 211.1 336 208.7 337 206.4 338 204.3 339 202.5 340 201 340.9 199.8 341.9 198.9 342.9 198.5 343.9 198.3 344.9 198.6 345.9 199.2 346.9 200.2 347.9 201.6 348.9 203.2 349.8 205.1 350.8 207.3 351.8 209.6 352.8 212.1 353.8 214.6 354.8 217.2 355.8 219.8 356.8 222.3 357.7 224.8 358.7 227.1 359.7 229.2 360.7 231.1 361.7 232.8 362.7 234.3 363.7 235.5 364.7 236.5 365.7 237.1 366.6 237.5 367.6 237.6 368.6 237.4 369.6 236.9 370.6 236.1 371.6 235.1 372.6 233.8 373.6 232.2 374.6 230.4 375.5 228.4 376.5 226.1 377.5 223.8 378.5 221.3 379.5 218.8 380.5 216.2 381.5 213.6 382.5 211.1 383.5 208.7 384.4 206.4 385.4 204.3 386.4 202.5 387.4 201 388.4 199.8 389.4 198.9 390.4 198.5 391.4 198.3 392.4 198.6 393.3 199.2 394.3 200.2 395.3 201.6 396.3 203.2 397.3 205.1 398.3 207.3 399.3 209.6 400.3 212.1 401.3 214.6 402.2 217.2 403.2 219.8 404.2 222.3 405.2 224.8 406.2 227.1 407.2 229.2 408.2 231.1 409.2 232.8 410.2 234.3 411.1 235.5 412.1 236.5 413.1 237.1 414.1 237.5 415.1 237.6 416.1 237.4 417.1 236.9 418.1 236.1 419.1 235.1 420 233.8 421 232.2 422 230.4 423 228.4 424 226.1 425 223.8 426 221.3 427 218.8 428 216.2 428.9 213.6 429.9 211.1 430.9 208.7 431.9 206.4 432.9 204.3 433.9 202.5 434.9 201 435.9 199.8 436.8 198.9 437.8 198.5 438.8 198.3 439.8 198.6 440.8 199.2 441.8 200.2 442.8 201.6 443.8 203.2 444.8 205.1 445.7 207.3 446.7 209.6 447.7 212.1 448.7 214.6 449.7 217.2 450.7 219.8 451.7 222.3 452.7 224.8 453.7 227.1 454.6 229.2 455.6 231.1 456.6 232.8 457.6 234.3 458.6 235.5 459.6 236.5 460.6 237.1 461.6 237.5 462.6 237.6 463.5 237.4 464.5 236.9 465.5 236.1 466.5 235.1 467.5 233.8 468.5 232.2 469.5 230.4 470.5 228.4 471.5 226.1 472.4 223.8 473.4 221.3 474.4 218.8 475.4 216.2 476.4 213.6 477.4 211.1 478.4 208.7 479.4 206.4 480.4 204.3 481.3 202.5 482.3 201 483.3 199.8 484.3 198.9 485.3 198.5 486.3 198.3 487.3 198.6 488.3 199.2 489.3 200.2 490.2 201.6 491.2 203.2 492.2 205.1 493.2 207.3 494.2 209.6 495.2 212.1 496.2 214.6 497.2 217.2 498.2 219.8 499.1 222.3 500.1 224.8 501.1 227.1 502.1 229.2 503.1 231.1 504.1 232.8 505.1 234.3 506.1 235.5 507.1 236.5 508 237.1 509 237.5 510 237.6 511 237.4 512 236.9 513 236.1 514 235.1 515 233.8 515.9 232.2 516.9 230.4 517.9 228.4 518.9 226.1 519.9 223.8 520.9 221.3 521.9 218.8 522.9 216.2 523.9 213.6 524.8 211.1 525.8 208.7 526.8 206.4 527.8 204.3 528.8 202.5 529.8 201 530.8 199.8 531.8 198.9 532.8 198.5 533.7 198.3 534.7 198.6 535.7 199.2 536.7 200.2 537.7 201.6 538.7 203.2 539.7 205.1 540.7 207.3 541.7 209.6 542.6 212.1 543.6 214.6 544.6 217.2 545.6 219.8 546.6 222.3 546.6 223.6 545.6 221 544.6 218.4 543.6 216 542.6 213.6 541.7 211.4 540.7 209.4 539.7 207.6 538.7 206 537.7 204.7 536.7 203.6 535.7 202.8 534.7 202.3 533.7 202.1 532.8 202.2 531.8 202.6 530.8 203.3 529.8 204.2 528.8 205.4 527.8 206.9 526.8 208.6 525.8 210.6 524.8 212.7 523.9 215 522.9 217.4 521.9 220 520.9 222.5 519.9 225.1 518.9 227.7 517.9 230.1 516.9 232.5 515.9 234.6 515 236.5 514 238.2 513 239.5 512 240.5 511 241.1 510 241.4 509 241.3 508 240.8 507.1 240 506.1 238.7 505.1 237.2 504.1 235.4 503.1 233.4 502.1 231.1 501.1 228.7 500.1 226.2 499.1 223.6 498.2 221 497.2 218.4 496.2 216 495.2 213.6 494.2 211.4 493.2 209.4 492.2 207.6 491.2 206 490.2 204.7 489.3 203.6 488.3 202.8 487.3 202.3 486.3 202.1 485.3 202.2 484.3 202.6 483.3 203.3 482.3 204.2 481.3 205.4 480.4 206.9 479.4 208.6 478.4 210.6 477.4 212.7 476.4 215 475.4 217.4 474.4 220 473.4 222.5 472.4 225.1 471.5 227.7 470.5 230.1 469.5 232.5 468.5 234.6 467.5 236.5 466.5 238.2 465.5 239.5 464.5 240.5 463.5 241.1 462.6 241.4 461.6 241.3 460.6 240.8 459.6 240 458.6 238.7 457.6 237.2 456.6 235.4 455.6 233.4 454.6 231.1 453.7 228.7 452.7 226.2 451.7 223.6 450.7 221 449.7 218.4 448.7 216 447.7 213.6 446.7 211.4 445.7 209.4 444.8 207.6 443.8 206 442.8 204.7 441.8 203.6 440.8 202.8 439.8 202.3 438.8 202.1 437.8 202.2 436.8 202.6 435.9 203.3 434.9 204.2 433.9 205.4 432.9 206.9 431.9 208.6 430.9 210.6 429.9 212.7 428.9 215 428 217.4 427 220 426 222.5 425 225.1 424 227.7 423 230.1 422 232.5 421 234.6 420 236.5 419.1 238.2 418.1 239.5 417.1 240.5 416.1 241.1 415.1 241.4 414.1 241.3 413.1 240.8 412.1 240 411.1 238.7 410.2 237.2 409.2 235.4 408.2 233.4 407.2 231.1 406.2 228.7 405.2 226.2 404.2 223.6 403.2 221 402.2 218.4 401.3 216 400.3 213.6 399.3 211.4 398.3 209.4 397.3 207.6 396.3 206 395.3 204.7 394.3 203.6 393.3 202.8 392.4 202.3 391.4 202.1 390.4 202.2 389.4 202.6 388.4 203.3 387.4 204.2 386.4 205.4 385.4 206.9 384.4 208.6 383.5 210.6 382.5 212.7 381.5 215 380.5 217.4 379.5 220 378.5 222.5 377.5 225.1 376.5 227.7 375.5 230.1 374.6 232.5 373.6 234.6 372.6 236.5 371.6 238.2 370.6 239.5 369.6 240.5 368.6 241.1 367.6 241.4 366.6 241.3 365.7 240.8 364.7 240 363.7 238.7 362.7 237.2 361.7 235.4 360.7 233.4 359.7 231.1 358.7 228.7 357.7 226.2 356.8 223.6 355.8 221 354.8 218.4 353.8 216 352.8 213.6 351.8 211.4 350.8 209.4 349.8 207.6 348.9 206 347.9 204.7 346.9 203.6 345.9 202.8 344.9 202.3 343.9 202.1 342.9 202.2 341.9 202.6 340.9 203.3 340 204.2 339 205.4 338 206.9 337 208.6 336 210.6 335 212.7 334 215 333 217.4 332 220 331.1 222.5 330.1 225.1 329.1 227.7 328.1 230.1 327.1 232.5 326.1 234.6 325.1 236.5 324.1 238.2 323.1 239.5 322.2 240.5 321.2 241.1 320.2 241.4 319.2 241.3 318.2 240.8 317.2 240 316.2 238.7 315.2 237.2 314.2 235.4 313.3 233.4 312.3 231.1 311.3 228.7 310.3 226.2 309.3 223.6Z" fill="#0a0af0"/>
<path d="M309.3 222.9 310.8 226.7 312.3 230.1 313.7 233.2 315.2 235.8 316.7 237.7 318.2 239 319.7 239.5 321.2 239.3 322.6 238.3 324.1 236.6 325.6 234.3 327.1 231.4 328.6 228.1 330.1 224.5 331.5 220.6 333 216.8 334.5 213.1 336 209.6 337.5 206.5 339 204 340.4 202 341.9 200.8 343.4 200.2 344.9 200.5 346.4 201.4 347.9 203.1 349.3 205.4 350.8 208.3 352.3 211.7 353.8 215.3 355.3 219.1 356.8 222.9 358.2 226.7 359.7 230.1 361.2 233.2 362.7 235.8 364.2 237.7 365.7 239 367.1 239.5 368.6 239.3 370.1 238.3 371.6 236.6 373.1 234.3 374.6 231.4 376 228.1 377.5 224.5 379 220.6 380.5 216.8 382 213.1 383.5 209.6 384.9 206.5 386.4 204 387.9 202 389.4 200.8 390.9 200.2 392.4 200.5 393.8 201.4 395.3 203.1 396.8 205.4 398.3 208.3 399.8 211.7 401.3 215.3 402.7 219.1 404.2 222.9 405.7 226.7 407.2 230.1 408.7 233.2 410.2 235.8 411.6 237.7 413.1 239 414.6 239.5 416.1 239.3 417.6 238.3 419.1 236.6 420.5 234.3 422 231.4 423.5 228.1 425 224.5 426.5 220.6 428 216.8 429.4 213.1 430.9 209.6 432.4 206.5 433.9 204 435.4 202 436.8 200.8 438.3 200.2 439.8 200.5 441.3 201.4 442.8 203.1 444.3 205.4 445.7 208.3 447.2 211.7 448.7 215.3 450.2 219.1 451.7 222.9 453.2 226.7 454.6 230.1 456.1 233.2 457.6 235.8 459.1 237.7 460.6 239 462.1 239.5 463.5 239.3 465 238.3 466.5 236.6 468 234.3 469.5 231.4 471 228.1 472.4 224.5 473.9 220.6 475.4 216.8 476.9 213.1 478.4 209.6 479.9 206.5 481.3 204 482.8 202 484.3 200.8 485.8 200.2 487.3 200.5 488.8 201.4 490.2 203.1 491.7 205.4 493.2 208.3 494.7 211.7 496.2 215.3 497.7 219.1 499.1 222.9 500.6 226.7 502.1 230.1 503.6 233.2 505.1 235.8 506.6 237.7 508 239 509.5 239.5 511 239.3 512.5 238.3 514 236.6 515.5 234.3 516.9 231.4 518.4 228.1 519.9 224.5 521.4 220.6 522.9 216.8 524.4 213.1 525.8 209.6 527.3 206.5 528.8 204 530.3 202 531.8 200.8 533.3 200.2 534.7 200.5 536.2 201.4 537.7 203.1 539.2 205.4 540.7 208.3 542.2 211.7 543.6 215.3 545.1 219.1 546.6 222.9" fill="none" stroke="#0a0af0" stroke-width="1.7"/>
<path d="M331.8 195.2V220.4 M355.6 195.2V220.4 M379.3 195.2V220.4 M403 195.2V220.4 M426.8 195.2V220.4 M450.5 195.2V220.4 M474.2 195.2V220.4 M498 195.2V220.4 M521.7 195.2V220.4 M545.4 195.2V220.4" stroke="#f8a8f8" stroke-width="0.8"/>
<path d="M309.3 199.1 310.3 201.9 311.3 204.5 312.4 207 313.4 209.2 314.4 211.1 315.4 212.8 316.5 214.2 317.5 215.2 318.5 215.9 319.5 216.2 320.6 216.2 321.6 215.8 322.6 215 323.6 214 324.7 212.6 325.7 210.8 326.7 208.9 327.7 206.6 328.8 204.1 329.8 201.5 330.8 198.7 331.8 195.8 331.8 197 330.8 199.9 329.8 202.8 328.8 205.7 327.7 208.4 326.7 210.9 325.7 213.2 324.7 215.2 323.6 216.8 322.6 218.1 321.6 219 320.6 219.4 319.5 219.5 318.5 219.1 317.5 218.3 316.5 217 315.4 215.4 314.4 213.5 313.4 211.3 312.4 208.8 311.3 206.1 310.3 203.3 309.3 200.4Z M331.8 219.3 332.8 216.7 333.8 214.1 334.8 211.6 335.8 209.2 336.8 206.9 337.8 204.8 338.8 202.9 339.8 201.4 340.7 200.1 341.7 199.2 342.7 198.6 343.7 198.4 344.7 198.6 345.7 199.2 346.7 200.1 347.7 201.4 348.7 202.9 349.6 204.8 350.6 206.9 351.6 209.2 352.6 211.6 353.6 214.1 354.6 216.7 355.6 219.3 355.6 220.5 354.6 217.9 353.6 215.5 352.6 213.1 351.6 211 350.6 209 349.6 207.2 348.7 205.6 347.7 204.4 346.7 203.3 345.7 202.6 344.7 202.2 343.7 202 342.7 202.2 341.7 202.6 340.7 203.3 339.8 204.4 338.8 205.6 337.8 207.2 336.8 209 335.8 211 334.8 213.1 333.8 215.5 332.8 217.9 331.8 220.5Z M355.6 195.8 356.6 198.6 357.6 201.3 358.5 203.9 359.5 206.3 360.5 208.5 361.5 210.5 362.5 212.2 363.5 213.6 364.5 214.7 365.5 215.6 366.4 216.1 367.4 216.2 368.4 216.1 369.4 215.6 370.4 214.7 371.4 213.6 372.4 212.2 373.4 210.5 374.4 208.5 375.3 206.3 376.3 203.9 377.3 201.3 378.3 198.6 379.3 195.8 379.3 197 378.3 199.8 377.3 202.6 376.3 205.4 375.3 208 374.4 210.5 373.4 212.7 372.4 214.7 371.4 216.4 370.4 217.7 369.4 218.7 368.4 219.3 367.4 219.5 366.4 219.3 365.5 218.7 364.5 217.7 363.5 216.4 362.5 214.7 361.5 212.7 360.5 210.5 359.5 208 358.5 205.4 357.6 202.6 356.6 199.8 355.6 197Z M379.3 219.3 380.3 216.7 381.3 214.1 382.3 211.6 383.3 209.2 384.2 206.9 385.2 204.8 386.2 202.9 387.2 201.4 388.2 200.1 389.2 199.2 390.2 198.6 391.2 198.4 392.2 198.6 393.1 199.2 394.1 200.1 395.1 201.4 396.1 202.9 397.1 204.8 398.1 206.9 399.1 209.2 400.1 211.6 401.1 214.1 402 216.7 403 219.3 403 220.5 402 217.9 401.1 215.5 400.1 213.1 399.1 211 398.1 209 397.1 207.2 396.1 205.6 395.1 204.4 394.1 203.3 393.1 202.6 392.2 202.2 391.2 202 390.2 202.2 389.2 202.6 388.2 203.3 387.2 204.4 386.2 205.6 385.2 207.2 384.2 209 383.3 211 382.3 213.1 381.3 215.5 380.3 217.9 379.3 220.5Z M403 195.8 404 198.6 405 201.3 406 203.9 407 206.3 408 208.5 409 210.5 410 212.2 410.9 213.6 411.9 214.7 412.9 215.6 413.9 216.1 414.9 216.2 415.9 216.1 416.9 215.6 417.9 214.7 418.9 213.6 419.8 212.2 420.8 210.5 421.8 208.5 422.8 206.3 423.8 203.9 424.8 201.3 425.8 198.6 426.8 195.8 426.8 197 425.8 199.8 424.8 202.6 423.8 205.4 422.8 208 421.8 210.5 420.8 212.7 419.8 214.7 418.9 216.4 417.9 217.7 416.9 218.7 415.9 219.3 414.9 219.5 413.9 219.3 412.9 218.7 411.9 217.7 410.9 216.4 410 214.7 409 212.7 408 210.5 407 208 406 205.4 405 202.6 404 199.8 403 197Z M426.8 219.3 427.8 216.7 428.7 214.1 429.7 211.6 430.7 209.2 431.7 206.9 432.7 204.8 433.7 202.9 434.7 201.4 435.7 200.1 436.7 199.2 437.6 198.6 438.6 198.4 439.6 198.6 440.6 199.2 441.6 200.1 442.6 201.4 443.6 202.9 444.6 204.8 445.5 206.9 446.5 209.2 447.5 211.6 448.5 214.1 449.5 216.7 450.5 219.3 450.5 220.5 449.5 217.9 448.5 215.5 447.5 213.1 446.5 211 445.5 209 444.6 207.2 443.6 205.6 442.6 204.4 441.6 203.3 440.6 202.6 439.6 202.2 438.6 202 437.6 202.2 436.7 202.6 435.7 203.3 434.7 204.4 433.7 205.6 432.7 207.2 431.7 209 430.7 211 429.7 213.1 428.7 215.5 427.8 217.9 426.8 220.5Z M450.5 195.8 451.5 198.6 452.5 201.3 453.5 203.9 454.4 206.3 455.4 208.5 456.4 210.5 457.4 212.2 458.4 213.6 459.4 214.7 460.4 215.6 461.4 216.1 462.4 216.2 463.3 216.1 464.3 215.6 465.3 214.7 466.3 213.6 467.3 212.2 468.3 210.5 469.3 208.5 470.3 206.3 471.3 203.9 472.2 201.3 473.2 198.6 474.2 195.8 474.2 197 473.2 199.8 472.2 202.6 471.3 205.4 470.3 208 469.3 210.5 468.3 212.7 467.3 214.7 466.3 216.4 465.3 217.7 464.3 218.7 463.3 219.3 462.4 219.5 461.4 219.3 460.4 218.7 459.4 217.7 458.4 216.4 457.4 214.7 456.4 212.7 455.4 210.5 454.4 208 453.5 205.4 452.5 202.6 451.5 199.8 450.5 197Z M474.2 219.3 475.2 216.7 476.2 214.1 477.2 211.6 478.2 209.2 479.2 206.9 480.2 204.8 481.1 202.9 482.1 201.4 483.1 200.1 484.1 199.2 485.1 198.6 486.1 198.4 487.1 198.6 488.1 199.2 489.1 200.1 490 201.4 491 202.9 492 204.8 493 206.9 494 209.2 495 211.6 496 214.1 497 216.7 498 219.3 498 220.5 497 217.9 496 215.5 495 213.1 494 211 493 209 492 207.2 491 205.6 490 204.4 489.1 203.3 488.1 202.6 487.1 202.2 486.1 202 485.1 202.2 484.1 202.6 483.1 203.3 482.1 204.4 481.1 205.6 480.2 207.2 479.2 209 478.2 211 477.2 213.1 476.2 215.5 475.2 217.9 474.2 220.5Z M498 195.8 499 198.7 500 201.5 501 204.2 502.1 206.7 503.1 208.9 504.1 210.9 505.2 212.6 506.2 214 507.2 215.1 508.3 215.8 509.3 216.2 510.3 216.2 511.4 215.8 512.4 215.1 513.4 214 514.5 212.6 515.5 210.9 516.5 208.9 517.6 206.7 518.6 204.2 519.6 201.5 520.7 198.7 521.7 195.8 521.7 197 520.7 199.9 519.6 202.9 518.6 205.7 517.6 208.4 516.5 211 515.5 213.2 514.5 215.2 513.4 216.9 512.4 218.2 511.4 219 510.3 219.5 509.3 219.5 508.3 219 507.2 218.2 506.2 216.9 505.2 215.2 504.1 213.2 503.1 211 502.1 208.4 501 205.7 500 202.9 499 199.9 498 197Z M521.7 219.3 522.7 216.7 523.7 214.1 524.6 211.6 525.6 209.2 526.6 206.9 527.6 204.8 528.6 202.9 529.6 201.4 530.6 200.1 531.6 199.2 532.6 198.6 533.5 198.4 534.5 198.6 535.5 199.2 536.5 200.1 537.5 201.4 538.5 202.9 539.5 204.8 540.5 206.9 541.5 209.2 542.4 211.6 543.4 214.1 544.4 216.7 545.4 219.3 545.4 220.5 544.4 217.9 543.4 215.5 542.4 213.1 541.5 211 540.5 209 539.5 207.2 538.5 205.6 537.5 204.4 536.5 203.3 535.5 202.6 534.5 202.2 533.5 202 532.6 202.2 531.6 202.6 530.6 203.3 529.6 204.4 528.6 205.6 527.6 207.2 526.6 209 525.6 211 524.6 213.1 523.7 215.5 522.7 217.9 521.7 220.5Z M545.4 195.8 546 197.5 546.6 199.1 546.6 200.4 546 198.7 545.4 197Z" fill="#ff00ff"/>
<path d="M309.3 199.7 310.3 202.6 311.3 205.3 312.4 207.9 313.4 210.2 314.4 212.3 315.4 214.1 316.5 215.6 317.5 216.7 318.5 217.5 319.5 217.8 320.6 217.8 321.6 217.4 322.6 216.6 323.6 215.4 324.7 213.9 325.7 212 326.7 209.9 327.7 207.5 328.8 204.9 329.8 202.1 330.8 199.3 331.8 196.4 M331.8 219.9 332.8 217.3 333.8 214.8 334.8 212.4 335.8 210.1 336.8 207.9 337.8 206 338.8 204.3 339.8 202.9 340.7 201.7 341.7 200.9 342.7 200.4 343.7 200.2 344.7 200.4 345.7 200.9 346.7 201.7 347.7 202.9 348.7 204.3 349.6 206 350.6 207.9 351.6 210.1 352.6 212.4 353.6 214.8 354.6 217.3 355.6 219.9 M355.6 196.4 356.6 199.2 357.6 201.9 358.5 204.6 359.5 207.1 360.5 209.5 361.5 211.6 362.5 213.4 363.5 215 364.5 216.2 365.5 217.1 366.4 217.7 367.4 217.9 368.4 217.7 369.4 217.1 370.4 216.2 371.4 215 372.4 213.4 373.4 211.6 374.4 209.5 375.3 207.1 376.3 204.6 377.3 201.9 378.3 199.2 379.3 196.4 M379.3 219.9 380.3 217.3 381.3 214.8 382.3 212.4 383.3 210.1 384.2 207.9 385.2 206 386.2 204.3 387.2 202.9 388.2 201.7 389.2 200.9 390.2 200.4 391.2 200.2 392.2 200.4 393.1 200.9 394.1 201.7 395.1 202.9 396.1 204.3 397.1 206 398.1 207.9 399.1 210.1 400.1 212.4 401.1 214.8 402 217.3 403 219.9 M403 196.4 404 199.2 405 201.9 406 204.6 407 207.1 408 209.5 409 211.6 410 213.4 410.9 215 411.9 216.2 412.9 217.1 413.9 217.7 414.9 217.9 415.9 217.7 416.9 217.1 417.9 216.2 418.9 215 419.8 213.4 420.8 211.6 421.8 209.5 422.8 207.1 423.8 204.6 424.8 201.9 425.8 199.2 426.8 196.4 M426.8 219.9 427.8 217.3 428.7 214.8 429.7 212.4 430.7 210.1 431.7 207.9 432.7 206 433.7 204.3 434.7 202.9 435.7 201.7 436.7 200.9 437.6 200.4 438.6 200.2 439.6 200.4 440.6 200.9 441.6 201.7 442.6 202.9 443.6 204.3 444.6 206 445.5 207.9 446.5 210.1 447.5 212.4 448.5 214.8 449.5 217.3 450.5 219.9 M450.5 196.4 451.5 199.2 452.5 201.9 453.5 204.6 454.4 207.1 455.4 209.5 456.4 211.6 457.4 213.4 458.4 215 459.4 216.2 460.4 217.1 461.4 217.7 462.4 217.9 463.3 217.7 464.3 217.1 465.3 216.2 466.3 215 467.3 213.4 468.3 211.6 469.3 209.5 470.3 207.1 471.3 204.6 472.2 201.9 473.2 199.2 474.2 196.4 M474.2 219.9 475.2 217.3 476.2 214.8 477.2 212.4 478.2 210.1 479.2 207.9 480.2 206 481.1 204.3 482.1 202.9 483.1 201.7 484.1 200.9 485.1 200.4 486.1 200.2 487.1 200.4 488.1 200.9 489.1 201.7 490 202.9 491 204.3 492 206 493 207.9 494 210.1 495 212.4 496 214.8 497 217.3 498 219.9 M498 196.4 499 199.3 500 202.2 501 204.9 502.1 207.5 503.1 209.9 504.1 212.1 505.2 213.9 506.2 215.5 507.2 216.6 508.3 217.4 509.3 217.8 510.3 217.8 511.4 217.4 512.4 216.6 513.4 215.5 514.5 213.9 515.5 212.1 516.5 209.9 517.6 207.5 518.6 204.9 519.6 202.2 520.7 199.3 521.7 196.4 M521.7 219.9 522.7 217.3 523.7 214.8 524.6 212.4 525.6 210.1 526.6 207.9 527.6 206 528.6 204.3 529.6 202.9 530.6 201.7 531.6 200.9 532.6 200.4 533.5 200.2 534.5 200.4 535.5 200.9 536.5 201.7 537.5 202.9 538.5 204.3 539.5 206 540.5 207.9 541.5 210.1 542.4 212.4 543.4 214.8 544.4 217.3 545.4 219.9 M545.4 196.4 546 198.1 546.6 199.7" fill="none" stroke="#ff00ff" stroke-width="1.7"/>
<path d="M309.3 248.1 310.3 245.4 311.3 242.8 312.3 240.3 313.3 238 314.2 235.8 315.2 233.9 316.2 232.4 317.2 231.1 318.2 230.2 319.2 229.7 320.2 229.6 321.2 229.8 322.2 230.5 323.1 231.6 324.1 233 325.1 234.7 326.1 236.7 327.1 238.9 328.1 241.3 329.1 243.8 330.1 246.5 331.1 249.1 332 251.8 333 254.4 334 256.9 335 259.2 336 261.4 337 263.4 338 265.1 339 266.6 340 267.9 340.9 268.8 341.9 269.5 342.9 269.9 343.9 270 344.9 269.8 345.9 269.3 346.9 268.5 347.9 267.4 348.9 266.1 349.8 264.5 350.8 262.6 351.8 260.6 352.8 258.3 353.8 255.9 354.8 253.4 355.8 250.7 356.8 248.1 357.7 245.4 358.7 242.8 359.7 240.3 360.7 238 361.7 235.8 362.7 233.9 363.7 232.4 364.7 231.1 365.7 230.2 366.6 229.7 367.6 229.6 368.6 229.8 369.6 230.5 370.6 231.6 371.6 233 372.6 234.7 373.6 236.7 374.6 238.9 375.5 241.3 376.5 243.8 377.5 246.5 378.5 249.1 379.5 251.8 380.5 254.4 381.5 256.9 382.5 259.2 383.5 261.4 384.4 263.4 385.4 265.1 386.4 266.6 387.4 267.9 388.4 268.8 389.4 269.5 390.4 269.9 391.4 270 392.4 269.8 393.3 269.3 394.3 268.5 395.3 267.4 396.3 266.1 397.3 264.5 398.3 262.6 399.3 260.6 400.3 258.3 401.3 255.9 402.2 253.4 403.2 250.7 404.2 248.1 405.2 245.4 406.2 242.8 407.2 240.3 408.2 238 409.2 235.8 410.2 233.9 411.1 232.4 412.1 231.1 413.1 230.2 414.1 229.7 415.1 229.6 416.1 229.8 417.1 230.5 418.1 231.6 419.1 233 420 234.7 421 236.7 422 238.9 423 241.3 424 243.8 425 246.5 426 249.1 427 251.8 428 254.4 428.9 256.9 429.9 259.2 430.9 261.4 431.9 263.4 432.9 265.1 433.9 266.6 434.9 267.9 435.9 268.8 436.8 269.5 437.8 269.9 438.8 270 439.8 269.8 440.8 269.3 441.8 268.5 442.8 267.4 443.8 266.1 444.8 264.5 445.7 262.6 446.7 260.6 447.7 258.3 448.7 255.9 449.7 253.4 450.7 250.7 451.7 248.1 452.7 245.4 453.7 242.8 454.6 240.3 455.6 238 456.6 235.8 457.6 233.9 458.6 232.4 459.6 231.1 460.6 230.2 461.6 229.7 462.6 229.6 463.5 229.8 464.5 230.5 465.5 231.6 466.5 233 467.5 234.7 468.5 236.7 469.5 238.9 470.5 241.3 471.5 243.8 472.4 246.5 473.4 249.1 474.4 251.8 475.4 254.4 476.4 256.9 477.4 259.2 478.4 261.4 479.4 263.4 480.4 265.1 481.3 266.6 482.3 267.9 483.3 268.8 484.3 269.5 485.3 269.9 486.3 270 487.3 269.8 488.3 269.3 489.3 268.5 490.2 267.4 491.2 266.1 492.2 264.5 493.2 262.6 494.2 260.6 495.2 258.3 496.2 255.9 497.2 253.4 498.2 250.7 499.1 248.1 500.1 245.4 501.1 242.8 502.1 240.3 503.1 238 504.1 235.8 505.1 233.9 506.1 232.4 507.1 231.1 508 230.2 509 229.7 510 229.6 511 229.8 512 230.5 513 231.6 514 233 515 234.7 515.9 236.7 516.9 238.9 517.9 241.3 518.9 243.8 519.9 246.5 520.9 249.1 521.9 251.8 522.9 254.4 523.9 256.9 524.8 259.2 525.8 261.4 526.8 263.4 527.8 265.1 528.8 266.6 529.8 267.9 530.8 268.8 531.8 269.5 532.8 269.9 533.7 270 534.7 269.8 535.7 269.3 536.7 268.5 537.7 267.4 538.7 266.1 539.7 264.5 540.7 262.6 541.7 260.6 542.6 258.3 543.6 255.9 544.6 253.4 545.6 250.7 546.6 248.1 546.6 249.3 545.6 251.9 544.6 254.6 543.6 257.3 542.6 259.9 541.7 262.5 540.7 264.9 539.7 267.1 538.7 269.1 537.7 270.8 536.7 272.2 535.7 273.2 534.7 273.9 533.7 274.2 532.8 274.1 531.8 273.5 530.8 272.6 529.8 271.4 528.8 269.8 527.8 267.9 526.8 265.8 525.8 263.4 524.8 260.9 523.9 258.3 522.9 255.7 521.9 253 520.9 250.4 519.9 247.8 518.9 245.4 517.9 243.2 516.9 241.1 515.9 239.3 515 237.7 514 236.3 513 235.3 512 234.5 511 234 510 233.8 509 233.9 508 234.2 507.1 234.9 506.1 235.9 505.1 237.1 504.1 238.6 503.1 240.3 502.1 242.3 501.1 244.5 500.1 246.9 499.1 249.3 498.2 251.9 497.2 254.6 496.2 257.3 495.2 259.9 494.2 262.5 493.2 264.9 492.2 267.1 491.2 269.1 490.2 270.8 489.3 272.2 488.3 273.2 487.3 273.9 486.3 274.2 485.3 274.1 484.3 273.5 483.3 272.6 482.3 271.4 481.3 269.8 480.4 267.9 479.4 265.8 478.4 263.4 477.4 260.9 476.4 258.3 475.4 255.7 474.4 253 473.4 250.4 472.4 247.8 471.5 245.4 470.5 243.2 469.5 241.1 468.5 239.3 467.5 237.7 466.5 236.3 465.5 235.3 464.5 234.5 463.5 234 462.6 233.8 461.6 233.9 460.6 234.2 459.6 234.9 458.6 235.9 457.6 237.1 456.6 238.6 455.6 240.3 454.6 242.3 453.7 244.5 452.7 246.9 451.7 249.3 450.7 251.9 449.7 254.6 448.7 257.3 447.7 259.9 446.7 262.5 445.7 264.9 444.8 267.1 443.8 269.1 442.8 270.8 441.8 272.2 440.8 273.2 439.8 273.9 438.8 274.2 437.8 274.1 436.8 273.5 435.9 272.6 434.9 271.4 433.9 269.8 432.9 267.9 431.9 265.8 430.9 263.4 429.9 260.9 428.9 258.3 428 255.7 427 253 426 250.4 425 247.8 424 245.4 423 243.2 422 241.1 421 239.3 420 237.7 419.1 236.3 418.1 235.3 417.1 234.5 416.1 234 415.1 233.8 414.1 233.9 413.1 234.2 412.1 234.9 411.1 235.9 410.2 237.1 409.2 238.6 408.2 240.3 407.2 242.3 406.2 244.5 405.2 246.9 404.2 249.3 403.2 251.9 402.2 254.6 401.3 257.3 400.3 259.9 399.3 262.5 398.3 264.9 397.3 267.1 396.3 269.1 395.3 270.8 394.3 272.2 393.3 273.2 392.4 273.9 391.4 274.2 390.4 274.1 389.4 273.5 388.4 272.6 387.4 271.4 386.4 269.8 385.4 267.9 384.4 265.8 383.5 263.4 382.5 260.9 381.5 258.3 380.5 255.7 379.5 253 378.5 250.4 377.5 247.8 376.5 245.4 375.5 243.2 374.6 241.1 373.6 239.3 372.6 237.7 371.6 236.3 370.6 235.3 369.6 234.5 368.6 234 367.6 233.8 366.6 233.9 365.7 234.2 364.7 234.9 363.7 235.9 362.7 237.1 361.7 238.6 360.7 240.3 359.7 242.3 358.7 244.5 357.7 246.9 356.8 249.3 355.8 251.9 354.8 254.6 353.8 257.3 352.8 259.9 351.8 262.5 350.8 264.9 349.8 267.1 348.9 269.1 347.9 270.8 346.9 272.2 345.9 273.2 344.9 273.9 343.9 274.2 342.9 274.1 341.9 273.5 340.9 272.6 340 271.4 339 269.8 338 267.9 337 265.8 336 263.4 335 260.9 334 258.3 333 255.7 332 253 331.1 250.4 330.1 247.8 329.1 245.4 328.1 243.2 327.1 241.1 326.1 239.3 325.1 237.7 324.1 236.3 323.1 235.3 322.2 234.5 321.2 234 320.2 233.8 319.2 233.9 318.2 234.2 317.2 234.9 316.2 235.9 315.2 237.1 314.2 238.6 313.3 240.3 312.3 242.3 311.3 244.5 310.3 246.9 309.3 249.3Z" fill="#00eef0"/>
<path d="M309.3 248.7 310.8 244.9 312.3 241.3 313.7 238.2 315.2 235.5 316.7 233.5 318.2 232.2 319.7 231.7 321.2 231.9 322.6 232.9 324.1 234.6 325.6 237 327.1 240 328.6 243.4 330.1 247.2 331.5 251.1 333 255 334.5 258.9 336 262.4 337.5 265.6 339 268.2 340.4 270.2 341.9 271.5 343.4 272.1 344.9 271.8 346.4 270.8 347.9 269.1 349.3 266.7 350.8 263.7 352.3 260.3 353.8 256.6 355.3 252.7 356.8 248.7 358.2 244.9 359.7 241.3 361.2 238.2 362.7 235.5 364.2 233.5 365.7 232.2 367.1 231.7 368.6 231.9 370.1 232.9 371.6 234.6 373.1 237 374.6 240 376 243.4 377.5 247.2 379 251.1 380.5 255 382 258.9 383.5 262.4 384.9 265.6 386.4 268.2 387.9 270.2 389.4 271.5 390.9 272.1 392.4 271.8 393.8 270.8 395.3 269.1 396.8 266.7 398.3 263.7 399.8 260.3 401.3 256.6 402.7 252.7 404.2 248.7 405.7 244.9 407.2 241.3 408.7 238.2 410.2 235.5 411.6 233.5 413.1 232.2 414.6 231.7 416.1 231.9 417.6 232.9 419.1 234.6 420.5 237 422 240 423.5 243.4 425 247.2 426.5 251.1 428 255 429.4 258.9 430.9 262.4 432.4 265.6 433.9 268.2 435.4 270.2 436.8 271.5 438.3 272.1 439.8 271.8 441.3 270.8 442.8 269.1 444.3 266.7 445.7 263.7 447.2 260.3 448.7 256.6 450.2 252.7 451.7 248.7 453.2 244.9 454.6 241.3 456.1 238.2 457.6 235.5 459.1 233.5 460.6 232.2 462.1 231.7 463.5 231.9 465 232.9 466.5 234.6 468 237 469.5 240 471 243.4 472.4 247.2 473.9 251.1 475.4 255 476.9 258.9 478.4 262.4 479.9 265.6 481.3 268.2 482.8 270.2 484.3 271.5 485.8 272.1 487.3 271.8 488.8 270.8 490.2 269.1 491.7 266.7 493.2 263.7 494.7 260.3 496.2 256.6 497.7 252.7 499.1 248.7 500.6 244.9 502.1 241.3 503.6 238.2 505.1 235.5 506.6 233.5 508 232.2 509.5 231.7 511 231.9 512.5 232.9 514 234.6 515.5 237 516.9 240 518.4 243.4 519.9 247.2 521.4 251.1 522.9 255 524.4 258.9 525.8 262.4 527.3 265.6 528.8 268.2 530.3 270.2 531.8 271.5 533.3 272.1 534.7 271.8 536.2 270.8 537.7 269.1 539.2 266.7 540.7 263.7 542.2 260.3 543.6 256.6 545.1 252.7 546.6 248.7" fill="none" stroke="#00eef0" stroke-width="1.9"/>
<path d="M309.3 277.4 310.1 277.3 310.9 276.6 311.7 277.2 312.5 276.8 313.3 276.3 314 275.7 314.8 275.6 315.6 276.1 316.4 276.1 317.2 275.6 318 276.1 318.8 276.4 319.6 276.4 320.4 276.5 321.2 276.7 322 277.5 322.7 277.4 323.5 278.1 324.3 278.3 325.1 278.2 325.9 278.5 326.7 278.2 327.5 278.9 328.3 278.2 329.1 278.4 329.9 278.5 330.7 278.9 331.4 278.1 332.2 278.1 333 277.5 333.8 277.2 334.6 277.5 335.4 276.3 336.2 276.8 337 276 337.8 275.7 338.6 275.4 339.4 276.2 340.1 276 340.9 275.3 341.7 276.4 342.5 276 343.3 276.4 344.1 276.3 344.9 276.7 345.7 276.9 346.5 277.2 347.3 277.2 348.1 278.2 348.9 278 349.6 278.9 350.4 278.2 351.2 278.2 352 278.8 352.8 278.2 353.6 278.3 354.4 278 355.2 278.4 356 278.4 356.8 277.4 357.6 276.9 358.3 276.8 359.1 277.1 359.9 276 360.7 276 361.5 275.8 362.3 275.5 363.1 276.2 363.9 276.3 364.7 276.2 365.5 276.2 366.3 276 367 276 367.8 276.9 368.6 276.6 369.4 277.4 370.2 277.7 371 277.8 371.8 277.7 372.6 278.6 373.4 278.8 374.2 278.7 375 279 375.7 279.1 376.5 278.2 377.3 278.7 378.1 278.6 378.9 277.9 379.7 278.4 380.5 278 381.3 277.7 382.1 277.4 382.9 277.1 383.7 276.7 384.4 276.6 385.2 276 386 275.4 386.8 275.9 387.6 276.1 388.4 275.4 389.2 276.2 390 275.6 390.8 276.6 391.6 276.5 392.4 277.1 393.1 276.8 393.9 277.8 394.7 277.3 395.5 278.3 396.3 278.1 397.1 278.7 397.9 278.9 398.7 278.4 399.5 278.6 400.3 278.3 401.1 278.2 401.8 278.4 402.6 278.2 403.4 278.1 404.2 277.5 405 277.3 405.8 277 406.6 276.5 407.4 276.3 408.2 276.7 409 276.2 409.8 275.7 410.5 275.8 411.3 275.6 412.1 276.1 412.9 275.8 413.7 276.3 414.5 276.4 415.3 276.1 416.1 277.1 416.9 277.5 417.7 277.4 418.5 277.8 419.2 277.8 420 277.9 420.8 278.2 421.6 278.1 422.4 279.1 423.2 279 424 279.1 424.8 278.6 425.6 278.5 426.4 278.4 427.2 277.5 428 277.8 428.7 277.5 429.5 276.9 430.3 276.7 431.1 276.9 431.9 276.1 432.7 275.9 433.5 276.4 434.3 275.7 435.1 276.1 435.9 275.7 436.7 275.6 437.4 276.2 438.2 276.1 439 276.6 439.8 276.3 440.6 277.5 441.4 277.5 442.2 277.2 443 277.7 443.8 278.6 444.6 278 445.4 278.3 446.1 278.3 446.9 278.8 447.7 279.1 448.5 278.6 449.3 278 450.1 278 450.9 277.5 451.7 277.4 452.5 277.6 453.3 277.2 454.1 277.1 454.8 276.5 455.6 276.5 456.4 276 457.2 276.2 458 275.4 458.8 276.1 459.6 275.7 460.4 276.3 461.2 275.9 462 275.8 462.8 276 463.5 276.4 464.3 277.4 465.1 277.1 465.9 277.6 466.7 277.6 467.5 278.7 468.3 278.8 469.1 278.4 469.9 279 470.7 278.3 471.5 279 472.2 278.7 473 278.5 473.8 278.3 474.6 278.3 475.4 277.5 476.2 277.5 477 277.4 477.8 277.2 478.6 276.6 479.4 276.3 480.2 276.5 480.9 275.5 481.7 275.8 482.5 275.9 483.3 275.5 484.1 276.2 484.9 276.2 485.7 276.7 486.5 276.5 487.3 277.1 488.1 277.2 488.9 277.6 489.6 277.6 490.4 277.8 491.2 278.4 492 278.2 492.8 278.6 493.6 278.5 494.4 278.9 495.2 278.4 496 278.8 496.8 278.3 497.6 277.7 498.3 278.4 499.1 277.9 499.9 277.5 500.7 276.9 501.5 276.5 502.3 276 503.1 276 503.9 275.7 504.7 275.5 505.5 275.5 506.3 275.5 507.1 276 507.8 275.9 508.6 275.9 509.4 276.7 510.2 276.2 511 276.4 511.8 276.9 512.6 277.5 513.4 277.2 514.2 277.6 515 277.7 515.8 278.1 516.5 278.1 517.3 278.4 518.1 278.8 518.9 279.1 519.7 278.2 520.5 278.8 521.3 278.7 522.1 278.3 522.9 277.8 523.7 277 524.5 276.7 525.2 276.8 526 276.4 526.8 276.6 527.6 275.6 528.4 275.6 529.2 275.9 530 275.9 530.8 275.7 531.6 276.3 532.4 275.9 533.2 276 533.9 276.2 534.7 277 535.5 277.1 536.3 277.2 537.1 277.5 537.9 277.8 538.7 278 539.5 278 540.3 278.8 541.1 278.5 541.9 278.4 542.6 279 543.4 279 544.2 278.1 545 278.3 545.8 278.2 546.6 277.6 546.6 288.3 545.8 287.2 545 287.6 544.2 287.4 543.4 287.1 542.6 287 541.9 287.1 541.1 286.6 540.3 287.3 539.5 286.8 538.7 287.4 537.9 287.7 537.1 287.6 536.3 288.5 535.5 288.1 534.7 289.3 533.9 289.5 533.2 288.9 532.4 290.1 531.6 289.4 530.8 290.1 530 289.7 529.2 289.5 528.4 289.5 527.6 289.3 526.8 289.7 526 289.4 525.2 288.9 524.5 288.6 523.7 288 522.9 288.3 522.1 287.9 521.3 287 520.5 287.5 519.7 287.6 518.9 286.7 518.1 286.9 517.3 287.5 516.5 286.9 515.8 287 515 287.7 514.2 287.9 513.4 288.3 512.6 288.7 511.8 288.7 511 289.4 510.2 289.5 509.4 289.1 508.6 289.6 507.8 289.4 507.1 290.2 506.3 290.3 505.5 289.4 504.7 290.2 503.9 289.9 503.1 289.8 502.3 288.9 501.5 288.9 500.7 288.7 499.9 288.6 499.1 287.9 498.3 287.5 497.6 287.9 496.8 286.9 496 287.3 495.2 287.2 494.4 287.4 493.6 287.5 492.8 286.7 492 287.2 491.2 287.8 490.4 288.1 489.6 287.6 488.9 287.8 488.1 288.1 487.3 289 486.5 288.7 485.7 289.7 484.9 289.2 484.1 290.2 483.3 289.4 482.5 289.6 481.7 289.9 480.9 290 480.2 289.5 479.4 289.4 478.6 289.4 477.8 289.3 477 289 476.2 288.1 475.4 288.4 474.6 287.9 473.8 287.2 473 286.8 472.2 287.5 471.5 286.8 470.7 287.1 469.9 287.1 469.1 287.5 468.3 287.7 467.5 287.7 466.7 288 465.9 288.2 465.1 288.3 464.3 288.9 463.5 288.5 462.8 289.6 462 289.8 461.2 289.5 460.4 289.6 459.6 290 458.8 289.6 458 289.5 457.2 289.7 456.4 289.3 455.6 289.5 454.8 289.4 454.1 289.1 453.3 289 452.5 288.5 451.7 288.4 450.9 288.2 450.1 287.1 449.3 286.8 448.5 286.8 447.7 286.8 446.9 287 446.1 287.3 445.4 287.6 444.6 287 443.8 287.7 443 288.1 442.2 287.7 441.4 288.1 440.6 289 439.8 289.4 439 288.8 438.2 289.9 437.4 289.7 436.7 289.8 435.9 289.4 435.1 289.7 434.3 289.7 433.5 290.2 432.7 289.7 431.9 289.1 431.1 289.4 430.3 289 429.5 289 428.7 288.6 428 288.2 427.2 287.9 426.4 287.9 425.6 287.7 424.8 287.1 424 286.7 423.2 287.3 422.4 287.4 421.6 286.6 420.8 287.1 420 287.6 419.2 288.2 418.5 287.6 417.7 288.1 416.9 288.5 416.1 288.6 415.3 288.8 414.5 289 413.7 289.5 412.9 289.4 412.1 290 411.3 290.2 410.5 290.3 409.8 290.2 409 289.7 408.2 289.5 407.4 289.4 406.6 289.2 405.8 288.2 405 288.5 404.2 288 403.4 287.2 402.6 287.9 401.8 287.1 401.1 286.8 400.3 287.4 399.5 287.3 398.7 287.4 397.9 286.8 397.1 286.8 396.3 287.8 395.5 287.7 394.7 288.1 393.9 287.9 393.1 288.6 392.4 288.7 391.6 289 390.8 289 390 289.9 389.2 289.8 388.4 289.7 387.6 290 386.8 289.8 386 289.3 385.2 289.6 384.4 289.7 383.7 289 382.9 288.6 382.1 288.6 381.3 288.6 380.5 287.6 379.7 287.2 378.9 287 378.1 287.7 377.3 287.2 376.5 286.7 375.7 287.2 375 286.7 374.2 286.7 373.4 287.7 372.6 287 371.8 288.1 371 288.2 370.2 288.3 369.4 288.7 368.6 289 367.8 289.6 367 289.8 366.3 289.2 365.5 290 364.7 290 363.9 289.8 363.1 289.9 362.3 289.3 361.5 290 360.7 289.1 359.9 288.9 359.1 288.9 358.3 289 357.6 288.2 356.8 287.9 356 287.7 355.2 287.4 354.4 287.3 353.6 287.6 352.8 287 352 286.6 351.2 286.7 350.4 286.7 349.6 287.2 348.9 287.1 348.1 287.6 347.3 287.7 346.5 287.8 345.7 289 344.9 288.5 344.1 288.8 343.3 289.7 342.5 290 341.7 290 340.9 289.6 340.1 290.3 339.4 290.3 338.6 290 337.8 289.6 337 289.2 336.2 289.3 335.4 288.6 334.6 288.2 333.8 288.3 333 288.2 332.2 287.5 331.4 287.2 330.7 287 329.9 287 329.1 287.1 328.3 287.1 327.5 286.6 326.7 286.9 325.9 287.2 325.1 287.4 324.3 288.1 323.5 288.1 322.7 288.1 322 289 321.2 288.5 320.4 288.8 319.6 289.6 318.8 289.2 318 290.1 317.2 290 316.4 289.6 315.6 290.2 314.8 290.2 314 289.2 313.3 289.2 312.5 288.9 311.7 289.2 310.9 288.5 310.1 287.9 309.3 287.6Z" fill="#10f010"/>
<path d="M331.8 268.2V289.9 M355.6 275.7V295.9 M379.3 268.2V289.9 M403 275.7V295.9 M426.8 268.2V289.9 M450.5 275.7V295.9 M474.2 268.2V289.9 M498 275.7V295.9 M521.7 268.2V289.9 M545.4 275.7V295.9" stroke="#48ee48" stroke-width="0.9"/>
<line x1="428" y1="187.4" x2="428" y2="315.7" stroke="#8a8a8a" stroke-width="0.85"/>
<line x1="309.3" y1="251.6" x2="546.6" y2="251.6" stroke="#8a8a8a" stroke-width="0.85"/>
<path d="M314 250.8v1.6 M318.8 250.8v1.6 M323.5 250.8v1.6 M328.3 250.8v1.6 M333 250.8v1.6 M337.8 250.8v1.6 M342.5 250.8v1.6 M347.3 250.8v1.6 M352 250.8v1.6 M356.8 250.8v1.6 M361.5 250.8v1.6 M366.3 250.8v1.6 M371 250.8v1.6 M375.7 250.8v1.6 M380.5 250.8v1.6 M385.2 250.8v1.6 M390 250.8v1.6 M394.7 250.8v1.6 M399.5 250.8v1.6 M404.2 250.8v1.6 M409 250.8v1.6 M413.7 250.8v1.6 M418.5 250.8v1.6 M423.2 250.8v1.6 M428 250.8v1.6 M432.7 250.8v1.6 M437.4 250.8v1.6 M442.2 250.8v1.6 M446.9 250.8v1.6 M451.7 250.8v1.6 M456.4 250.8v1.6 M461.2 250.8v1.6 M465.9 250.8v1.6 M470.7 250.8v1.6 M475.4 250.8v1.6 M480.2 250.8v1.6 M484.9 250.8v1.6 M489.6 250.8v1.6 M494.4 250.8v1.6 M499.1 250.8v1.6 M503.9 250.8v1.6 M508.6 250.8v1.6 M513.4 250.8v1.6 M518.1 250.8v1.6 M522.9 250.8v1.6 M527.6 250.8v1.6 M532.4 250.8v1.6 M537.1 250.8v1.6 M541.9 250.8v1.6 M427.2 190.6h1.6 M427.2 193.8h1.6 M427.2 197h1.6 M427.2 200.2h1.6 M427.2 203.4h1.6 M427.2 206.6h1.6 M427.2 209.9h1.6 M427.2 213.1h1.6 M427.2 216.3h1.6 M427.2 219.5h1.6 M427.2 222.7h1.6 M427.2 225.9h1.6 M427.2 229.1h1.6 M427.2 232.3h1.6 M427.2 235.5h1.6 M427.2 238.7h1.6 M427.2 241.9h1.6 M427.2 245.1h1.6 M427.2 248.3h1.6 M427.2 251.6h1.6 M427.2 254.8h1.6 M427.2 258h1.6 M427.2 261.2h1.6 M427.2 264.4h1.6 M427.2 267.6h1.6 M427.2 270.8h1.6 M427.2 274h1.6 M427.2 277.2h1.6 M427.2 280.4h1.6 M427.2 283.6h1.6 M427.2 286.8h1.6 M427.2 290h1.6 M427.2 293.2h1.6 M427.2 296.5h1.6 M427.2 299.7h1.6 M427.2 302.9h1.6 M427.2 306.1h1.6 M427.2 309.3h1.6 M427.2 312.5h1.6" stroke="#555" stroke-width="0.7"/>
<path d="M302.4 217.4H307L308.7 220L307 222.6H302.4Z" fill="#a08cc8"/><text x="305.1" y="221.4" font-family="Liberation Sans, sans-serif" font-size="3.8" font-weight="bold" fill="#5a5a6a" text-anchor="middle">1</text>
<path d="M302.4 249.4H307L308.7 251.6L307 253.8H302.4Z" fill="#62c8b4"/><text x="305.1" y="253" font-family="Liberation Sans, sans-serif" font-size="3.8" font-weight="bold" fill="#5a5a6a" text-anchor="middle">2</text>
<path d="M302.4 281.9H307L308.7 284.1L307 286.3H302.4Z" fill="#84c484"/><text x="305.1" y="285.5" font-family="Liberation Sans, sans-serif" font-size="3.8" font-weight="bold" fill="#5a5a6a" text-anchor="middle">4</text>
<g transform="translate(309.3,187.4) scale(0.9507,0.9764)" font-family="Liberation Sans, sans-serif"><text x="-6.9" y="-0.2" font-size="6.6" font-weight="bold" fill="#111" textLength="10" lengthAdjust="spacingAndGlyphs">Tek</text>
<text x="4.6" y="-1.1" font-size="5.2" fill="#777" textLength="11.3" lengthAdjust="spacingAndGlyphs">PreVu</text>
<rect x="33.2" y="-5.1" width="183.3" height="5.1" fill="#fff" stroke="#6a6a6a" stroke-width="0.7"/>
<line x1="70.6" y1="-5.1" x2="70.6" y2="0" stroke="#222" stroke-width="0.9"/>
<line x1="180.1" y1="-5.1" x2="180.1" y2="0" stroke="#222" stroke-width="0.9"/>
<line x1="71" y1="-2.9" x2="179.7" y2="-2.9" stroke="#a8e4a8" stroke-width="1.5"/>
<rect x="123.6" y="-5.4" width="2.6" height="4.8" rx="1" fill="#f5a020"/>
<rect x="122.8" y="2.6" width="4.4" height="4.4" rx="1.3" fill="#f5a020"/>
<rect x="123.6" y="-0.8" width="2.6" height="3.6" fill="#f7b24a"/>
<rect x="0.4" y="114.3" width="105.7" height="12.4" rx="2.2" fill="#fff" stroke="#707070" stroke-width="0.95"/>
<rect x="108.0" y="114.3" width="112.2" height="12.4" rx="2.2" fill="#fff" stroke="#707070" stroke-width="0.95"/>
<rect x="0.4" y="127.9" width="219.8" height="24.1" rx="2.2" fill="#fff" stroke="#707070" stroke-width="0.95"/>
<ellipse cx="5.9" cy="117.8" rx="4.3" ry="2.6" fill="#1010e8"/><text x="5.9" y="119.3" font-size="3.8" font-weight="bold" fill="#e8e8ff" text-anchor="middle">1</text>
<ellipse cx="5.9" cy="123.5" rx="4.3" ry="2.6" fill="#a010a8"/><text x="5.9" y="125" font-size="3.8" font-weight="bold" fill="#e8e8ff" text-anchor="middle">3</text>
<ellipse cx="58.8" cy="117.8" rx="4" ry="2.6" fill="#33dde6"/><text x="58.8" y="119.3" font-size="3.8" font-weight="bold" fill="#e8e8ff" text-anchor="middle">2</text>
<ellipse cx="58.8" cy="123.5" rx="4" ry="2.6" fill="#10a010"/><text x="58.8" y="125" font-size="3.8" font-weight="bold" fill="#e8e8ff" text-anchor="middle">4</text>
<text x="15.6" y="119.9" fill="#5c5cff" font-size="4.8" >250 V</text>
<text x="15.6" y="125.6" fill="#d84cd8" font-size="4.8" >250 V</text>
<text x="68.9" y="119.9" fill="#66e2f0" font-size="4.8" >25.0 A</text>
<text x="89.6" y="119.9" fill="#66e2f0" font-size="3.6" >Ω</text>
<text x="68.9" y="125.6" fill="#48bc48" font-size="4.8" >500mA</text>
<text x="94.2" y="125.6" fill="#48bc48" font-size="4.2" >∿</text>
<text x="109.7" y="119.6" fill="#555" font-size="4.8" >10.0ms</text>
<text x="153.8" y="119.6" fill="#555" font-size="4.8" >50.0MS/s</text>
<ellipse cx="196.1" cy="117.9" rx="4.3" ry="2.6" fill="#1010e8"/><text x="196.1" y="119.4" font-size="3.8" font-weight="bold" fill="#e8e8ff" text-anchor="middle">1</text>
<text x="202.6" y="119.6" fill="#555" font-size="4.8" >/</text>
<rect x="109.7" y="121.0" width="3.0" height="4.2" rx="0.6" fill="#f08c00"/>
<text x="113.4" y="125.2" fill="#f5a33a" font-size="4.9" >▸▾50.96000μs</text>
<text x="153.8" y="125.2" fill="#555" font-size="4.8" >5M points</text>
<text x="193.9" y="125.2" fill="#555" font-size="4.8" >70.0 V</text>
<text x="46.8" y="132.6" fill="#555" font-size="4.8" >Value</text>
<text x="78.5" y="132.6" fill="#555" font-size="4.8" >Mean</text>
<text x="113.6" y="132.6" fill="#555" font-size="4.8" >Min</text>
<text x="148.7" y="132.6" fill="#555" font-size="4.8" >Max</text>
<text x="183.8" y="132.6" fill="#555" font-size="4.8" >Std Dev</text>
<ellipse cx="5.9" cy="136.9" rx="4.3" ry="2.6" fill="#33dde6"/><text x="5.9" y="138.4" font-size="3.8" font-weight="bold" fill="#e8e8ff" text-anchor="middle">2</text>
<text x="11.8" y="138.8" fill="#66e2f0" font-size="4.8" >RMS</text>
<text x="46.8" y="138.8" fill="#66e2f0" font-size="4.8" >22.3 A</text>
<text x="78.5" y="138.8" fill="#66e2f0" font-size="4.8" >------</text>
<text x="113.6" y="138.8" fill="#66e2f0" font-size="4.8" >------</text>
<text x="148.7" y="138.8" fill="#66e2f0" font-size="4.8" >------</text>
<text x="183.8" y="138.8" fill="#66e2f0" font-size="4.8" >------</text>
<ellipse cx="5.9" cy="142.8" rx="4.3" ry="2.6" fill="#1010e8"/><text x="5.9" y="144.3" font-size="3.8" font-weight="bold" fill="#e8e8ff" text-anchor="middle">1</text>
<text x="11.8" y="144.6" fill="#5c5cff" font-size="4.8" >RMS</text>
<text x="46.8" y="144.6" fill="#5c5cff" font-size="4.8" >228 V</text>
<text x="78.5" y="144.6" fill="#5c5cff" font-size="4.8" >228</text>
<text x="113.6" y="144.6" fill="#5c5cff" font-size="4.8" >228</text>
<text x="148.7" y="144.6" fill="#5c5cff" font-size="4.8" >228</text>
<text x="183.8" y="144.6" fill="#5c5cff" font-size="4.8" >0.00</text>
<ellipse cx="5.9" cy="148.8" rx="4.3" ry="2.6" fill="#10a010"/><text x="5.9" y="150.3" font-size="3.8" font-weight="bold" fill="#e8e8ff" text-anchor="middle">4</text>
<text x="11.8" y="150.4" fill="#48bc48" font-size="4.8" >RMS</text>
<text x="46.8" y="150.4" fill="#48bc48" font-size="4.8" >39.7mA</text>
<text x="78.5" y="150.4" fill="#48bc48" font-size="4.8" >39.7m</text>
<text x="113.6" y="150.4" fill="#48bc48" font-size="4.8" >39.7m</text>
<text x="148.7" y="150.4" fill="#48bc48" font-size="4.8" >39.7m</text>
<text x="183.8" y="150.4" fill="#48bc48" font-size="4.8" >0.00</text></g>
<g font-family="Liberation Serif, serif" fill="#151515" stroke="#151515" stroke-width="0.18"><g transform="translate(410.08,200.19) scale(0.962,0.992)"><text font-size="10" font-style="italic">v<tspan font-size="6.8" font-style="normal" dy="1.6">Cf</tspan></text></g><g transform="translate(411.80,225.59) scale(0.830,0.992)"><text font-size="10" font-style="italic">v<tspan font-size="6.8" font-style="normal" dy="1.6">ac</tspan></text></g><g transform="translate(426.21,262.51) scale(0.949,0.844)"><text font-size="10" font-style="italic">i<tspan font-size="6.8" font-style="normal" dy="1.6">ac</tspan><tspan dy="-1.6" font-style="normal">(</tspan>i<tspan font-size="6.8" font-style="normal" dy="1.6">L2</tspan><tspan dy="-1.6" font-style="normal">)</tspan></text></g><g transform="translate(456.11,273.28) scale(0.942,0.994)"><text font-size="10" font-style="italic">i<tspan font-size="6.8" font-style="normal" dy="1.6">Clk</tspan></text></g><g transform="translate(422.29,351.63) scale(1.013,0.986)"><text font-size="12">(<tspan font-weight="bold">d</tspan>)</text></g></g>
</g>
</svg>
</body></html>
